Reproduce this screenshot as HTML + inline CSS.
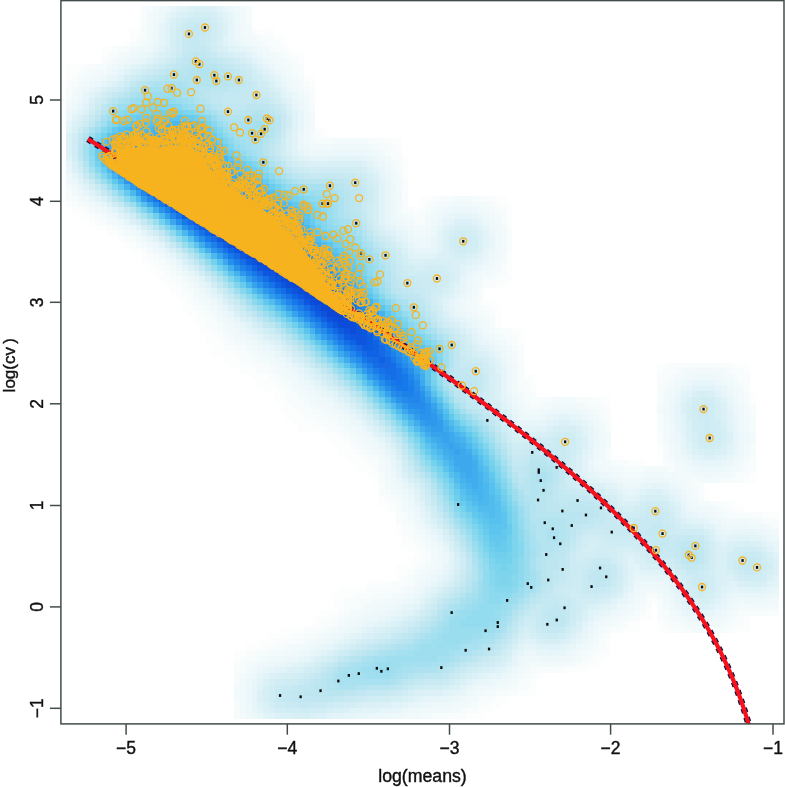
<!DOCTYPE html>
<html><head><meta charset="utf-8"><title>log(means) vs log(cv)</title>
<style>
html,body{margin:0;padding:0;background:#fff}
svg{display:block}
text{font-family:"Liberation Sans",sans-serif;fill:#111;stroke:#111;stroke-width:0.4px}
</style></head><body>
<svg width="785" height="787" viewBox="0 0 785 787">
<defs>
<clipPath id="pc"><rect x="60.9" y="0.6" width="723.1" height="723.3"/></clipPath>
<filter id="sb" x="-5%" y="-5%" width="110%" height="110%"><feGaussianBlur stdDeviation="0.5"/></filter>
</defs>
<rect width="785" height="787" fill="#fff"/>
<g shape-rendering="crispEdges" filter="url(#sb)">
<path fill="#fcfefe" d="M129.8 29.0H141.4V34.8H129.8zM257.3 29.0H274.7V34.8H257.3zM129.8 34.8H135.6V40.5H129.8zM274.7 34.8H286.3V40.5H274.7zM124.0 40.5H129.8V46.2H124.0zM280.5 40.5H286.3V46.2H280.5zM100.8 46.2H112.4V52.0H100.8zM286.3 46.2H292.1V52.0H286.3zM100.8 52.0H106.6V57.8H100.8zM292.1 52.0H303.7V57.8H292.1zM297.9 57.8H303.7V63.5H297.9zM66.0 63.5H83.4V69.2H66.0zM66.0 69.2H77.6V75.0H66.0zM66.0 75.0H71.8V80.8H66.0zM303.7 75.0H315.3V80.8H303.7zM309.5 80.8H315.3V86.5H309.5zM315.3 126.8H326.9V132.5H315.3zM321.1 132.5H326.9V138.2H321.1zM390.6 138.2H402.2V144.0H390.6zM396.4 144.0H402.2V149.8H396.4zM402.2 155.5H408.0V161.2H402.2zM402.2 161.2H408.0V167.0H402.2zM402.2 167.0H408.0V172.8H402.2zM402.2 172.8H408.0V178.5H402.2zM419.6 195.8H431.2V201.5H419.6zM495.0 195.8H506.6V201.5H495.0zM66.0 201.5H71.8V207.2H66.0zM419.6 201.5H425.4V207.2H419.6zM500.8 201.5H512.3V207.2H500.8zM71.8 207.2H83.4V213.0H71.8zM413.8 207.2H419.6V213.0H413.8zM506.6 207.2H512.3V213.0H506.6zM77.6 213.0H89.2V218.8H77.6zM506.6 213.0H512.3V218.8H506.6zM89.2 218.8H95.0V224.5H89.2zM506.6 218.8H512.3V224.5H506.6zM95.0 224.5H106.6V230.2H95.0zM506.6 224.5H512.3V230.2H506.6zM106.6 230.2H118.2V236.0H106.6zM118.2 236.0H124.0V241.8H118.2zM124.0 241.8H135.6V247.5H124.0zM129.8 247.5H141.4V253.2H129.8zM141.4 253.2H147.2V259.0H141.4zM506.6 253.2H512.3V259.0H506.6zM141.4 259.0H153.0V264.8H141.4zM506.6 259.0H512.3V264.8H506.6zM147.2 264.8H158.7V270.5H147.2zM506.6 264.8H512.3V270.5H506.6zM153.0 270.5H164.5V276.2H153.0zM506.6 270.5H512.3V276.2H506.6zM158.7 276.2H170.3V282.0H158.7zM500.8 276.2H512.3V282.0H500.8zM164.5 282.0H176.1V287.8H164.5zM495.0 282.0H506.6V287.8H495.0zM170.3 287.8H181.9V293.5H170.3zM176.1 293.5H187.7V299.2H176.1zM181.9 299.2H187.7V305.0H181.9zM483.4 299.2H495.0V305.0H483.4zM181.9 305.0H193.5V310.8H181.9zM489.2 305.0H500.8V310.8H489.2zM187.7 310.8H199.3V316.5H187.7zM495.0 310.8H500.8V316.5H495.0zM193.5 316.5H205.1V322.2H193.5zM495.0 316.5H500.8V322.2H495.0zM199.3 322.2H205.1V328.0H199.3zM495.0 322.2H500.8V328.0H495.0zM199.3 328.0H210.9V333.8H199.3zM512.3 328.0H523.9V333.8H512.3zM205.1 333.8H216.7V339.5H205.1zM518.1 333.8H523.9V339.5H518.1zM205.1 339.5H222.5V345.2H205.1zM518.1 339.5H523.9V345.2H518.1zM210.9 345.2H222.5V351.0H210.9zM210.9 351.0H234.1V356.8H210.9zM222.5 356.8H239.9V362.5H222.5zM228.3 362.5H251.5V368.2H228.3zM657.3 362.5H668.9V368.2H657.3zM732.6 362.5H750.0V368.2H732.6zM239.9 368.2H257.3V374.0H239.9zM657.3 368.2H663.1V374.0H657.3zM744.2 368.2H750.0V374.0H744.2zM251.5 374.0H268.9V379.8H251.5zM523.9 374.0H535.5V379.8H523.9zM257.3 379.8H274.7V385.5H257.3zM529.7 379.8H535.5V385.5H529.7zM263.1 385.5H280.5V391.2H263.1zM529.7 385.5H535.5V391.2H529.7zM274.7 391.2H286.3V397.0H274.7zM750.0 391.2H755.8V397.0H750.0zM274.7 397.0H286.3V402.8H274.7zM599.3 397.0H610.9V402.8H599.3zM750.0 397.0H755.8V402.8H750.0zM280.5 402.8H292.1V408.5H280.5zM605.1 402.8H610.9V408.5H605.1zM280.5 408.5H297.9V414.2H280.5zM286.3 414.2H303.7V420.0H286.3zM292.1 420.0H315.3V425.8H292.1zM297.9 425.8H326.9V431.5H297.9zM321.1 431.5H338.4V437.2H321.1zM326.9 437.2H344.2V443.0H326.9zM332.7 443.0H350.0V448.8H332.7zM657.3 443.0H663.1V448.8H657.3zM338.4 448.8H355.8V454.5H338.4zM657.3 448.8H663.1V454.5H657.3zM344.2 454.5H361.6V460.2H344.2zM610.9 454.5H622.5V460.2H610.9zM350.0 460.2H367.4V466.0H350.0zM628.3 460.2H645.7V466.0H628.3zM355.8 466.0H373.2V471.8H355.8zM367.4 471.8H379.0V477.5H367.4zM750.0 471.8H755.8V477.5H750.0zM373.2 477.5H379.0V483.2H373.2zM744.2 477.5H755.8V483.2H744.2zM703.6 489.0H709.4V494.8H703.6zM379.0 494.8H384.8V500.5H379.0zM703.6 494.8H709.4V500.5H703.6zM379.0 500.5H390.6V506.2H379.0zM726.8 500.5H738.4V506.2H726.8zM384.8 506.2H396.4V512.0H384.8zM732.6 506.2H744.2V512.0H732.6zM761.6 512.0H779.0V517.8H761.6zM396.4 523.5H402.2V529.2H396.4zM396.4 529.2H402.2V535.0H396.4zM402.2 535.0H408.0V540.8H402.2zM402.2 540.8H413.8V546.5H402.2zM408.0 546.5H419.6V552.2H408.0zM413.8 552.2H419.6V558.0H413.8zM408.0 558.0H419.6V563.8H408.0zM396.4 563.8H413.8V569.5H396.4zM396.4 569.5H408.0V575.2H396.4zM396.4 575.2H402.2V581.0H396.4zM367.4 581.0H390.6V586.8H367.4zM338.4 586.8H367.4V592.5H338.4zM332.7 592.5H355.8V598.2H332.7zM332.7 598.2H344.2V604.0H332.7zM651.5 598.2H657.3V604.0H651.5zM332.7 604.0H344.2V609.8H332.7zM321.1 609.8H338.4V615.5H321.1zM645.7 609.8H651.5V615.5H645.7zM315.3 615.5H332.7V621.2H315.3zM639.9 615.5H651.5V621.2H639.9zM744.2 615.5H750.0V621.2H744.2zM309.5 621.2H321.1V627.0H309.5zM628.3 621.2H639.9V627.0H628.3zM657.3 621.2H663.1V627.0H657.3zM744.2 621.2H750.0V627.0H744.2zM280.5 627.0H303.7V632.8H280.5zM622.5 627.0H639.9V632.8H622.5zM657.3 627.0H668.9V632.8H657.3zM732.6 627.0H750.0V632.8H732.6zM268.9 632.8H292.1V638.5H268.9zM257.3 638.5H274.7V644.2H257.3zM605.1 638.5H610.9V644.2H605.1zM245.7 644.2H263.1V650.0H245.7zM605.1 644.2H610.9V650.0H605.1zM234.1 650.0H245.7V655.8H234.1zM599.3 650.0H610.9V655.8H599.3zM234.1 655.8H239.9V661.5H234.1zM593.5 655.8H605.1V661.5H593.5zM587.7 661.5H599.3V667.2H587.7zM564.5 667.2H587.7V673.0H564.5zM535.5 673.0H541.3V678.8H535.5zM529.7 678.8H535.5V684.5H529.7zM529.7 684.5H535.5V690.2H529.7zM518.1 690.2H535.5V696.0H518.1zM495.0 696.0H506.6V701.8H495.0zM489.2 701.8H500.8V707.5H489.2zM477.6 707.5H495.0V713.2H477.6zM466.0 713.2H483.4V719.0H466.0z"/>
<path fill="#f9fcfd" d="M141.4 6.0H147.2V11.8H141.4zM141.4 11.8H147.2V17.5H141.4zM251.5 29.0H257.3V34.8H251.5zM135.6 34.8H141.4V40.5H135.6zM263.1 34.8H274.7V40.5H263.1zM129.8 40.5H135.6V46.2H129.8zM268.9 40.5H280.5V46.2H268.9zM112.4 46.2H118.2V52.0H112.4zM274.7 46.2H286.3V52.0H274.7zM106.6 52.0H112.4V57.8H106.6zM286.3 52.0H292.1V57.8H286.3zM100.8 57.8H106.6V63.5H100.8zM292.1 57.8H297.9V63.5H292.1zM83.4 63.5H95.0V69.2H83.4zM297.9 63.5H303.7V69.2H297.9zM77.6 69.2H83.4V75.0H77.6zM297.9 69.2H303.7V75.0H297.9zM71.8 75.0H77.6V80.8H71.8zM66.0 80.8H71.8V86.5H66.0zM303.7 80.8H309.5V86.5H303.7zM66.0 86.5H71.8V92.2H66.0zM309.5 86.5H315.3V92.2H309.5zM309.5 92.2H315.3V98.0H309.5zM315.3 132.5H321.1V138.2H315.3zM379.0 138.2H390.6V144.0H379.0zM390.6 144.0H396.4V149.8H390.6zM390.6 149.8H402.2V155.5H390.6zM396.4 155.5H402.2V161.2H396.4zM402.2 178.5H408.0V184.2H402.2zM402.2 184.2H408.0V190.0H402.2zM402.2 190.0H408.0V195.8H402.2zM66.0 195.8H71.8V201.5H66.0zM402.2 195.8H408.0V201.5H402.2zM431.2 195.8H442.8V201.5H431.2zM483.4 195.8H495.0V201.5H483.4zM71.8 201.5H77.6V207.2H71.8zM402.2 201.5H408.0V207.2H402.2zM425.4 201.5H431.2V207.2H425.4zM495.0 201.5H500.8V207.2H495.0zM83.4 207.2H89.2V213.0H83.4zM402.2 207.2H413.8V213.0H402.2zM419.6 207.2H425.4V213.0H419.6zM500.8 207.2H506.6V213.0H500.8zM89.2 213.0H95.0V218.8H89.2zM413.8 213.0H419.6V218.8H413.8zM95.0 218.8H106.6V224.5H95.0zM106.6 224.5H112.4V230.2H106.6zM118.2 230.2H124.0V236.0H118.2zM506.6 230.2H512.3V236.0H506.6zM124.0 236.0H129.8V241.8H124.0zM506.6 236.0H512.3V241.8H506.6zM506.6 241.8H512.3V247.5H506.6zM141.4 247.5H147.2V253.2H141.4zM506.6 247.5H512.3V253.2H506.6zM147.2 253.2H153.0V259.0H147.2zM153.0 259.0H158.7V264.8H153.0zM158.7 264.8H164.5V270.5H158.7zM500.8 264.8H506.6V270.5H500.8zM164.5 270.5H170.3V276.2H164.5zM500.8 270.5H506.6V276.2H500.8zM170.3 276.2H176.1V282.0H170.3zM495.0 276.2H500.8V282.0H495.0zM176.1 282.0H181.9V287.8H176.1zM483.4 282.0H495.0V287.8H483.4zM181.9 287.8H187.7V293.5H181.9zM187.7 293.5H193.5V299.2H187.7zM187.7 299.2H193.5V305.0H187.7zM477.6 299.2H483.4V305.0H477.6zM193.5 305.0H199.3V310.8H193.5zM483.4 305.0H489.2V310.8H483.4zM199.3 310.8H205.1V316.5H199.3zM489.2 310.8H495.0V316.5H489.2zM205.1 316.5H210.9V322.2H205.1zM205.1 322.2H216.7V328.0H205.1zM210.9 328.0H216.7V333.8H210.9zM500.8 328.0H512.3V333.8H500.8zM216.7 333.8H222.5V339.5H216.7zM506.6 333.8H518.1V339.5H506.6zM222.5 339.5H228.3V345.2H222.5zM512.3 339.5H518.1V345.2H512.3zM222.5 345.2H234.1V351.0H222.5zM518.1 345.2H523.9V351.0H518.1zM234.1 351.0H245.7V356.8H234.1zM518.1 351.0H523.9V356.8H518.1zM239.9 356.8H251.5V362.5H239.9zM518.1 356.8H523.9V362.5H518.1zM251.5 362.5H263.1V368.2H251.5zM668.9 362.5H686.3V368.2H668.9zM721.0 362.5H732.6V368.2H721.0zM257.3 368.2H268.9V374.0H257.3zM663.1 368.2H674.7V374.0H663.1zM732.6 368.2H744.2V374.0H732.6zM268.9 374.0H274.7V379.8H268.9zM657.3 374.0H668.9V379.8H657.3zM738.4 374.0H750.0V379.8H738.4zM274.7 379.8H280.5V385.5H274.7zM523.9 379.8H529.7V385.5H523.9zM657.3 379.8H663.1V385.5H657.3zM744.2 379.8H750.0V385.5H744.2zM280.5 385.5H286.3V391.2H280.5zM523.9 385.5H529.7V391.2H523.9zM744.2 385.5H750.0V391.2H744.2zM286.3 391.2H292.1V397.0H286.3zM529.7 391.2H535.5V397.0H529.7zM286.3 397.0H297.9V402.8H286.3zM529.7 397.0H541.3V402.8H529.7zM587.7 397.0H599.3V402.8H587.7zM292.1 402.8H303.7V408.5H292.1zM599.3 402.8H605.1V408.5H599.3zM750.0 402.8H755.8V408.5H750.0zM297.9 408.5H309.5V414.2H297.9zM605.1 408.5H610.9V414.2H605.1zM750.0 408.5H755.8V414.2H750.0zM303.7 414.2H315.3V420.0H303.7zM605.1 414.2H610.9V420.0H605.1zM315.3 420.0H326.9V425.8H315.3zM326.9 425.8H338.4V431.5H326.9zM338.4 431.5H344.2V437.2H338.4zM657.3 431.5H663.1V437.2H657.3zM344.2 437.2H350.0V443.0H344.2zM657.3 437.2H663.1V443.0H657.3zM350.0 443.0H355.8V448.8H350.0zM355.8 448.8H361.6V454.5H355.8zM361.6 454.5H367.4V460.2H361.6zM367.4 460.2H379.0V466.0H367.4zM616.7 460.2H628.3V466.0H616.7zM663.1 460.2H668.9V466.0H663.1zM750.0 460.2H755.8V466.0H750.0zM373.2 466.0H379.0V471.8H373.2zM750.0 466.0H755.8V471.8H750.0zM744.2 471.8H750.0V477.5H744.2zM732.6 477.5H744.2V483.2H732.6zM379.0 483.2H384.8V489.0H379.0zM697.8 483.2H703.6V489.0H697.8zM379.0 489.0H384.8V494.8H379.0zM697.8 489.0H703.6V494.8H697.8zM384.8 494.8H390.6V500.5H384.8zM390.6 500.5H396.4V506.2H390.6zM715.2 500.5H726.8V506.2H715.2zM726.8 506.2H732.6V512.0H726.8zM396.4 512.0H402.2V517.8H396.4zM732.6 512.0H761.6V517.8H732.6zM396.4 517.8H402.2V523.5H396.4zM767.4 517.8H779.0V523.5H767.4zM402.2 523.5H408.0V529.2H402.2zM402.2 529.2H413.8V535.0H402.2zM408.0 535.0H413.8V540.8H408.0zM413.8 540.8H419.6V546.5H413.8zM419.6 546.5H425.4V552.2H419.6zM419.6 552.2H431.2V558.0H419.6zM419.6 558.0H425.4V563.8H419.6zM413.8 563.8H419.6V569.5H413.8zM408.0 569.5H413.8V575.2H408.0zM402.2 575.2H408.0V581.0H402.2zM390.6 581.0H408.0V586.8H390.6zM367.4 586.8H396.4V592.5H367.4zM355.8 592.5H373.2V598.2H355.8zM344.2 598.2H355.8V604.0H344.2zM645.7 598.2H651.5V604.0H645.7zM344.2 604.0H350.0V609.8H344.2zM645.7 604.0H651.5V609.8H645.7zM338.4 609.8H344.2V615.5H338.4zM639.9 609.8H645.7V615.5H639.9zM657.3 609.8H663.1V615.5H657.3zM767.4 609.8H779.0V615.5H767.4zM332.7 615.5H338.4V621.2H332.7zM634.1 615.5H639.9V621.2H634.1zM657.3 615.5H663.1V621.2H657.3zM738.4 615.5H744.2V621.2H738.4zM321.1 621.2H332.7V627.0H321.1zM622.5 621.2H628.3V627.0H622.5zM663.1 621.2H668.9V627.0H663.1zM732.6 621.2H744.2V627.0H732.6zM303.7 627.0H321.1V632.8H303.7zM610.9 627.0H622.5V632.8H610.9zM668.9 627.0H680.5V632.8H668.9zM726.8 627.0H732.6V632.8H726.8zM292.1 632.8H303.7V638.5H292.1zM605.1 632.8H610.9V638.5H605.1zM274.7 638.5H292.1V644.2H274.7zM599.3 638.5H605.1V644.2H599.3zM263.1 644.2H274.7V650.0H263.1zM599.3 644.2H605.1V650.0H599.3zM245.7 650.0H257.3V655.8H245.7zM593.5 650.0H599.3V655.8H593.5zM239.9 655.8H245.7V661.5H239.9zM587.7 655.8H593.5V661.5H587.7zM234.1 661.5H239.9V667.2H234.1zM576.1 661.5H587.7V667.2H576.1zM234.1 667.2H239.9V673.0H234.1zM535.5 667.2H564.5V673.0H535.5zM529.7 673.0H535.5V678.8H529.7zM523.9 678.8H529.7V684.5H523.9zM518.1 684.5H529.7V690.2H518.1zM506.6 690.2H518.1V696.0H506.6zM483.4 696.0H495.0V701.8H483.4zM477.6 701.8H489.2V707.5H477.6zM466.0 707.5H477.6V713.2H466.0zM448.6 713.2H466.0V719.0H448.6z"/>
<path fill="#f6fbfc" d="M147.2 6.0H153.0V11.8H147.2zM245.7 6.0H251.5V11.8H245.7zM245.7 11.8H251.5V17.5H245.7zM141.4 17.5H147.2V23.2H141.4zM245.7 17.5H251.5V23.2H245.7zM141.4 23.2H147.2V29.0H141.4zM141.4 29.0H147.2V34.8H141.4zM141.4 34.8H147.2V40.5H141.4zM257.3 34.8H263.1V40.5H257.3zM135.6 40.5H141.4V46.2H135.6zM263.1 40.5H268.9V46.2H263.1zM118.2 46.2H129.8V52.0H118.2zM268.9 46.2H274.7V52.0H268.9zM112.4 52.0H118.2V57.8H112.4zM280.5 52.0H286.3V57.8H280.5zM106.6 57.8H112.4V63.5H106.6zM286.3 57.8H292.1V63.5H286.3zM95.0 63.5H106.6V69.2H95.0zM292.1 63.5H297.9V69.2H292.1zM83.4 69.2H89.2V75.0H83.4zM292.1 69.2H297.9V75.0H292.1zM77.6 75.0H83.4V80.8H77.6zM297.9 75.0H303.7V80.8H297.9zM71.8 80.8H77.6V86.5H71.8zM303.7 86.5H309.5V92.2H303.7zM66.0 92.2H71.8V98.0H66.0zM309.5 98.0H315.3V103.8H309.5zM309.5 103.8H315.3V109.5H309.5zM309.5 132.5H315.3V138.2H309.5zM315.3 138.2H332.7V144.0H315.3zM367.4 138.2H379.0V144.0H367.4zM379.0 144.0H390.6V149.8H379.0zM384.8 149.8H390.6V155.5H384.8zM390.6 155.5H396.4V161.2H390.6zM396.4 161.2H402.2V167.0H396.4zM396.4 167.0H402.2V172.8H396.4zM66.0 190.0H71.8V195.8H66.0zM71.8 195.8H77.6V201.5H71.8zM442.8 195.8H454.4V201.5H442.8zM471.8 195.8H483.4V201.5H471.8zM77.6 201.5H83.4V207.2H77.6zM431.2 201.5H437.0V207.2H431.2zM489.2 201.5H495.0V207.2H489.2zM425.4 207.2H431.2V213.0H425.4zM495.0 207.2H500.8V213.0H495.0zM95.0 213.0H100.8V218.8H95.0zM408.0 213.0H413.8V218.8H408.0zM419.6 213.0H425.4V218.8H419.6zM500.8 213.0H506.6V218.8H500.8zM413.8 218.8H425.4V224.5H413.8zM500.8 218.8H506.6V224.5H500.8zM112.4 224.5H118.2V230.2H112.4zM129.8 236.0H135.6V241.8H129.8zM135.6 241.8H141.4V247.5H135.6zM153.0 253.2H158.7V259.0H153.0zM158.7 259.0H164.5V264.8H158.7zM500.8 259.0H506.6V264.8H500.8zM164.5 264.8H170.3V270.5H164.5zM170.3 270.5H176.1V276.2H170.3zM495.0 270.5H500.8V276.2H495.0zM176.1 276.2H181.9V282.0H176.1zM483.4 276.2H495.0V282.0H483.4zM181.9 282.0H187.7V287.8H181.9zM187.7 287.8H193.5V293.5H187.7zM477.6 287.8H483.4V293.5H477.6zM477.6 293.5H483.4V299.2H477.6zM193.5 299.2H199.3V305.0H193.5zM199.3 305.0H205.1V310.8H199.3zM477.6 305.0H483.4V310.8H477.6zM205.1 310.8H210.9V316.5H205.1zM483.4 310.8H489.2V316.5H483.4zM210.9 316.5H216.7V322.2H210.9zM489.2 316.5H495.0V322.2H489.2zM216.7 322.2H222.5V328.0H216.7zM489.2 322.2H495.0V328.0H489.2zM216.7 328.0H222.5V333.8H216.7zM495.0 328.0H500.8V333.8H495.0zM222.5 333.8H228.3V339.5H222.5zM500.8 333.8H506.6V339.5H500.8zM228.3 339.5H234.1V345.2H228.3zM506.6 339.5H512.3V345.2H506.6zM234.1 345.2H245.7V351.0H234.1zM512.3 345.2H518.1V351.0H512.3zM245.7 351.0H251.5V356.8H245.7zM251.5 356.8H257.3V362.5H251.5zM263.1 362.5H268.9V368.2H263.1zM518.1 362.5H523.9V368.2H518.1zM686.3 362.5H721.0V368.2H686.3zM268.9 368.2H274.7V374.0H268.9zM518.1 368.2H523.9V374.0H518.1zM674.7 368.2H680.5V374.0H674.7zM726.8 368.2H732.6V374.0H726.8zM274.7 374.0H280.5V379.8H274.7zM518.1 374.0H523.9V379.8H518.1zM668.9 374.0H674.7V379.8H668.9zM732.6 374.0H738.4V379.8H732.6zM280.5 379.8H292.1V385.5H280.5zM518.1 379.8H523.9V385.5H518.1zM663.1 379.8H668.9V385.5H663.1zM738.4 379.8H744.2V385.5H738.4zM286.3 385.5H292.1V391.2H286.3zM518.1 385.5H523.9V391.2H518.1zM657.3 385.5H663.1V391.2H657.3zM292.1 391.2H297.9V397.0H292.1zM523.9 391.2H529.7V397.0H523.9zM657.3 391.2H663.1V397.0H657.3zM744.2 391.2H750.0V397.0H744.2zM297.9 397.0H303.7V402.8H297.9zM523.9 397.0H529.7V402.8H523.9zM541.3 397.0H552.9V402.8H541.3zM576.1 397.0H587.7V402.8H576.1zM657.3 397.0H663.1V402.8H657.3zM744.2 397.0H750.0V402.8H744.2zM303.7 402.8H309.5V408.5H303.7zM529.7 402.8H541.3V408.5H529.7zM587.7 402.8H599.3V408.5H587.7zM309.5 408.5H321.1V414.2H309.5zM599.3 408.5H605.1V414.2H599.3zM315.3 414.2H326.9V420.0H315.3zM599.3 414.2H605.1V420.0H599.3zM657.3 414.2H663.1V420.0H657.3zM750.0 414.2H755.8V420.0H750.0zM326.9 420.0H338.4V425.8H326.9zM605.1 420.0H610.9V425.8H605.1zM657.3 420.0H663.1V425.8H657.3zM750.0 420.0H755.8V425.8H750.0zM338.4 425.8H344.2V431.5H338.4zM605.1 425.8H610.9V431.5H605.1zM657.3 425.8H663.1V431.5H657.3zM750.0 425.8H755.8V431.5H750.0zM344.2 431.5H350.0V437.2H344.2zM350.0 437.2H355.8V443.0H350.0zM355.8 443.0H361.6V448.8H355.8zM663.1 443.0H668.9V448.8H663.1zM750.0 443.0H755.8V448.8H750.0zM361.6 448.8H367.4V454.5H361.6zM605.1 448.8H610.9V454.5H605.1zM663.1 448.8H668.9V454.5H663.1zM750.0 448.8H755.8V454.5H750.0zM367.4 454.5H379.0V460.2H367.4zM605.1 454.5H610.9V460.2H605.1zM663.1 454.5H668.9V460.2H663.1zM750.0 454.5H755.8V460.2H750.0zM610.9 460.2H616.7V466.0H610.9zM668.9 460.2H674.7V466.0H668.9zM744.2 460.2H750.0V466.0H744.2zM622.5 466.0H645.7V471.8H622.5zM668.9 466.0H674.7V471.8H668.9zM744.2 466.0H750.0V471.8H744.2zM379.0 471.8H384.8V477.5H379.0zM732.6 471.8H744.2V477.5H732.6zM379.0 477.5H384.8V483.2H379.0zM692.0 477.5H697.8V483.2H692.0zM721.0 477.5H732.6V483.2H721.0zM692.0 483.2H697.8V489.0H692.0zM384.8 489.0H390.6V494.8H384.8zM390.6 494.8H396.4V500.5H390.6zM697.8 494.8H703.6V500.5H697.8zM396.4 500.5H402.2V506.2H396.4zM709.4 500.5H715.2V506.2H709.4zM396.4 506.2H402.2V512.0H396.4zM721.0 506.2H726.8V512.0H721.0zM402.2 512.0H408.0V517.8H402.2zM726.8 512.0H732.6V517.8H726.8zM402.2 517.8H408.0V523.5H402.2zM761.6 517.8H767.4V523.5H761.6zM408.0 523.5H413.8V529.2H408.0zM773.2 523.5H779.0V529.2H773.2zM413.8 535.0H419.6V540.8H413.8zM419.6 540.8H425.4V546.5H419.6zM425.4 546.5H431.2V552.2H425.4zM425.4 558.0H431.2V563.8H425.4zM419.6 563.8H425.4V569.5H419.6zM413.8 569.5H419.6V575.2H413.8zM408.0 575.2H413.8V581.0H408.0zM408.0 581.0H413.8V586.8H408.0zM396.4 586.8H402.2V592.5H396.4zM373.2 592.5H390.6V598.2H373.2zM645.7 592.5H657.3V598.2H645.7zM355.8 598.2H373.2V604.0H355.8zM657.3 598.2H663.1V604.0H657.3zM350.0 604.0H361.6V609.8H350.0zM639.9 604.0H645.7V609.8H639.9zM657.3 604.0H663.1V609.8H657.3zM344.2 609.8H350.0V615.5H344.2zM634.1 609.8H639.9V615.5H634.1zM663.1 609.8H668.9V615.5H663.1zM738.4 609.8H767.4V615.5H738.4zM338.4 615.5H344.2V621.2H338.4zM628.3 615.5H634.1V621.2H628.3zM663.1 615.5H668.9V621.2H663.1zM732.6 615.5H738.4V621.2H732.6zM332.7 621.2H338.4V627.0H332.7zM616.7 621.2H622.5V627.0H616.7zM668.9 621.2H680.5V627.0H668.9zM726.8 621.2H732.6V627.0H726.8zM321.1 627.0H326.9V632.8H321.1zM605.1 627.0H610.9V632.8H605.1zM680.5 627.0H692.0V632.8H680.5zM709.4 627.0H726.8V632.8H709.4zM303.7 632.8H315.3V638.5H303.7zM599.3 632.8H605.1V638.5H599.3zM292.1 638.5H303.7V644.2H292.1zM274.7 644.2H286.3V650.0H274.7zM593.5 644.2H599.3V650.0H593.5zM257.3 650.0H268.9V655.8H257.3zM587.7 650.0H593.5V655.8H587.7zM245.7 655.8H257.3V661.5H245.7zM581.9 655.8H587.7V661.5H581.9zM239.9 661.5H245.7V667.2H239.9zM570.3 661.5H576.1V667.2H570.3zM239.9 667.2H245.7V673.0H239.9zM529.7 667.2H535.5V673.0H529.7zM234.1 673.0H239.9V678.8H234.1zM523.9 673.0H529.7V678.8H523.9zM234.1 678.8H239.9V684.5H234.1zM518.1 678.8H523.9V684.5H518.1zM512.3 684.5H518.1V690.2H512.3zM495.0 690.2H506.6V696.0H495.0zM477.6 696.0H483.4V701.8H477.6zM234.1 701.8H239.9V707.5H234.1zM471.8 701.8H477.6V707.5H471.8zM234.1 707.5H239.9V713.2H234.1zM460.2 707.5H466.0V713.2H460.2zM234.1 713.2H239.9V719.0H234.1zM431.2 713.2H448.6V719.0H431.2z"/>
<path fill="#f3fafc" d="M153.0 6.0H158.7V11.8H153.0zM239.9 6.0H245.7V11.8H239.9zM147.2 11.8H153.0V17.5H147.2zM147.2 17.5H153.0V23.2H147.2zM245.7 23.2H251.5V29.0H245.7zM245.7 29.0H251.5V34.8H245.7zM251.5 34.8H257.3V40.5H251.5zM141.4 40.5H147.2V46.2H141.4zM257.3 40.5H263.1V46.2H257.3zM129.8 46.2H135.6V52.0H129.8zM118.2 52.0H124.0V57.8H118.2zM274.7 52.0H280.5V57.8H274.7zM112.4 57.8H118.2V63.5H112.4zM280.5 57.8H286.3V63.5H280.5zM286.3 63.5H292.1V69.2H286.3zM89.2 69.2H100.8V75.0H89.2zM83.4 75.0H89.2V80.8H83.4zM292.1 75.0H297.9V80.8H292.1zM77.6 80.8H83.4V86.5H77.6zM297.9 80.8H303.7V86.5H297.9zM71.8 86.5H77.6V92.2H71.8zM297.9 86.5H303.7V92.2H297.9zM303.7 92.2H309.5V98.0H303.7zM66.0 98.0H71.8V103.8H66.0zM309.5 109.5H315.3V115.2H309.5zM309.5 115.2H315.3V121.0H309.5zM309.5 121.0H315.3V126.8H309.5zM309.5 126.8H315.3V132.5H309.5zM309.5 138.2H315.3V144.0H309.5zM332.7 138.2H367.4V144.0H332.7zM373.2 144.0H379.0V149.8H373.2zM390.6 161.2H396.4V167.0H390.6zM396.4 172.8H402.2V178.5H396.4zM396.4 178.5H402.2V184.2H396.4zM66.0 184.2H71.8V190.0H66.0zM396.4 184.2H402.2V190.0H396.4zM454.4 195.8H471.8V201.5H454.4zM83.4 201.5H89.2V207.2H83.4zM437.0 201.5H448.6V207.2H437.0zM477.6 201.5H489.2V207.2H477.6zM89.2 207.2H95.0V213.0H89.2zM396.4 207.2H402.2V213.0H396.4zM431.2 207.2H437.0V213.0H431.2zM489.2 207.2H495.0V213.0H489.2zM100.8 213.0H106.6V218.8H100.8zM402.2 213.0H408.0V218.8H402.2zM425.4 213.0H431.2V218.8H425.4zM495.0 213.0H500.8V218.8H495.0zM106.6 218.8H112.4V224.5H106.6zM408.0 218.8H413.8V224.5H408.0zM118.2 224.5H124.0V230.2H118.2zM413.8 224.5H425.4V230.2H413.8zM500.8 224.5H506.6V230.2H500.8zM124.0 230.2H129.8V236.0H124.0zM500.8 230.2H506.6V236.0H500.8zM500.8 236.0H506.6V241.8H500.8zM141.4 241.8H147.2V247.5H141.4zM500.8 241.8H506.6V247.5H500.8zM147.2 247.5H153.0V253.2H147.2zM500.8 247.5H506.6V253.2H500.8zM500.8 253.2H506.6V259.0H500.8zM495.0 259.0H500.8V264.8H495.0zM495.0 264.8H500.8V270.5H495.0zM489.2 270.5H495.0V276.2H489.2zM477.6 282.0H483.4V287.8H477.6zM193.5 293.5H199.3V299.2H193.5zM471.8 293.5H477.6V299.2H471.8zM199.3 299.2H205.1V305.0H199.3zM471.8 299.2H477.6V305.0H471.8zM205.1 305.0H210.9V310.8H205.1zM471.8 305.0H477.6V310.8H471.8zM210.9 310.8H216.7V316.5H210.9zM477.6 310.8H483.4V316.5H477.6zM483.4 316.5H489.2V322.2H483.4zM222.5 328.0H228.3V333.8H222.5zM489.2 328.0H495.0V333.8H489.2zM228.3 333.8H234.1V339.5H228.3zM495.0 333.8H500.8V339.5H495.0zM234.1 339.5H239.9V345.2H234.1zM245.7 345.2H251.5V351.0H245.7zM506.6 345.2H512.3V351.0H506.6zM251.5 351.0H257.3V356.8H251.5zM512.3 351.0H518.1V356.8H512.3zM257.3 356.8H268.9V362.5H257.3zM512.3 356.8H518.1V362.5H512.3zM268.9 362.5H274.7V368.2H268.9zM274.7 368.2H280.5V374.0H274.7zM680.5 368.2H686.3V374.0H680.5zM721.0 368.2H726.8V374.0H721.0zM280.5 374.0H286.3V379.8H280.5zM674.7 374.0H680.5V379.8H674.7zM726.8 374.0H732.6V379.8H726.8zM668.9 379.8H674.7V385.5H668.9zM732.6 379.8H738.4V385.5H732.6zM292.1 385.5H297.9V391.2H292.1zM663.1 385.5H668.9V391.2H663.1zM738.4 385.5H744.2V391.2H738.4zM297.9 391.2H303.7V397.0H297.9zM518.1 391.2H523.9V397.0H518.1zM303.7 397.0H309.5V402.8H303.7zM552.9 397.0H576.1V402.8H552.9zM309.5 402.8H315.3V408.5H309.5zM523.9 402.8H529.7V408.5H523.9zM541.3 402.8H547.1V408.5H541.3zM581.9 402.8H587.7V408.5H581.9zM657.3 402.8H663.1V408.5H657.3zM744.2 402.8H750.0V408.5H744.2zM321.1 408.5H326.9V414.2H321.1zM593.5 408.5H599.3V414.2H593.5zM657.3 408.5H663.1V414.2H657.3zM744.2 408.5H750.0V414.2H744.2zM326.9 414.2H338.4V420.0H326.9zM744.2 414.2H750.0V420.0H744.2zM338.4 420.0H344.2V425.8H338.4zM599.3 420.0H605.1V425.8H599.3zM344.2 425.8H350.0V431.5H344.2zM663.1 425.8H668.9V431.5H663.1zM350.0 431.5H355.8V437.2H350.0zM605.1 431.5H610.9V437.2H605.1zM663.1 431.5H668.9V437.2H663.1zM750.0 431.5H755.8V437.2H750.0zM355.8 437.2H361.6V443.0H355.8zM605.1 437.2H610.9V443.0H605.1zM663.1 437.2H668.9V443.0H663.1zM750.0 437.2H755.8V443.0H750.0zM361.6 443.0H367.4V448.8H361.6zM605.1 443.0H610.9V448.8H605.1zM367.4 448.8H373.2V454.5H367.4zM668.9 454.5H674.7V460.2H668.9zM744.2 454.5H750.0V460.2H744.2zM379.0 460.2H384.8V466.0H379.0zM605.1 460.2H610.9V466.0H605.1zM379.0 466.0H384.8V471.8H379.0zM610.9 466.0H622.5V471.8H610.9zM645.7 466.0H668.9V471.8H645.7zM674.7 466.0H680.5V471.8H674.7zM738.4 466.0H744.2V471.8H738.4zM622.5 471.8H639.9V477.5H622.5zM674.7 471.8H692.0V477.5H674.7zM726.8 471.8H732.6V477.5H726.8zM384.8 477.5H390.6V483.2H384.8zM680.5 477.5H692.0V483.2H680.5zM697.8 477.5H721.0V483.2H697.8zM384.8 483.2H390.6V489.0H384.8zM686.3 483.2H692.0V489.0H686.3zM390.6 489.0H396.4V494.8H390.6zM692.0 489.0H697.8V494.8H692.0zM396.4 494.8H402.2V500.5H396.4zM692.0 494.8H697.8V500.5H692.0zM697.8 500.5H709.4V506.2H697.8zM402.2 506.2H408.0V512.0H402.2zM715.2 506.2H721.0V512.0H715.2zM721.0 512.0H726.8V517.8H721.0zM408.0 517.8H413.8V523.5H408.0zM750.0 517.8H761.6V523.5H750.0zM767.4 523.5H773.2V529.2H767.4zM413.8 529.2H419.6V535.0H413.8zM419.6 535.0H425.4V540.8H419.6zM425.4 540.8H431.2V546.5H425.4zM431.2 552.2H437.0V558.0H431.2zM431.2 558.0H437.0V563.8H431.2zM425.4 563.8H431.2V569.5H425.4zM419.6 569.5H425.4V575.2H419.6zM413.8 575.2H419.6V581.0H413.8zM402.2 586.8H408.0V592.5H402.2zM390.6 592.5H402.2V598.2H390.6zM657.3 592.5H663.1V598.2H657.3zM373.2 598.2H384.8V604.0H373.2zM639.9 598.2H645.7V604.0H639.9zM361.6 604.0H367.4V609.8H361.6zM634.1 604.0H639.9V609.8H634.1zM663.1 604.0H668.9V609.8H663.1zM738.4 604.0H750.0V609.8H738.4zM767.4 604.0H779.0V609.8H767.4zM350.0 609.8H361.6V615.5H350.0zM628.3 609.8H634.1V615.5H628.3zM732.6 609.8H738.4V615.5H732.6zM344.2 615.5H350.0V621.2H344.2zM616.7 615.5H628.3V621.2H616.7zM668.9 615.5H674.7V621.2H668.9zM726.8 615.5H732.6V621.2H726.8zM338.4 621.2H344.2V627.0H338.4zM610.9 621.2H616.7V627.0H610.9zM680.5 621.2H686.3V627.0H680.5zM721.0 621.2H726.8V627.0H721.0zM326.9 627.0H332.7V632.8H326.9zM599.3 627.0H605.1V632.8H599.3zM692.0 627.0H709.4V632.8H692.0zM315.3 632.8H321.1V638.5H315.3zM303.7 638.5H309.5V644.2H303.7zM593.5 638.5H599.3V644.2H593.5zM286.3 644.2H297.9V650.0H286.3zM587.7 644.2H593.5V650.0H587.7zM268.9 650.0H280.5V655.8H268.9zM581.9 650.0H587.7V655.8H581.9zM257.3 655.8H263.1V661.5H257.3zM576.1 655.8H581.9V661.5H576.1zM245.7 661.5H251.5V667.2H245.7zM529.7 661.5H541.3V667.2H529.7zM558.7 661.5H570.3V667.2H558.7zM523.9 667.2H529.7V673.0H523.9zM239.9 673.0H245.7V678.8H239.9zM518.1 673.0H523.9V678.8H518.1zM512.3 678.8H518.1V684.5H512.3zM234.1 684.5H239.9V690.2H234.1zM506.6 684.5H512.3V690.2H506.6zM234.1 690.2H239.9V696.0H234.1zM483.4 690.2H495.0V696.0H483.4zM234.1 696.0H239.9V701.8H234.1zM471.8 696.0H477.6V701.8H471.8zM466.0 701.8H471.8V707.5H466.0zM448.6 707.5H460.2V713.2H448.6zM239.9 713.2H245.7V719.0H239.9zM419.6 713.2H431.2V719.0H419.6z"/>
<path fill="#f1f9fb" d="M153.0 11.8H158.7V17.5H153.0zM239.9 11.8H245.7V17.5H239.9zM239.9 17.5H245.7V23.2H239.9zM147.2 23.2H153.0V29.0H147.2zM239.9 23.2H245.7V29.0H239.9zM147.2 29.0H153.0V34.8H147.2zM239.9 29.0H245.7V34.8H239.9zM147.2 34.8H153.0V40.5H147.2zM245.7 34.8H251.5V40.5H245.7zM251.5 40.5H257.3V46.2H251.5zM135.6 46.2H141.4V52.0H135.6zM263.1 46.2H268.9V52.0H263.1zM124.0 52.0H129.8V57.8H124.0zM268.9 52.0H274.7V57.8H268.9zM118.2 57.8H124.0V63.5H118.2zM274.7 57.8H280.5V63.5H274.7zM106.6 63.5H112.4V69.2H106.6zM280.5 63.5H286.3V69.2H280.5zM100.8 69.2H106.6V75.0H100.8zM286.3 69.2H292.1V75.0H286.3zM89.2 75.0H95.0V80.8H89.2zM83.4 80.8H89.2V86.5H83.4zM292.1 80.8H297.9V86.5H292.1zM77.6 86.5H83.4V92.2H77.6zM71.8 92.2H77.6V98.0H71.8zM303.7 98.0H309.5V103.8H303.7zM66.0 103.8H71.8V109.5H66.0zM309.5 144.0H332.7V149.8H309.5zM367.4 144.0H373.2V149.8H367.4zM379.0 149.8H384.8V155.5H379.0zM384.8 155.5H390.6V161.2H384.8zM390.6 167.0H396.4V172.8H390.6zM71.8 190.0H77.6V195.8H71.8zM396.4 190.0H402.2V195.8H396.4zM77.6 195.8H83.4V201.5H77.6zM396.4 195.8H402.2V201.5H396.4zM396.4 201.5H402.2V207.2H396.4zM448.6 201.5H454.4V207.2H448.6zM471.8 201.5H477.6V207.2H471.8zM95.0 207.2H100.8V213.0H95.0zM437.0 207.2H442.8V213.0H437.0zM483.4 207.2H489.2V213.0H483.4zM396.4 213.0H402.2V218.8H396.4zM431.2 213.0H437.0V218.8H431.2zM489.2 213.0H495.0V218.8H489.2zM112.4 218.8H118.2V224.5H112.4zM402.2 218.8H408.0V224.5H402.2zM425.4 218.8H431.2V224.5H425.4zM495.0 218.8H500.8V224.5H495.0zM408.0 224.5H413.8V230.2H408.0zM425.4 224.5H431.2V230.2H425.4zM495.0 224.5H500.8V230.2H495.0zM129.8 230.2H135.6V236.0H129.8zM413.8 230.2H425.4V236.0H413.8zM135.6 236.0H141.4V241.8H135.6zM158.7 253.2H164.5V259.0H158.7zM495.0 253.2H500.8V259.0H495.0zM164.5 259.0H170.3V264.8H164.5zM170.3 264.8H176.1V270.5H170.3zM489.2 264.8H495.0V270.5H489.2zM176.1 270.5H181.9V276.2H176.1zM483.4 270.5H489.2V276.2H483.4zM181.9 276.2H187.7V282.0H181.9zM477.6 276.2H483.4V282.0H477.6zM187.7 282.0H193.5V287.8H187.7zM471.8 282.0H477.6V287.8H471.8zM193.5 287.8H199.3V293.5H193.5zM471.8 287.8H477.6V293.5H471.8zM199.3 293.5H205.1V299.2H199.3zM205.1 299.2H210.9V305.0H205.1zM466.0 299.2H471.8V305.0H466.0zM466.0 305.0H471.8V310.8H466.0zM471.8 310.8H477.6V316.5H471.8zM216.7 316.5H222.5V322.2H216.7zM477.6 316.5H483.4V322.2H477.6zM222.5 322.2H228.3V328.0H222.5zM483.4 322.2H489.2V328.0H483.4zM228.3 328.0H234.1V333.8H228.3zM234.1 333.8H239.9V339.5H234.1zM239.9 339.5H245.7V345.2H239.9zM500.8 339.5H506.6V345.2H500.8zM251.5 345.2H257.3V351.0H251.5zM257.3 351.0H263.1V356.8H257.3zM506.6 351.0H512.3V356.8H506.6zM274.7 362.5H280.5V368.2H274.7zM512.3 362.5H518.1V368.2H512.3zM280.5 368.2H286.3V374.0H280.5zM512.3 368.2H518.1V374.0H512.3zM686.3 368.2H721.0V374.0H686.3zM286.3 374.0H292.1V379.8H286.3zM512.3 374.0H518.1V379.8H512.3zM680.5 374.0H686.3V379.8H680.5zM721.0 374.0H726.8V379.8H721.0zM292.1 379.8H297.9V385.5H292.1zM512.3 379.8H518.1V385.5H512.3zM297.9 385.5H303.7V391.2H297.9zM512.3 385.5H518.1V391.2H512.3zM668.9 385.5H674.7V391.2H668.9zM732.6 385.5H738.4V391.2H732.6zM303.7 391.2H309.5V397.0H303.7zM663.1 391.2H668.9V397.0H663.1zM738.4 391.2H744.2V397.0H738.4zM309.5 397.0H315.3V402.8H309.5zM518.1 397.0H523.9V402.8H518.1zM663.1 397.0H668.9V402.8H663.1zM738.4 397.0H744.2V402.8H738.4zM315.3 402.8H326.9V408.5H315.3zM547.1 402.8H552.9V408.5H547.1zM576.1 402.8H581.9V408.5H576.1zM663.1 402.8H668.9V408.5H663.1zM326.9 408.5H332.7V414.2H326.9zM523.9 408.5H541.3V414.2H523.9zM587.7 408.5H593.5V414.2H587.7zM338.4 414.2H344.2V420.0H338.4zM593.5 414.2H599.3V420.0H593.5zM663.1 414.2H668.9V420.0H663.1zM344.2 420.0H350.0V425.8H344.2zM663.1 420.0H668.9V425.8H663.1zM744.2 420.0H750.0V425.8H744.2zM350.0 425.8H355.8V431.5H350.0zM599.3 425.8H605.1V431.5H599.3zM744.2 425.8H750.0V431.5H744.2zM355.8 431.5H361.6V437.2H355.8zM599.3 431.5H605.1V437.2H599.3zM361.6 437.2H367.4V443.0H361.6zM367.4 443.0H373.2V448.8H367.4zM668.9 443.0H674.7V448.8H668.9zM744.2 443.0H750.0V448.8H744.2zM373.2 448.8H379.0V454.5H373.2zM599.3 448.8H605.1V454.5H599.3zM668.9 448.8H674.7V454.5H668.9zM744.2 448.8H750.0V454.5H744.2zM379.0 454.5H384.8V460.2H379.0zM599.3 454.5H605.1V460.2H599.3zM599.3 460.2H605.1V466.0H599.3zM674.7 460.2H680.5V466.0H674.7zM738.4 460.2H744.2V466.0H738.4zM605.1 466.0H610.9V471.8H605.1zM680.5 466.0H686.3V471.8H680.5zM732.6 466.0H738.4V471.8H732.6zM384.8 471.8H390.6V477.5H384.8zM616.7 471.8H622.5V477.5H616.7zM639.9 471.8H645.7V477.5H639.9zM663.1 471.8H674.7V477.5H663.1zM692.0 471.8H703.6V477.5H692.0zM715.2 471.8H726.8V477.5H715.2zM674.7 477.5H680.5V483.2H674.7zM390.6 483.2H396.4V489.0H390.6zM680.5 483.2H686.3V489.0H680.5zM686.3 489.0H692.0V494.8H686.3zM402.2 500.5H408.0V506.2H402.2zM692.0 500.5H697.8V506.2H692.0zM703.6 506.2H715.2V512.0H703.6zM408.0 512.0H413.8V517.8H408.0zM715.2 512.0H721.0V517.8H715.2zM726.8 517.8H750.0V523.5H726.8zM413.8 523.5H419.6V529.2H413.8zM761.6 523.5H767.4V529.2H761.6zM419.6 529.2H425.4V535.0H419.6zM773.2 529.2H779.0V535.0H773.2zM431.2 546.5H437.0V552.2H431.2zM431.2 563.8H437.0V569.5H431.2zM425.4 569.5H431.2V575.2H425.4zM419.6 575.2H425.4V581.0H419.6zM413.8 581.0H419.6V586.8H413.8zM408.0 586.8H413.8V592.5H408.0zM645.7 586.8H657.3V592.5H645.7zM402.2 592.5H408.0V598.2H402.2zM639.9 592.5H645.7V598.2H639.9zM384.8 598.2H396.4V604.0H384.8zM634.1 598.2H639.9V604.0H634.1zM663.1 598.2H668.9V604.0H663.1zM773.2 598.2H779.0V604.0H773.2zM367.4 604.0H379.0V609.8H367.4zM628.3 604.0H634.1V609.8H628.3zM732.6 604.0H738.4V609.8H732.6zM750.0 604.0H767.4V609.8H750.0zM361.6 609.8H367.4V615.5H361.6zM622.5 609.8H628.3V615.5H622.5zM668.9 609.8H674.7V615.5H668.9zM726.8 609.8H732.6V615.5H726.8zM350.0 615.5H355.8V621.2H350.0zM610.9 615.5H616.7V621.2H610.9zM674.7 615.5H680.5V621.2H674.7zM721.0 615.5H726.8V621.2H721.0zM344.2 621.2H350.0V627.0H344.2zM605.1 621.2H610.9V627.0H605.1zM686.3 621.2H697.8V627.0H686.3zM709.4 621.2H721.0V627.0H709.4zM332.7 627.0H338.4V632.8H332.7zM321.1 632.8H326.9V638.5H321.1zM593.5 632.8H599.3V638.5H593.5zM309.5 638.5H315.3V644.2H309.5zM587.7 638.5H593.5V644.2H587.7zM297.9 644.2H303.7V650.0H297.9zM280.5 650.0H292.1V655.8H280.5zM576.1 650.0H581.9V655.8H576.1zM263.1 655.8H268.9V661.5H263.1zM570.3 655.8H576.1V661.5H570.3zM251.5 661.5H257.3V667.2H251.5zM523.9 661.5H529.7V667.2H523.9zM541.3 661.5H558.7V667.2H541.3zM245.7 667.2H251.5V673.0H245.7zM518.1 667.2H523.9V673.0H518.1zM239.9 678.8H245.7V684.5H239.9zM506.6 678.8H512.3V684.5H506.6zM239.9 684.5H245.7V690.2H239.9zM495.0 684.5H506.6V690.2H495.0zM477.6 690.2H483.4V696.0H477.6zM466.0 696.0H471.8V701.8H466.0zM239.9 701.8H245.7V707.5H239.9zM454.4 701.8H466.0V707.5H454.4zM239.9 707.5H245.7V713.2H239.9zM425.4 707.5H448.6V713.2H425.4zM408.0 713.2H419.6V719.0H408.0z"/>
<path fill="#eff8fb" d="M158.7 6.0H164.5V11.8H158.7zM234.1 6.0H239.9V11.8H234.1zM153.0 17.5H158.7V23.2H153.0zM239.9 34.8H245.7V40.5H239.9zM147.2 40.5H153.0V46.2H147.2zM245.7 40.5H251.5V46.2H245.7zM141.4 46.2H147.2V52.0H141.4zM257.3 46.2H263.1V52.0H257.3zM129.8 52.0H135.6V57.8H129.8zM263.1 52.0H268.9V57.8H263.1zM268.9 57.8H274.7V63.5H268.9zM112.4 63.5H118.2V69.2H112.4zM274.7 63.5H280.5V69.2H274.7zM106.6 69.2H112.4V75.0H106.6zM280.5 69.2H286.3V75.0H280.5zM95.0 75.0H100.8V80.8H95.0zM286.3 75.0H292.1V80.8H286.3zM292.1 86.5H297.9V92.2H292.1zM77.6 92.2H83.4V98.0H77.6zM297.9 92.2H303.7V98.0H297.9zM71.8 98.0H77.6V103.8H71.8zM303.7 103.8H309.5V109.5H303.7zM303.7 109.5H309.5V115.2H303.7zM303.7 115.2H309.5V121.0H303.7zM303.7 121.0H309.5V126.8H303.7zM303.7 126.8H309.5V132.5H303.7zM303.7 132.5H309.5V138.2H303.7zM303.7 138.2H309.5V144.0H303.7zM332.7 144.0H367.4V149.8H332.7zM373.2 149.8H379.0V155.5H373.2zM379.0 155.5H384.8V161.2H379.0zM384.8 161.2H390.6V167.0H384.8zM390.6 172.8H396.4V178.5H390.6zM66.0 178.5H71.8V184.2H66.0zM390.6 178.5H396.4V184.2H390.6zM71.8 184.2H77.6V190.0H71.8zM83.4 195.8H89.2V201.5H83.4zM89.2 201.5H95.0V207.2H89.2zM454.4 201.5H471.8V207.2H454.4zM442.8 207.2H448.6V213.0H442.8zM477.6 207.2H483.4V213.0H477.6zM106.6 213.0H112.4V218.8H106.6zM396.4 218.8H402.2V224.5H396.4zM431.2 218.8H437.0V224.5H431.2zM489.2 218.8H495.0V224.5H489.2zM124.0 224.5H129.8V230.2H124.0zM425.4 230.2H431.2V236.0H425.4zM495.0 230.2H500.8V236.0H495.0zM419.6 236.0H425.4V241.8H419.6zM495.0 236.0H500.8V241.8H495.0zM147.2 241.8H153.0V247.5H147.2zM495.0 241.8H500.8V247.5H495.0zM153.0 247.5H158.7V253.2H153.0zM495.0 247.5H500.8V253.2H495.0zM489.2 259.0H495.0V264.8H489.2zM483.4 264.8H489.2V270.5H483.4zM477.6 270.5H483.4V276.2H477.6zM471.8 276.2H477.6V282.0H471.8zM466.0 293.5H471.8V299.2H466.0zM460.2 299.2H466.0V305.0H460.2zM210.9 305.0H216.7V310.8H210.9zM460.2 305.0H466.0V310.8H460.2zM216.7 310.8H222.5V316.5H216.7zM466.0 310.8H471.8V316.5H466.0zM222.5 316.5H228.3V322.2H222.5zM228.3 322.2H234.1V328.0H228.3zM477.6 322.2H483.4V328.0H477.6zM234.1 328.0H239.9V333.8H234.1zM483.4 328.0H489.2V333.8H483.4zM239.9 333.8H245.7V339.5H239.9zM489.2 333.8H495.0V339.5H489.2zM245.7 339.5H251.5V345.2H245.7zM495.0 339.5H500.8V345.2H495.0zM500.8 345.2H506.6V351.0H500.8zM263.1 351.0H268.9V356.8H263.1zM268.9 356.8H274.7V362.5H268.9zM506.6 356.8H512.3V362.5H506.6zM280.5 362.5H286.3V368.2H280.5zM286.3 368.2H292.1V374.0H286.3zM292.1 374.0H297.9V379.8H292.1zM686.3 374.0H692.0V379.8H686.3zM715.2 374.0H721.0V379.8H715.2zM297.9 379.8H303.7V385.5H297.9zM674.7 379.8H680.5V385.5H674.7zM726.8 379.8H732.6V385.5H726.8zM303.7 385.5H309.5V391.2H303.7zM309.5 391.2H315.3V397.0H309.5zM512.3 391.2H518.1V397.0H512.3zM668.9 391.2H674.7V397.0H668.9zM732.6 391.2H738.4V397.0H732.6zM315.3 397.0H321.1V402.8H315.3zM326.9 402.8H332.7V408.5H326.9zM518.1 402.8H523.9V408.5H518.1zM552.9 402.8H576.1V408.5H552.9zM738.4 402.8H744.2V408.5H738.4zM332.7 408.5H338.4V414.2H332.7zM541.3 408.5H547.1V414.2H541.3zM581.9 408.5H587.7V414.2H581.9zM663.1 408.5H668.9V414.2H663.1zM738.4 408.5H744.2V414.2H738.4zM587.7 414.2H593.5V420.0H587.7zM738.4 414.2H744.2V420.0H738.4zM593.5 420.0H599.3V425.8H593.5zM355.8 425.8H361.6V431.5H355.8zM668.9 425.8H674.7V431.5H668.9zM361.6 431.5H367.4V437.2H361.6zM668.9 431.5H674.7V437.2H668.9zM744.2 431.5H750.0V437.2H744.2zM367.4 437.2H373.2V443.0H367.4zM599.3 437.2H605.1V443.0H599.3zM668.9 437.2H674.7V443.0H668.9zM744.2 437.2H750.0V443.0H744.2zM373.2 443.0H379.0V448.8H373.2zM599.3 443.0H605.1V448.8H599.3zM379.0 448.8H384.8V454.5H379.0zM674.7 454.5H680.5V460.2H674.7zM738.4 454.5H744.2V460.2H738.4zM384.8 460.2H390.6V466.0H384.8zM593.5 460.2H599.3V466.0H593.5zM680.5 460.2H686.3V466.0H680.5zM732.6 460.2H738.4V466.0H732.6zM384.8 466.0H390.6V471.8H384.8zM599.3 466.0H605.1V471.8H599.3zM686.3 466.0H692.0V471.8H686.3zM726.8 466.0H732.6V471.8H726.8zM610.9 471.8H616.7V477.5H610.9zM645.7 471.8H663.1V477.5H645.7zM703.6 471.8H715.2V477.5H703.6zM390.6 477.5H396.4V483.2H390.6zM622.5 477.5H639.9V483.2H622.5zM668.9 477.5H674.7V483.2H668.9zM396.4 489.0H402.2V494.8H396.4zM402.2 494.8H408.0V500.5H402.2zM686.3 494.8H692.0V500.5H686.3zM408.0 506.2H413.8V512.0H408.0zM697.8 506.2H703.6V512.0H697.8zM709.4 512.0H715.2V517.8H709.4zM413.8 517.8H419.6V523.5H413.8zM721.0 517.8H726.8V523.5H721.0zM726.8 523.5H732.6V529.2H726.8zM750.0 523.5H761.6V529.2H750.0zM767.4 529.2H773.2V535.0H767.4zM425.4 535.0H431.2V540.8H425.4zM431.2 540.8H437.0V546.5H431.2zM437.0 552.2H442.8V558.0H437.0zM437.0 558.0H442.8V563.8H437.0zM437.0 563.8H442.8V569.5H437.0zM431.2 569.5H437.0V575.2H431.2zM425.4 575.2H431.2V581.0H425.4zM419.6 581.0H425.4V586.8H419.6zM413.8 586.8H419.6V592.5H413.8zM639.9 586.8H645.7V592.5H639.9zM657.3 586.8H663.1V592.5H657.3zM408.0 592.5H413.8V598.2H408.0zM634.1 592.5H639.9V598.2H634.1zM663.1 592.5H668.9V598.2H663.1zM396.4 598.2H402.2V604.0H396.4zM738.4 598.2H744.2V604.0H738.4zM767.4 598.2H773.2V604.0H767.4zM379.0 604.0H390.6V609.8H379.0zM668.9 604.0H674.7V609.8H668.9zM367.4 609.8H373.2V615.5H367.4zM616.7 609.8H622.5V615.5H616.7zM674.7 609.8H680.5V615.5H674.7zM355.8 615.5H361.6V621.2H355.8zM680.5 615.5H686.3V621.2H680.5zM715.2 615.5H721.0V621.2H715.2zM350.0 621.2H355.8V627.0H350.0zM599.3 621.2H605.1V627.0H599.3zM697.8 621.2H709.4V627.0H697.8zM338.4 627.0H344.2V632.8H338.4zM593.5 627.0H599.3V632.8H593.5zM326.9 632.8H332.7V638.5H326.9zM315.3 638.5H321.1V644.2H315.3zM303.7 644.2H309.5V650.0H303.7zM581.9 644.2H587.7V650.0H581.9zM292.1 650.0H297.9V655.8H292.1zM268.9 655.8H280.5V661.5H268.9zM523.9 655.8H541.3V661.5H523.9zM558.7 655.8H570.3V661.5H558.7zM257.3 661.5H263.1V667.2H257.3zM251.5 667.2H257.3V673.0H251.5zM245.7 673.0H251.5V678.8H245.7zM512.3 673.0H518.1V678.8H512.3zM500.8 678.8H506.6V684.5H500.8zM483.4 684.5H495.0V690.2H483.4zM239.9 690.2H245.7V696.0H239.9zM471.8 690.2H477.6V696.0H471.8zM239.9 696.0H245.7V701.8H239.9zM460.2 696.0H466.0V701.8H460.2zM448.6 701.8H454.4V707.5H448.6zM419.6 707.5H425.4V713.2H419.6zM245.7 713.2H251.5V719.0H245.7zM402.2 713.2H408.0V719.0H402.2z"/>
<path fill="#edf8fa" d="M164.5 6.0H170.3V11.8H164.5zM158.7 11.8H164.5V17.5H158.7zM234.1 11.8H239.9V17.5H234.1zM234.1 17.5H239.9V23.2H234.1zM153.0 23.2H158.7V29.0H153.0zM153.0 29.0H158.7V34.8H153.0zM153.0 34.8H158.7V40.5H153.0zM239.9 40.5H245.7V46.2H239.9zM147.2 46.2H153.0V52.0H147.2zM251.5 46.2H257.3V52.0H251.5zM135.6 52.0H141.4V57.8H135.6zM124.0 57.8H129.8V63.5H124.0zM118.2 63.5H124.0V69.2H118.2zM100.8 75.0H106.6V80.8H100.8zM89.2 80.8H95.0V86.5H89.2zM286.3 80.8H292.1V86.5H286.3zM83.4 86.5H89.2V92.2H83.4zM297.9 98.0H303.7V103.8H297.9zM71.8 103.8H77.6V109.5H71.8zM66.0 109.5H71.8V115.2H66.0zM303.7 144.0H309.5V149.8H303.7zM309.5 149.8H321.1V155.5H309.5zM367.4 149.8H373.2V155.5H367.4zM384.8 167.0H390.6V172.8H384.8zM66.0 172.8H71.8V178.5H66.0zM390.6 184.2H396.4V190.0H390.6zM77.6 190.0H83.4V195.8H77.6zM390.6 190.0H396.4V195.8H390.6zM390.6 195.8H396.4V201.5H390.6zM390.6 201.5H396.4V207.2H390.6zM100.8 207.2H106.6V213.0H100.8zM390.6 207.2H396.4V213.0H390.6zM448.6 207.2H454.4V213.0H448.6zM471.8 207.2H477.6V213.0H471.8zM390.6 213.0H396.4V218.8H390.6zM437.0 213.0H442.8V218.8H437.0zM483.4 213.0H489.2V218.8H483.4zM118.2 218.8H124.0V224.5H118.2zM402.2 224.5H408.0V230.2H402.2zM431.2 224.5H437.0V230.2H431.2zM489.2 224.5H495.0V230.2H489.2zM135.6 230.2H141.4V236.0H135.6zM408.0 230.2H413.8V236.0H408.0zM141.4 236.0H147.2V241.8H141.4zM413.8 236.0H419.6V241.8H413.8zM425.4 236.0H431.2V241.8H425.4zM419.6 241.8H425.4V247.5H419.6zM489.2 253.2H495.0V259.0H489.2zM170.3 259.0H176.1V264.8H170.3zM176.1 264.8H181.9V270.5H176.1zM181.9 270.5H187.7V276.2H181.9zM471.8 270.5H477.6V276.2H471.8zM187.7 276.2H193.5V282.0H187.7zM193.5 282.0H199.3V287.8H193.5zM466.0 282.0H471.8V287.8H466.0zM199.3 287.8H205.1V293.5H199.3zM466.0 287.8H471.8V293.5H466.0zM205.1 293.5H210.9V299.2H205.1zM210.9 299.2H216.7V305.0H210.9zM471.8 316.5H477.6V322.2H471.8zM483.4 333.8H489.2V339.5H483.4zM251.5 339.5H257.3V345.2H251.5zM489.2 339.5H495.0V345.2H489.2zM257.3 345.2H263.1V351.0H257.3zM495.0 345.2H500.8V351.0H495.0zM268.9 351.0H274.7V356.8H268.9zM500.8 351.0H506.6V356.8H500.8zM274.7 356.8H280.5V362.5H274.7zM506.6 362.5H512.3V368.2H506.6zM506.6 368.2H512.3V374.0H506.6zM506.6 374.0H512.3V379.8H506.6zM692.0 374.0H715.2V379.8H692.0zM506.6 379.8H512.3V385.5H506.6zM680.5 379.8H686.3V385.5H680.5zM721.0 379.8H726.8V385.5H721.0zM309.5 385.5H315.3V391.2H309.5zM506.6 385.5H512.3V391.2H506.6zM674.7 385.5H680.5V391.2H674.7zM726.8 385.5H732.6V391.2H726.8zM315.3 391.2H321.1V397.0H315.3zM321.1 397.0H326.9V402.8H321.1zM512.3 397.0H518.1V402.8H512.3zM668.9 397.0H674.7V402.8H668.9zM732.6 397.0H738.4V402.8H732.6zM338.4 408.5H344.2V414.2H338.4zM518.1 408.5H523.9V414.2H518.1zM547.1 408.5H552.9V414.2H547.1zM576.1 408.5H581.9V414.2H576.1zM344.2 414.2H350.0V420.0H344.2zM523.9 414.2H541.3V420.0H523.9zM668.9 414.2H674.7V420.0H668.9zM350.0 420.0H355.8V425.8H350.0zM668.9 420.0H674.7V425.8H668.9zM738.4 420.0H744.2V425.8H738.4zM593.5 425.8H599.3V431.5H593.5zM738.4 425.8H744.2V431.5H738.4zM674.7 443.0H680.5V448.8H674.7zM738.4 443.0H744.2V448.8H738.4zM593.5 448.8H599.3V454.5H593.5zM674.7 448.8H680.5V454.5H674.7zM738.4 448.8H744.2V454.5H738.4zM384.8 454.5H390.6V460.2H384.8zM593.5 454.5H599.3V460.2H593.5zM680.5 454.5H686.3V460.2H680.5zM732.6 454.5H738.4V460.2H732.6zM686.3 460.2H692.0V466.0H686.3zM593.5 466.0H599.3V471.8H593.5zM692.0 466.0H697.8V471.8H692.0zM721.0 466.0H726.8V471.8H721.0zM390.6 471.8H396.4V477.5H390.6zM605.1 471.8H610.9V477.5H605.1zM616.7 477.5H622.5V483.2H616.7zM639.9 477.5H645.7V483.2H639.9zM663.1 477.5H668.9V483.2H663.1zM396.4 483.2H402.2V489.0H396.4zM628.3 483.2H634.1V489.0H628.3zM674.7 483.2H680.5V489.0H674.7zM402.2 489.0H408.0V494.8H402.2zM680.5 489.0H686.3V494.8H680.5zM408.0 500.5H413.8V506.2H408.0zM686.3 500.5H692.0V506.2H686.3zM692.0 506.2H697.8V512.0H692.0zM413.8 512.0H419.6V517.8H413.8zM703.6 512.0H709.4V517.8H703.6zM715.2 517.8H721.0V523.5H715.2zM419.6 523.5H425.4V529.2H419.6zM721.0 523.5H726.8V529.2H721.0zM732.6 523.5H750.0V529.2H732.6zM425.4 529.2H431.2V535.0H425.4zM761.6 529.2H767.4V535.0H761.6zM773.2 535.0H779.0V540.8H773.2zM437.0 546.5H442.8V552.2H437.0zM639.9 581.0H663.1V586.8H639.9zM634.1 586.8H639.9V592.5H634.1zM663.1 586.8H668.9V592.5H663.1zM773.2 592.5H779.0V598.2H773.2zM402.2 598.2H408.0V604.0H402.2zM628.3 598.2H634.1V604.0H628.3zM668.9 598.2H674.7V604.0H668.9zM732.6 598.2H738.4V604.0H732.6zM744.2 598.2H767.4V604.0H744.2zM390.6 604.0H396.4V609.8H390.6zM622.5 604.0H628.3V609.8H622.5zM726.8 604.0H732.6V609.8H726.8zM373.2 609.8H384.8V615.5H373.2zM610.9 609.8H616.7V615.5H610.9zM721.0 609.8H726.8V615.5H721.0zM361.6 615.5H367.4V621.2H361.6zM605.1 615.5H610.9V621.2H605.1zM686.3 615.5H692.0V621.2H686.3zM709.4 615.5H715.2V621.2H709.4zM355.8 621.2H361.6V627.0H355.8zM593.5 621.2H599.3V627.0H593.5zM344.2 627.0H350.0V632.8H344.2zM332.7 632.8H338.4V638.5H332.7zM587.7 632.8H593.5V638.5H587.7zM321.1 638.5H326.9V644.2H321.1zM581.9 638.5H587.7V644.2H581.9zM309.5 644.2H315.3V650.0H309.5zM576.1 644.2H581.9V650.0H576.1zM297.9 650.0H303.7V655.8H297.9zM570.3 650.0H576.1V655.8H570.3zM280.5 655.8H286.3V661.5H280.5zM541.3 655.8H558.7V661.5H541.3zM263.1 661.5H268.9V667.2H263.1zM518.1 661.5H523.9V667.2H518.1zM512.3 667.2H518.1V673.0H512.3zM506.6 673.0H512.3V678.8H506.6zM245.7 678.8H251.5V684.5H245.7zM495.0 678.8H500.8V684.5H495.0zM245.7 684.5H251.5V690.2H245.7zM477.6 684.5H483.4V690.2H477.6zM466.0 690.2H471.8V696.0H466.0zM245.7 701.8H251.5V707.5H245.7zM431.2 701.8H448.6V707.5H431.2zM245.7 707.5H251.5V713.2H245.7zM408.0 707.5H419.6V713.2H408.0zM251.5 713.2H257.3V719.0H251.5zM384.8 713.2H402.2V719.0H384.8z"/>
<path fill="#ebf7fa" d="M228.3 6.0H234.1V11.8H228.3zM158.7 17.5H164.5V23.2H158.7zM234.1 23.2H239.9V29.0H234.1zM234.1 29.0H239.9V34.8H234.1zM234.1 34.8H239.9V40.5H234.1zM153.0 40.5H158.7V46.2H153.0zM141.4 52.0H147.2V57.8H141.4zM257.3 52.0H263.1V57.8H257.3zM129.8 57.8H135.6V63.5H129.8zM263.1 57.8H268.9V63.5H263.1zM268.9 63.5H274.7V69.2H268.9zM112.4 69.2H118.2V75.0H112.4zM274.7 69.2H280.5V75.0H274.7zM280.5 75.0H286.3V80.8H280.5zM95.0 80.8H100.8V86.5H95.0zM286.3 86.5H292.1V92.2H286.3zM292.1 92.2H297.9V98.0H292.1zM77.6 98.0H83.4V103.8H77.6zM297.9 103.8H303.7V109.5H297.9zM66.0 115.2H71.8V121.0H66.0zM297.9 132.5H303.7V138.2H297.9zM297.9 138.2H303.7V144.0H297.9zM297.9 144.0H303.7V149.8H297.9zM303.7 149.8H309.5V155.5H303.7zM321.1 149.8H367.4V155.5H321.1zM373.2 155.5H379.0V161.2H373.2zM379.0 161.2H384.8V167.0H379.0zM384.8 172.8H390.6V178.5H384.8zM71.8 178.5H77.6V184.2H71.8zM95.0 201.5H100.8V207.2H95.0zM454.4 207.2H471.8V213.0H454.4zM112.4 213.0H118.2V218.8H112.4zM442.8 213.0H448.6V218.8H442.8zM477.6 213.0H483.4V218.8H477.6zM390.6 218.8H396.4V224.5H390.6zM437.0 218.8H442.8V224.5H437.0zM483.4 218.8H489.2V224.5H483.4zM129.8 224.5H135.6V230.2H129.8zM396.4 224.5H402.2V230.2H396.4zM431.2 230.2H437.0V236.0H431.2zM489.2 230.2H495.0V236.0H489.2zM408.0 236.0H413.8V241.8H408.0zM153.0 241.8H158.7V247.5H153.0zM413.8 241.8H419.6V247.5H413.8zM425.4 241.8H431.2V247.5H425.4zM158.7 247.5H164.5V253.2H158.7zM489.2 247.5H495.0V253.2H489.2zM164.5 253.2H170.3V259.0H164.5zM483.4 259.0H489.2V264.8H483.4zM477.6 264.8H483.4V270.5H477.6zM466.0 276.2H471.8V282.0H466.0zM460.2 293.5H466.0V299.2H460.2zM454.4 299.2H460.2V305.0H454.4zM216.7 305.0H222.5V310.8H216.7zM454.4 305.0H460.2V310.8H454.4zM222.5 310.8H228.3V316.5H222.5zM460.2 310.8H466.0V316.5H460.2zM228.3 316.5H234.1V322.2H228.3zM466.0 316.5H471.8V322.2H466.0zM234.1 322.2H239.9V328.0H234.1zM471.8 322.2H477.6V328.0H471.8zM239.9 328.0H245.7V333.8H239.9zM477.6 328.0H483.4V333.8H477.6zM245.7 333.8H251.5V339.5H245.7zM263.1 345.2H268.9V351.0H263.1zM280.5 356.8H286.3V362.5H280.5zM500.8 356.8H506.6V362.5H500.8zM286.3 362.5H292.1V368.2H286.3zM292.1 368.2H297.9V374.0H292.1zM297.9 374.0H303.7V379.8H297.9zM303.7 379.8H309.5V385.5H303.7zM686.3 379.8H692.0V385.5H686.3zM715.2 379.8H721.0V385.5H715.2zM506.6 391.2H512.3V397.0H506.6zM674.7 391.2H680.5V397.0H674.7zM726.8 391.2H732.6V397.0H726.8zM326.9 397.0H332.7V402.8H326.9zM332.7 402.8H338.4V408.5H332.7zM512.3 402.8H518.1V408.5H512.3zM668.9 402.8H674.7V408.5H668.9zM732.6 402.8H738.4V408.5H732.6zM552.9 408.5H576.1V414.2H552.9zM668.9 408.5H674.7V414.2H668.9zM732.6 408.5H738.4V414.2H732.6zM518.1 414.2H523.9V420.0H518.1zM541.3 414.2H547.1V420.0H541.3zM581.9 414.2H587.7V420.0H581.9zM355.8 420.0H361.6V425.8H355.8zM587.7 420.0H593.5V425.8H587.7zM361.6 425.8H367.4V431.5H361.6zM367.4 431.5H373.2V437.2H367.4zM593.5 431.5H599.3V437.2H593.5zM674.7 431.5H680.5V437.2H674.7zM738.4 431.5H744.2V437.2H738.4zM373.2 437.2H379.0V443.0H373.2zM593.5 437.2H599.3V443.0H593.5zM674.7 437.2H680.5V443.0H674.7zM738.4 437.2H744.2V443.0H738.4zM379.0 443.0H384.8V448.8H379.0zM593.5 443.0H599.3V448.8H593.5zM587.7 460.2H593.5V466.0H587.7zM726.8 460.2H732.6V466.0H726.8zM390.6 466.0H396.4V471.8H390.6zM697.8 466.0H721.0V471.8H697.8zM599.3 471.8H605.1V477.5H599.3zM396.4 477.5H402.2V483.2H396.4zM610.9 477.5H616.7V483.2H610.9zM645.7 477.5H663.1V483.2H645.7zM622.5 483.2H628.3V489.0H622.5zM634.1 483.2H639.9V489.0H634.1zM668.9 483.2H674.7V489.0H668.9zM408.0 494.8H413.8V500.5H408.0zM680.5 494.8H686.3V500.5H680.5zM413.8 506.2H419.6V512.0H413.8zM686.3 506.2H692.0V512.0H686.3zM697.8 512.0H703.6V517.8H697.8zM419.6 517.8H425.4V523.5H419.6zM709.4 517.8H715.2V523.5H709.4zM726.8 529.2H732.6V535.0H726.8zM755.8 529.2H761.6V535.0H755.8zM431.2 535.0H437.0V540.8H431.2zM767.4 535.0H773.2V540.8H767.4zM437.0 540.8H442.8V546.5H437.0zM442.8 552.2H448.6V558.0H442.8zM442.8 558.0H448.6V563.8H442.8zM437.0 569.5H442.8V575.2H437.0zM431.2 575.2H437.0V581.0H431.2zM425.4 581.0H431.2V586.8H425.4zM634.1 581.0H639.9V586.8H634.1zM663.1 581.0H668.9V586.8H663.1zM419.6 586.8H425.4V592.5H419.6zM413.8 592.5H419.6V598.2H413.8zM628.3 592.5H634.1V598.2H628.3zM668.9 592.5H674.7V598.2H668.9zM732.6 592.5H744.2V598.2H732.6zM767.4 592.5H773.2V598.2H767.4zM408.0 598.2H413.8V604.0H408.0zM726.8 598.2H732.6V604.0H726.8zM396.4 604.0H402.2V609.8H396.4zM616.7 604.0H622.5V609.8H616.7zM674.7 604.0H680.5V609.8H674.7zM384.8 609.8H390.6V615.5H384.8zM680.5 609.8H686.3V615.5H680.5zM715.2 609.8H721.0V615.5H715.2zM367.4 615.5H379.0V621.2H367.4zM599.3 615.5H605.1V621.2H599.3zM692.0 615.5H709.4V621.2H692.0zM361.6 621.2H367.4V627.0H361.6zM350.0 627.0H355.8V632.8H350.0zM587.7 627.0H593.5V632.8H587.7zM338.4 632.8H344.2V638.5H338.4zM326.9 638.5H332.7V644.2H326.9zM315.3 644.2H321.1V650.0H315.3zM303.7 650.0H309.5V655.8H303.7zM523.9 650.0H535.5V655.8H523.9zM564.5 650.0H570.3V655.8H564.5zM286.3 655.8H297.9V661.5H286.3zM518.1 655.8H523.9V661.5H518.1zM268.9 661.5H274.7V667.2H268.9zM257.3 667.2H263.1V673.0H257.3zM251.5 673.0H257.3V678.8H251.5zM500.8 673.0H506.6V678.8H500.8zM489.2 678.8H495.0V684.5H489.2zM471.8 684.5H477.6V690.2H471.8zM245.7 690.2H251.5V696.0H245.7zM245.7 696.0H251.5V701.8H245.7zM448.6 696.0H460.2V701.8H448.6zM419.6 701.8H431.2V707.5H419.6zM402.2 707.5H408.0V713.2H402.2zM367.4 713.2H384.8V719.0H367.4z"/>
<path fill="#e8f6fa" d="M170.3 6.0H176.1V11.8H170.3zM222.5 6.0H228.3V11.8H222.5zM164.5 11.8H170.3V17.5H164.5zM228.3 11.8H234.1V17.5H228.3zM158.7 23.2H164.5V29.0H158.7zM234.1 40.5H239.9V46.2H234.1zM153.0 46.2H158.7V52.0H153.0zM245.7 46.2H251.5V52.0H245.7zM147.2 52.0H153.0V57.8H147.2zM135.6 57.8H141.4V63.5H135.6zM124.0 63.5H129.8V69.2H124.0zM106.6 75.0H112.4V80.8H106.6zM280.5 80.8H286.3V86.5H280.5zM89.2 86.5H95.0V92.2H89.2zM83.4 92.2H89.2V98.0H83.4zM292.1 98.0H297.9V103.8H292.1zM77.6 103.8H83.4V109.5H77.6zM71.8 109.5H77.6V115.2H71.8zM297.9 109.5H303.7V115.2H297.9zM297.9 115.2H303.7V121.0H297.9zM297.9 121.0H303.7V126.8H297.9zM297.9 126.8H303.7V132.5H297.9zM367.4 155.5H373.2V161.2H367.4zM373.2 161.2H379.0V167.0H373.2zM66.0 167.0H71.8V172.8H66.0zM379.0 167.0H384.8V172.8H379.0zM384.8 178.5H390.6V184.2H384.8zM77.6 184.2H83.4V190.0H77.6zM384.8 184.2H390.6V190.0H384.8zM83.4 190.0H89.2V195.8H83.4zM384.8 190.0H390.6V195.8H384.8zM89.2 195.8H95.0V201.5H89.2zM384.8 195.8H390.6V201.5H384.8zM384.8 201.5H390.6V207.2H384.8zM106.6 207.2H112.4V213.0H106.6zM384.8 207.2H390.6V213.0H384.8zM384.8 213.0H390.6V218.8H384.8zM448.6 213.0H454.4V218.8H448.6zM471.8 213.0H477.6V218.8H471.8zM437.0 224.5H442.8V230.2H437.0zM402.2 230.2H408.0V236.0H402.2zM147.2 236.0H153.0V241.8H147.2zM431.2 236.0H437.0V241.8H431.2zM489.2 236.0H495.0V241.8H489.2zM431.2 241.8H437.0V247.5H431.2zM489.2 241.8H495.0V247.5H489.2zM413.8 247.5H431.2V253.2H413.8zM483.4 253.2H489.2V259.0H483.4zM471.8 264.8H477.6V270.5H471.8zM187.7 270.5H193.5V276.2H187.7zM466.0 270.5H471.8V276.2H466.0zM193.5 276.2H199.3V282.0H193.5zM199.3 282.0H205.1V287.8H199.3zM205.1 287.8H210.9V293.5H205.1zM460.2 287.8H466.0V293.5H460.2zM454.4 310.8H460.2V316.5H454.4zM251.5 333.8H257.3V339.5H251.5zM477.6 333.8H483.4V339.5H477.6zM257.3 339.5H263.1V345.2H257.3zM483.4 339.5H489.2V345.2H483.4zM268.9 345.2H274.7V351.0H268.9zM489.2 345.2H495.0V351.0H489.2zM274.7 351.0H280.5V356.8H274.7zM495.0 351.0H500.8V356.8H495.0zM500.8 362.5H506.6V368.2H500.8zM309.5 379.8H315.3V385.5H309.5zM692.0 379.8H697.8V385.5H692.0zM709.4 379.8H715.2V385.5H709.4zM315.3 385.5H321.1V391.2H315.3zM680.5 385.5H686.3V391.2H680.5zM721.0 385.5H726.8V391.2H721.0zM321.1 391.2H326.9V397.0H321.1zM506.6 397.0H512.3V402.8H506.6zM674.7 397.0H680.5V402.8H674.7zM726.8 397.0H732.6V402.8H726.8zM338.4 402.8H344.2V408.5H338.4zM344.2 408.5H350.0V414.2H344.2zM512.3 408.5H518.1V414.2H512.3zM350.0 414.2H355.8V420.0H350.0zM547.1 414.2H552.9V420.0H547.1zM576.1 414.2H581.9V420.0H576.1zM732.6 414.2H738.4V420.0H732.6zM518.1 420.0H541.3V425.8H518.1zM674.7 420.0H680.5V425.8H674.7zM732.6 420.0H738.4V425.8H732.6zM587.7 425.8H593.5V431.5H587.7zM674.7 425.8H680.5V431.5H674.7zM384.8 448.8H390.6V454.5H384.8zM680.5 448.8H686.3V454.5H680.5zM732.6 448.8H738.4V454.5H732.6zM587.7 454.5H593.5V460.2H587.7zM686.3 454.5H692.0V460.2H686.3zM726.8 454.5H732.6V460.2H726.8zM390.6 460.2H396.4V466.0H390.6zM692.0 460.2H697.8V466.0H692.0zM721.0 460.2H726.8V466.0H721.0zM587.7 466.0H593.5V471.8H587.7zM593.5 471.8H599.3V477.5H593.5zM402.2 483.2H408.0V489.0H402.2zM616.7 483.2H622.5V489.0H616.7zM639.9 483.2H645.7V489.0H639.9zM408.0 489.0H413.8V494.8H408.0zM628.3 489.0H634.1V494.8H628.3zM674.7 489.0H680.5V494.8H674.7zM680.5 500.5H686.3V506.2H680.5zM692.0 512.0H697.8V517.8H692.0zM425.4 523.5H431.2V529.2H425.4zM715.2 523.5H721.0V529.2H715.2zM721.0 529.2H726.8V535.0H721.0zM732.6 529.2H755.8V535.0H732.6zM761.6 535.0H767.4V540.8H761.6zM773.2 540.8H779.0V546.5H773.2zM442.8 546.5H448.6V552.2H442.8zM442.8 563.8H448.6V569.5H442.8zM437.0 575.2H442.8V581.0H437.0zM634.1 575.2H657.3V581.0H634.1zM431.2 581.0H437.0V586.8H431.2zM668.9 586.8H674.7V592.5H668.9zM773.2 586.8H779.0V592.5H773.2zM419.6 592.5H425.4V598.2H419.6zM726.8 592.5H732.6V598.2H726.8zM744.2 592.5H767.4V598.2H744.2zM413.8 598.2H419.6V604.0H413.8zM622.5 598.2H628.3V604.0H622.5zM674.7 598.2H680.5V604.0H674.7zM402.2 604.0H408.0V609.8H402.2zM721.0 604.0H726.8V609.8H721.0zM390.6 609.8H396.4V615.5H390.6zM605.1 609.8H610.9V615.5H605.1zM686.3 609.8H692.0V615.5H686.3zM709.4 609.8H715.2V615.5H709.4zM379.0 615.5H384.8V621.2H379.0zM593.5 615.5H599.3V621.2H593.5zM367.4 621.2H373.2V627.0H367.4zM587.7 621.2H593.5V627.0H587.7zM355.8 627.0H361.6V632.8H355.8zM344.2 632.8H350.0V638.5H344.2zM581.9 632.8H587.7V638.5H581.9zM332.7 638.5H338.4V644.2H332.7zM576.1 638.5H581.9V644.2H576.1zM321.1 644.2H326.9V650.0H321.1zM570.3 644.2H576.1V650.0H570.3zM309.5 650.0H315.3V655.8H309.5zM535.5 650.0H547.1V655.8H535.5zM552.9 650.0H564.5V655.8H552.9zM297.9 655.8H303.7V661.5H297.9zM274.7 661.5H286.3V667.2H274.7zM512.3 661.5H518.1V667.2H512.3zM263.1 667.2H268.9V673.0H263.1zM506.6 667.2H512.3V673.0H506.6zM251.5 678.8H257.3V684.5H251.5zM477.6 678.8H489.2V684.5H477.6zM466.0 684.5H471.8V690.2H466.0zM460.2 690.2H466.0V696.0H460.2zM442.8 696.0H448.6V701.8H442.8zM413.8 701.8H419.6V707.5H413.8zM251.5 707.5H257.3V713.2H251.5zM396.4 707.5H402.2V713.2H396.4zM257.3 713.2H263.1V719.0H257.3zM355.8 713.2H367.4V719.0H355.8z"/>
<path fill="#e5f5f9" d="M228.3 17.5H234.1V23.2H228.3zM228.3 23.2H234.1V29.0H228.3zM158.7 29.0H164.5V34.8H158.7zM228.3 29.0H234.1V34.8H228.3zM158.7 34.8H164.5V40.5H158.7zM228.3 34.8H234.1V40.5H228.3zM158.7 40.5H164.5V46.2H158.7zM228.3 40.5H234.1V46.2H228.3zM239.9 46.2H245.7V52.0H239.9zM251.5 52.0H257.3V57.8H251.5zM141.4 57.8H147.2V63.5H141.4zM257.3 57.8H263.1V63.5H257.3zM263.1 63.5H268.9V69.2H263.1zM118.2 69.2H124.0V75.0H118.2zM268.9 69.2H274.7V75.0H268.9zM112.4 75.0H118.2V80.8H112.4zM274.7 75.0H280.5V80.8H274.7zM100.8 80.8H106.6V86.5H100.8zM286.3 92.2H292.1V98.0H286.3zM83.4 98.0H89.2V103.8H83.4zM292.1 103.8H297.9V109.5H292.1zM66.0 121.0H71.8V126.8H66.0zM297.9 149.8H303.7V155.5H297.9zM309.5 155.5H326.9V161.2H309.5zM361.6 155.5H367.4V161.2H361.6zM66.0 161.2H71.8V167.0H66.0zM71.8 172.8H77.6V178.5H71.8zM379.0 172.8H384.8V178.5H379.0zM100.8 201.5H106.6V207.2H100.8zM454.4 213.0H471.8V218.8H454.4zM124.0 218.8H129.8V224.5H124.0zM384.8 218.8H390.6V224.5H384.8zM442.8 218.8H448.6V224.5H442.8zM477.6 218.8H483.4V224.5H477.6zM390.6 224.5H396.4V230.2H390.6zM483.4 224.5H489.2V230.2H483.4zM141.4 230.2H147.2V236.0H141.4zM396.4 230.2H402.2V236.0H396.4zM402.2 236.0H408.0V241.8H402.2zM408.0 241.8H413.8V247.5H408.0zM431.2 247.5H437.0V253.2H431.2zM483.4 247.5H489.2V253.2H483.4zM170.3 253.2H176.1V259.0H170.3zM176.1 259.0H181.9V264.8H176.1zM477.6 259.0H483.4V264.8H477.6zM181.9 264.8H187.7V270.5H181.9zM466.0 264.8H471.8V270.5H466.0zM460.2 276.2H466.0V282.0H460.2zM460.2 282.0H466.0V287.8H460.2zM210.9 293.5H216.7V299.2H210.9zM454.4 293.5H460.2V299.2H454.4zM216.7 299.2H222.5V305.0H216.7zM448.6 299.2H454.4V305.0H448.6zM222.5 305.0H228.3V310.8H222.5zM448.6 305.0H454.4V310.8H448.6zM228.3 310.8H234.1V316.5H228.3zM234.1 316.5H239.9V322.2H234.1zM460.2 316.5H466.0V322.2H460.2zM239.9 322.2H245.7V328.0H239.9zM466.0 322.2H471.8V328.0H466.0zM245.7 328.0H251.5V333.8H245.7zM471.8 328.0H477.6V333.8H471.8zM263.1 339.5H268.9V345.2H263.1zM477.6 339.5H483.4V345.2H477.6zM286.3 356.8H292.1V362.5H286.3zM292.1 362.5H297.9V368.2H292.1zM297.9 368.2H303.7V374.0H297.9zM500.8 368.2H506.6V374.0H500.8zM303.7 374.0H309.5V379.8H303.7zM500.8 374.0H506.6V379.8H500.8zM500.8 379.8H506.6V385.5H500.8zM697.8 379.8H709.4V385.5H697.8zM500.8 385.5H506.6V391.2H500.8zM686.3 385.5H692.0V391.2H686.3zM715.2 385.5H721.0V391.2H715.2zM326.9 391.2H332.7V397.0H326.9zM500.8 391.2H506.6V397.0H500.8zM721.0 391.2H726.8V397.0H721.0zM332.7 397.0H338.4V402.8H332.7zM506.6 402.8H512.3V408.5H506.6zM674.7 402.8H680.5V408.5H674.7zM726.8 402.8H732.6V408.5H726.8zM674.7 408.5H680.5V414.2H674.7zM512.3 414.2H518.1V420.0H512.3zM552.9 414.2H558.7V420.0H552.9zM570.3 414.2H576.1V420.0H570.3zM674.7 414.2H680.5V420.0H674.7zM541.3 420.0H547.1V425.8H541.3zM581.9 420.0H587.7V425.8H581.9zM732.6 425.8H738.4V431.5H732.6zM587.7 431.5H593.5V437.2H587.7zM732.6 431.5H738.4V437.2H732.6zM379.0 437.2H384.8V443.0H379.0zM587.7 437.2H593.5V443.0H587.7zM680.5 437.2H686.3V443.0H680.5zM732.6 437.2H738.4V443.0H732.6zM587.7 443.0H593.5V448.8H587.7zM680.5 443.0H686.3V448.8H680.5zM732.6 443.0H738.4V448.8H732.6zM587.7 448.8H593.5V454.5H587.7zM390.6 454.5H396.4V460.2H390.6zM697.8 460.2H721.0V466.0H697.8zM396.4 471.8H402.2V477.5H396.4zM587.7 471.8H593.5V477.5H587.7zM599.3 477.5H610.9V483.2H599.3zM645.7 483.2H651.5V489.0H645.7zM657.3 483.2H668.9V489.0H657.3zM622.5 489.0H628.3V494.8H622.5zM634.1 489.0H639.9V494.8H634.1zM668.9 489.0H674.7V494.8H668.9zM674.7 494.8H680.5V500.5H674.7zM413.8 500.5H419.6V506.2H413.8zM680.5 506.2H686.3V512.0H680.5zM419.6 512.0H425.4V517.8H419.6zM686.3 512.0H692.0V517.8H686.3zM703.6 517.8H709.4V523.5H703.6zM431.2 529.2H437.0V535.0H431.2zM715.2 529.2H721.0V535.0H715.2zM437.0 535.0H442.8V540.8H437.0zM721.0 535.0H726.8V540.8H721.0zM767.4 540.8H773.2V546.5H767.4zM773.2 546.5H779.0V552.2H773.2zM442.8 569.5H448.6V575.2H442.8zM634.1 569.5H639.9V575.2H634.1zM657.3 575.2H668.9V581.0H657.3zM668.9 581.0H674.7V586.8H668.9zM425.4 586.8H431.2V592.5H425.4zM628.3 586.8H634.1V592.5H628.3zM732.6 586.8H738.4V592.5H732.6zM767.4 586.8H773.2V592.5H767.4zM622.5 592.5H628.3V598.2H622.5zM674.7 592.5H680.5V598.2H674.7zM616.7 598.2H622.5V604.0H616.7zM721.0 598.2H726.8V604.0H721.0zM408.0 604.0H413.8V609.8H408.0zM610.9 604.0H616.7V609.8H610.9zM680.5 604.0H686.3V609.8H680.5zM715.2 604.0H721.0V609.8H715.2zM396.4 609.8H402.2V615.5H396.4zM599.3 609.8H605.1V615.5H599.3zM692.0 609.8H709.4V615.5H692.0zM384.8 615.5H390.6V621.2H384.8zM373.2 621.2H379.0V627.0H373.2zM581.9 627.0H587.7V632.8H581.9zM338.4 638.5H344.2V644.2H338.4zM326.9 644.2H332.7V650.0H326.9zM523.9 644.2H535.5V650.0H523.9zM564.5 644.2H570.3V650.0H564.5zM315.3 650.0H321.1V655.8H315.3zM518.1 650.0H523.9V655.8H518.1zM547.1 650.0H552.9V655.8H547.1zM303.7 655.8H309.5V661.5H303.7zM512.3 655.8H518.1V661.5H512.3zM286.3 661.5H292.1V667.2H286.3zM268.9 667.2H274.7V673.0H268.9zM257.3 673.0H263.1V678.8H257.3zM489.2 673.0H500.8V678.8H489.2zM471.8 678.8H477.6V684.5H471.8zM251.5 684.5H257.3V690.2H251.5zM251.5 690.2H257.3V696.0H251.5zM454.4 690.2H460.2V696.0H454.4zM251.5 696.0H257.3V701.8H251.5zM425.4 696.0H442.8V701.8H425.4zM251.5 701.8H257.3V707.5H251.5zM408.0 701.8H413.8V707.5H408.0zM379.0 707.5H396.4V713.2H379.0zM344.2 713.2H355.8V719.0H344.2z"/>
<path fill="#e3f4f9" d="M176.1 6.0H181.9V11.8H176.1zM216.7 6.0H222.5V11.8H216.7zM170.3 11.8H176.1V17.5H170.3zM222.5 11.8H228.3V17.5H222.5zM164.5 17.5H170.3V23.2H164.5zM158.7 46.2H164.5V52.0H158.7zM234.1 46.2H239.9V52.0H234.1zM153.0 52.0H158.7V57.8H153.0zM245.7 52.0H251.5V57.8H245.7zM129.8 63.5H135.6V69.2H129.8zM106.6 80.8H112.4V86.5H106.6zM274.7 80.8H280.5V86.5H274.7zM95.0 86.5H100.8V92.2H95.0zM280.5 86.5H286.3V92.2H280.5zM89.2 92.2H95.0V98.0H89.2zM77.6 109.5H83.4V115.2H77.6zM71.8 115.2H77.6V121.0H71.8zM66.0 126.8H71.8V132.5H66.0zM292.1 132.5H297.9V138.2H292.1zM292.1 138.2H297.9V144.0H292.1zM292.1 144.0H297.9V149.8H292.1zM303.7 155.5H309.5V161.2H303.7zM326.9 155.5H361.6V161.2H326.9zM367.4 161.2H373.2V167.0H367.4zM373.2 167.0H379.0V172.8H373.2zM379.0 178.5H384.8V184.2H379.0zM95.0 195.8H100.8V201.5H95.0zM118.2 213.0H124.0V218.8H118.2zM448.6 218.8H454.4V224.5H448.6zM135.6 224.5H141.4V230.2H135.6zM384.8 224.5H390.6V230.2H384.8zM437.0 230.2H442.8V236.0H437.0zM483.4 230.2H489.2V236.0H483.4zM437.0 236.0H442.8V241.8H437.0zM483.4 236.0H489.2V241.8H483.4zM158.7 241.8H164.5V247.5H158.7zM437.0 241.8H442.8V247.5H437.0zM483.4 241.8H489.2V247.5H483.4zM164.5 247.5H170.3V253.2H164.5zM408.0 247.5H413.8V253.2H408.0zM413.8 253.2H431.2V259.0H413.8zM477.6 253.2H483.4V259.0H477.6zM471.8 259.0H477.6V264.8H471.8zM460.2 264.8H466.0V270.5H460.2zM460.2 270.5H466.0V276.2H460.2zM454.4 287.8H460.2V293.5H454.4zM448.6 310.8H454.4V316.5H448.6zM454.4 316.5H460.2V322.2H454.4zM257.3 333.8H263.1V339.5H257.3zM471.8 333.8H477.6V339.5H471.8zM274.7 345.2H280.5V351.0H274.7zM483.4 345.2H489.2V351.0H483.4zM280.5 351.0H286.3V356.8H280.5zM489.2 351.0H495.0V356.8H489.2zM495.0 356.8H500.8V362.5H495.0zM315.3 379.8H321.1V385.5H315.3zM321.1 385.5H326.9V391.2H321.1zM680.5 391.2H686.3V397.0H680.5zM500.8 397.0H506.6V402.8H500.8zM344.2 402.8H350.0V408.5H344.2zM350.0 408.5H355.8V414.2H350.0zM726.8 408.5H732.6V414.2H726.8zM355.8 414.2H361.6V420.0H355.8zM558.7 414.2H570.3V420.0H558.7zM726.8 414.2H732.6V420.0H726.8zM361.6 420.0H367.4V425.8H361.6zM512.3 420.0H518.1V425.8H512.3zM547.1 420.0H552.9V425.8H547.1zM576.1 420.0H581.9V425.8H576.1zM367.4 425.8H373.2V431.5H367.4zM518.1 425.8H535.5V431.5H518.1zM581.9 425.8H587.7V431.5H581.9zM680.5 425.8H686.3V431.5H680.5zM373.2 431.5H379.0V437.2H373.2zM680.5 431.5H686.3V437.2H680.5zM384.8 443.0H390.6V448.8H384.8zM686.3 448.8H692.0V454.5H686.3zM726.8 448.8H732.6V454.5H726.8zM581.9 454.5H587.7V460.2H581.9zM692.0 454.5H697.8V460.2H692.0zM721.0 454.5H726.8V460.2H721.0zM581.9 460.2H587.7V466.0H581.9zM396.4 466.0H402.2V471.8H396.4zM581.9 466.0H587.7V471.8H581.9zM402.2 477.5H408.0V483.2H402.2zM593.5 477.5H599.3V483.2H593.5zM408.0 483.2H413.8V489.0H408.0zM610.9 483.2H616.7V489.0H610.9zM651.5 483.2H657.3V489.0H651.5zM616.7 489.0H622.5V494.8H616.7zM413.8 494.8H419.6V500.5H413.8zM622.5 494.8H634.1V500.5H622.5zM419.6 506.2H425.4V512.0H419.6zM680.5 512.0H686.3V517.8H680.5zM425.4 517.8H431.2V523.5H425.4zM692.0 517.8H703.6V523.5H692.0zM709.4 523.5H715.2V529.2H709.4zM726.8 535.0H738.4V540.8H726.8zM750.0 535.0H761.6V540.8H750.0zM442.8 540.8H448.6V546.5H442.8zM448.6 552.2H454.4V558.0H448.6zM448.6 558.0H454.4V563.8H448.6zM448.6 563.8H454.4V569.5H448.6zM634.1 563.8H639.9V569.5H634.1zM639.9 569.5H651.5V575.2H639.9zM442.8 575.2H448.6V581.0H442.8zM628.3 575.2H634.1V581.0H628.3zM437.0 581.0H442.8V586.8H437.0zM628.3 581.0H634.1V586.8H628.3zM773.2 581.0H779.0V586.8H773.2zM674.7 586.8H680.5V592.5H674.7zM726.8 586.8H732.6V592.5H726.8zM738.4 586.8H744.2V592.5H738.4zM761.6 586.8H767.4V592.5H761.6zM721.0 592.5H726.8V598.2H721.0zM419.6 598.2H425.4V604.0H419.6zM680.5 598.2H686.3V604.0H680.5zM413.8 604.0H419.6V609.8H413.8zM605.1 604.0H610.9V609.8H605.1zM686.3 604.0H692.0V609.8H686.3zM402.2 609.8H408.0V615.5H402.2zM593.5 609.8H599.3V615.5H593.5zM390.6 615.5H396.4V621.2H390.6zM587.7 615.5H593.5V621.2H587.7zM379.0 621.2H384.8V627.0H379.0zM361.6 627.0H367.4V632.8H361.6zM350.0 632.8H355.8V638.5H350.0zM576.1 632.8H581.9V638.5H576.1zM570.3 638.5H576.1V644.2H570.3zM518.1 644.2H523.9V650.0H518.1zM535.5 644.2H541.3V650.0H535.5zM558.7 644.2H564.5V650.0H558.7zM292.1 661.5H297.9V667.2H292.1zM506.6 661.5H512.3V667.2H506.6zM274.7 667.2H280.5V673.0H274.7zM500.8 667.2H506.6V673.0H500.8zM263.1 673.0H268.9V678.8H263.1zM483.4 673.0H489.2V678.8H483.4zM257.3 678.8H263.1V684.5H257.3zM460.2 684.5H466.0V690.2H460.2zM448.6 690.2H454.4V696.0H448.6zM419.6 696.0H425.4V701.8H419.6zM402.2 701.8H408.0V707.5H402.2zM257.3 707.5H263.1V713.2H257.3zM361.6 707.5H379.0V713.2H361.6zM263.1 713.2H268.9V719.0H263.1zM332.7 713.2H344.2V719.0H332.7z"/>
<path fill="#dff3f8" d="M181.9 6.0H187.7V11.8H181.9zM222.5 17.5H228.3V23.2H222.5zM164.5 23.2H170.3V29.0H164.5zM164.5 29.0H170.3V34.8H164.5zM164.5 34.8H170.3V40.5H164.5zM222.5 34.8H228.3V40.5H222.5zM164.5 40.5H170.3V46.2H164.5zM222.5 40.5H228.3V46.2H222.5zM228.3 46.2H234.1V52.0H228.3zM147.2 57.8H153.0V63.5H147.2zM251.5 57.8H257.3V63.5H251.5zM135.6 63.5H141.4V69.2H135.6zM257.3 63.5H263.1V69.2H257.3zM124.0 69.2H129.8V75.0H124.0zM263.1 69.2H268.9V75.0H263.1zM118.2 75.0H124.0V80.8H118.2zM268.9 75.0H274.7V80.8H268.9zM280.5 92.2H286.3V98.0H280.5zM286.3 98.0H292.1V103.8H286.3zM83.4 103.8H89.2V109.5H83.4zM292.1 109.5H297.9V115.2H292.1zM292.1 115.2H297.9V121.0H292.1zM292.1 121.0H297.9V126.8H292.1zM292.1 126.8H297.9V132.5H292.1zM292.1 149.8H297.9V155.5H292.1zM66.0 155.5H71.8V161.2H66.0zM297.9 155.5H303.7V161.2H297.9zM77.6 178.5H83.4V184.2H77.6zM83.4 184.2H89.2V190.0H83.4zM379.0 184.2H384.8V190.0H379.0zM89.2 190.0H95.0V195.8H89.2zM379.0 190.0H384.8V195.8H379.0zM379.0 195.8H384.8V201.5H379.0zM379.0 201.5H384.8V207.2H379.0zM112.4 207.2H118.2V213.0H112.4zM379.0 207.2H384.8V213.0H379.0zM379.0 213.0H384.8V218.8H379.0zM379.0 218.8H384.8V224.5H379.0zM471.8 218.8H477.6V224.5H471.8zM442.8 224.5H448.6V230.2H442.8zM477.6 224.5H483.4V230.2H477.6zM390.6 230.2H396.4V236.0H390.6zM153.0 236.0H158.7V241.8H153.0zM396.4 236.0H402.2V241.8H396.4zM402.2 241.8H408.0V247.5H402.2zM437.0 247.5H442.8V253.2H437.0zM408.0 253.2H413.8V259.0H408.0zM431.2 253.2H437.0V259.0H431.2zM466.0 259.0H471.8V264.8H466.0zM193.5 270.5H199.3V276.2H193.5zM199.3 276.2H205.1V282.0H199.3zM205.1 282.0H210.9V287.8H205.1zM454.4 282.0H460.2V287.8H454.4zM210.9 287.8H216.7V293.5H210.9zM216.7 293.5H222.5V299.2H216.7zM448.6 293.5H454.4V299.2H448.6zM442.8 299.2H448.6V305.0H442.8zM442.8 305.0H448.6V310.8H442.8zM245.7 322.2H251.5V328.0H245.7zM460.2 322.2H466.0V328.0H460.2zM251.5 328.0H257.3V333.8H251.5zM466.0 328.0H471.8V333.8H466.0zM268.9 339.5H274.7V345.2H268.9zM471.8 339.5H477.6V345.2H471.8zM477.6 345.2H483.4V351.0H477.6zM297.9 362.5H303.7V368.2H297.9zM495.0 362.5H500.8V368.2H495.0zM303.7 368.2H309.5V374.0H303.7zM495.0 368.2H500.8V374.0H495.0zM309.5 374.0H315.3V379.8H309.5zM692.0 385.5H715.2V391.2H692.0zM332.7 391.2H338.4V397.0H332.7zM686.3 391.2H692.0V397.0H686.3zM715.2 391.2H721.0V397.0H715.2zM338.4 397.0H344.2V402.8H338.4zM680.5 397.0H686.3V402.8H680.5zM721.0 397.0H726.8V402.8H721.0zM500.8 402.8H506.6V408.5H500.8zM506.6 408.5H512.3V414.2H506.6zM680.5 414.2H686.3V420.0H680.5zM552.9 420.0H558.7V425.8H552.9zM570.3 420.0H576.1V425.8H570.3zM680.5 420.0H686.3V425.8H680.5zM726.8 420.0H732.6V425.8H726.8zM512.3 425.8H518.1V431.5H512.3zM535.5 425.8H547.1V431.5H535.5zM726.8 425.8H732.6V431.5H726.8zM581.9 431.5H587.7V437.2H581.9zM686.3 443.0H692.0V448.8H686.3zM726.8 443.0H732.6V448.8H726.8zM390.6 448.8H396.4V454.5H390.6zM581.9 448.8H587.7V454.5H581.9zM697.8 454.5H703.6V460.2H697.8zM715.2 454.5H721.0V460.2H715.2zM396.4 460.2H402.2V466.0H396.4zM581.9 471.8H587.7V477.5H581.9zM587.7 477.5H593.5V483.2H587.7zM605.1 483.2H610.9V489.0H605.1zM413.8 489.0H419.6V494.8H413.8zM639.9 489.0H645.7V494.8H639.9zM663.1 489.0H668.9V494.8H663.1zM634.1 494.8H639.9V500.5H634.1zM668.9 494.8H674.7V500.5H668.9zM419.6 500.5H425.4V506.2H419.6zM674.7 500.5H680.5V506.2H674.7zM425.4 512.0H431.2V517.8H425.4zM686.3 517.8H692.0V523.5H686.3zM431.2 523.5H437.0V529.2H431.2zM703.6 523.5H709.4V529.2H703.6zM437.0 529.2H442.8V535.0H437.0zM715.2 535.0H721.0V540.8H715.2zM738.4 535.0H750.0V540.8H738.4zM721.0 540.8H726.8V546.5H721.0zM761.6 540.8H767.4V546.5H761.6zM767.4 546.5H773.2V552.2H767.4zM773.2 552.2H779.0V558.0H773.2zM628.3 558.0H634.1V563.8H628.3zM628.3 563.8H634.1V569.5H628.3zM448.6 569.5H454.4V575.2H448.6zM628.3 569.5H634.1V575.2H628.3zM651.5 569.5H663.1V575.2H651.5zM668.9 575.2H674.7V581.0H668.9zM773.2 575.2H779.0V581.0H773.2zM674.7 581.0H680.5V586.8H674.7zM726.8 581.0H738.4V586.8H726.8zM767.4 581.0H773.2V586.8H767.4zM431.2 586.8H437.0V592.5H431.2zM622.5 586.8H628.3V592.5H622.5zM721.0 586.8H726.8V592.5H721.0zM744.2 586.8H761.6V592.5H744.2zM425.4 592.5H431.2V598.2H425.4zM610.9 598.2H616.7V604.0H610.9zM715.2 598.2H721.0V604.0H715.2zM599.3 604.0H605.1V609.8H599.3zM692.0 604.0H697.8V609.8H692.0zM709.4 604.0H715.2V609.8H709.4zM408.0 609.8H413.8V615.5H408.0zM587.7 609.8H593.5V615.5H587.7zM396.4 615.5H402.2V621.2H396.4zM384.8 621.2H390.6V627.0H384.8zM581.9 621.2H587.7V627.0H581.9zM367.4 627.0H373.2V632.8H367.4zM355.8 632.8H361.6V638.5H355.8zM344.2 638.5H350.0V644.2H344.2zM523.9 638.5H535.5V644.2H523.9zM332.7 644.2H338.4V650.0H332.7zM541.3 644.2H558.7V650.0H541.3zM321.1 650.0H326.9V655.8H321.1zM512.3 650.0H518.1V655.8H512.3zM309.5 655.8H315.3V661.5H309.5zM297.9 661.5H303.7V667.2H297.9zM280.5 667.2H286.3V673.0H280.5zM495.0 667.2H500.8V673.0H495.0zM477.6 673.0H483.4V678.8H477.6zM466.0 678.8H471.8V684.5H466.0zM257.3 684.5H263.1V690.2H257.3zM442.8 690.2H448.6V696.0H442.8zM413.8 696.0H419.6V701.8H413.8zM257.3 701.8H263.1V707.5H257.3zM390.6 701.8H402.2V707.5H390.6zM350.0 707.5H361.6V713.2H350.0zM268.9 713.2H274.7V719.0H268.9zM326.9 713.2H332.7V719.0H326.9z"/>
<path fill="#dcf1f7" d="M187.7 6.0H193.5V11.8H187.7zM210.9 6.0H216.7V11.8H210.9zM176.1 11.8H181.9V17.5H176.1zM216.7 11.8H222.5V17.5H216.7zM170.3 17.5H176.1V23.2H170.3zM222.5 23.2H228.3V29.0H222.5zM222.5 29.0H228.3V34.8H222.5zM164.5 46.2H170.3V52.0H164.5zM158.7 52.0H164.5V57.8H158.7zM239.9 52.0H245.7V57.8H239.9zM153.0 57.8H158.7V63.5H153.0zM141.4 63.5H147.2V69.2H141.4zM112.4 80.8H118.2V86.5H112.4zM100.8 86.5H106.6V92.2H100.8zM274.7 86.5H280.5V92.2H274.7zM95.0 92.2H100.8V98.0H95.0zM89.2 98.0H95.0V103.8H89.2zM286.3 103.8H292.1V109.5H286.3zM83.4 109.5H89.2V115.2H83.4zM77.6 115.2H83.4V121.0H77.6zM71.8 121.0H77.6V126.8H71.8zM66.0 132.5H71.8V138.2H66.0zM66.0 138.2H71.8V144.0H66.0zM286.3 138.2H292.1V144.0H286.3zM66.0 144.0H71.8V149.8H66.0zM286.3 144.0H292.1V149.8H286.3zM66.0 149.8H71.8V155.5H66.0zM309.5 161.2H326.9V167.0H309.5zM361.6 161.2H367.4V167.0H361.6zM71.8 167.0H77.6V172.8H71.8zM367.4 167.0H373.2V172.8H367.4zM373.2 172.8H379.0V178.5H373.2zM106.6 201.5H112.4V207.2H106.6zM129.8 218.8H135.6V224.5H129.8zM454.4 218.8H471.8V224.5H454.4zM379.0 224.5H384.8V230.2H379.0zM448.6 224.5H454.4V230.2H448.6zM147.2 230.2H153.0V236.0H147.2zM384.8 230.2H390.6V236.0H384.8zM442.8 230.2H448.6V236.0H442.8zM477.6 230.2H483.4V236.0H477.6zM402.2 247.5H408.0V253.2H402.2zM442.8 247.5H448.6V253.2H442.8zM477.6 247.5H483.4V253.2H477.6zM437.0 253.2H448.6V259.0H437.0zM471.8 253.2H477.6V259.0H471.8zM181.9 259.0H187.7V264.8H181.9zM413.8 259.0H425.4V264.8H413.8zM454.4 259.0H466.0V264.8H454.4zM187.7 264.8H193.5V270.5H187.7zM454.4 264.8H460.2V270.5H454.4zM454.4 270.5H460.2V276.2H454.4zM454.4 276.2H460.2V282.0H454.4zM448.6 287.8H454.4V293.5H448.6zM442.8 293.5H448.6V299.2H442.8zM222.5 299.2H228.3V305.0H222.5zM228.3 305.0H234.1V310.8H228.3zM234.1 310.8H239.9V316.5H234.1zM442.8 310.8H448.6V316.5H442.8zM239.9 316.5H245.7V322.2H239.9zM448.6 316.5H454.4V322.2H448.6zM263.1 333.8H268.9V339.5H263.1zM286.3 351.0H292.1V356.8H286.3zM483.4 351.0H489.2V356.8H483.4zM292.1 356.8H297.9V362.5H292.1zM489.2 356.8H495.0V362.5H489.2zM495.0 374.0H500.8V379.8H495.0zM495.0 379.8H500.8V385.5H495.0zM326.9 385.5H332.7V391.2H326.9zM495.0 385.5H500.8V391.2H495.0zM495.0 391.2H500.8V397.0H495.0zM495.0 397.0H500.8V402.8H495.0zM680.5 402.8H686.3V408.5H680.5zM721.0 402.8H726.8V408.5H721.0zM355.8 408.5H361.6V414.2H355.8zM680.5 408.5H686.3V414.2H680.5zM721.0 408.5H726.8V414.2H721.0zM361.6 414.2H367.4V420.0H361.6zM506.6 414.2H512.3V420.0H506.6zM721.0 414.2H726.8V420.0H721.0zM367.4 420.0H373.2V425.8H367.4zM558.7 420.0H570.3V425.8H558.7zM373.2 425.8H379.0V431.5H373.2zM547.1 425.8H552.9V431.5H547.1zM576.1 425.8H581.9V431.5H576.1zM686.3 425.8H692.0V431.5H686.3zM379.0 431.5H384.8V437.2H379.0zM518.1 431.5H523.9V437.2H518.1zM686.3 431.5H692.0V437.2H686.3zM726.8 431.5H732.6V437.2H726.8zM384.8 437.2H390.6V443.0H384.8zM581.9 437.2H587.7V443.0H581.9zM686.3 437.2H692.0V443.0H686.3zM726.8 437.2H732.6V443.0H726.8zM581.9 443.0H587.7V448.8H581.9zM692.0 448.8H697.8V454.5H692.0zM721.0 448.8H726.8V454.5H721.0zM703.6 454.5H715.2V460.2H703.6zM576.1 460.2H581.9V466.0H576.1zM576.1 466.0H581.9V471.8H576.1zM402.2 471.8H408.0V477.5H402.2zM576.1 471.8H581.9V477.5H576.1zM581.9 477.5H587.7V483.2H581.9zM599.3 483.2H605.1V489.0H599.3zM610.9 489.0H616.7V494.8H610.9zM645.7 489.0H663.1V494.8H645.7zM616.7 494.8H622.5V500.5H616.7zM622.5 500.5H634.1V506.2H622.5zM674.7 506.2H680.5V512.0H674.7zM680.5 517.8H686.3V523.5H680.5zM697.8 523.5H703.6V529.2H697.8zM709.4 529.2H715.2V535.0H709.4zM442.8 535.0H448.6V540.8H442.8zM715.2 540.8H721.0V546.5H715.2zM726.8 540.8H732.6V546.5H726.8zM755.8 540.8H761.6V546.5H755.8zM448.6 546.5H454.4V552.2H448.6zM721.0 546.5H726.8V552.2H721.0zM622.5 552.2H634.1V558.0H622.5zM622.5 558.0H628.3V563.8H622.5zM634.1 558.0H639.9V563.8H634.1zM773.2 558.0H779.0V563.8H773.2zM639.9 563.8H645.7V569.5H639.9zM773.2 563.8H779.0V569.5H773.2zM663.1 569.5H668.9V575.2H663.1zM773.2 569.5H779.0V575.2H773.2zM448.6 575.2H454.4V581.0H448.6zM721.0 575.2H732.6V581.0H721.0zM442.8 581.0H448.6V586.8H442.8zM622.5 581.0H628.3V586.8H622.5zM721.0 581.0H726.8V586.8H721.0zM616.7 592.5H622.5V598.2H616.7zM680.5 592.5H686.3V598.2H680.5zM715.2 592.5H721.0V598.2H715.2zM686.3 598.2H692.0V604.0H686.3zM419.6 604.0H425.4V609.8H419.6zM593.5 604.0H599.3V609.8H593.5zM697.8 604.0H709.4V609.8H697.8zM402.2 615.5H408.0V621.2H402.2zM581.9 615.5H587.7V621.2H581.9zM390.6 621.2H396.4V627.0H390.6zM373.2 627.0H379.0V632.8H373.2zM576.1 627.0H581.9V632.8H576.1zM361.6 632.8H367.4V638.5H361.6zM570.3 632.8H576.1V638.5H570.3zM350.0 638.5H355.8V644.2H350.0zM518.1 638.5H523.9V644.2H518.1zM564.5 638.5H570.3V644.2H564.5zM338.4 644.2H344.2V650.0H338.4zM326.9 650.0H332.7V655.8H326.9zM315.3 655.8H321.1V661.5H315.3zM506.6 655.8H512.3V661.5H506.6zM303.7 661.5H309.5V667.2H303.7zM500.8 661.5H506.6V667.2H500.8zM286.3 667.2H297.9V673.0H286.3zM489.2 667.2H495.0V673.0H489.2zM268.9 673.0H274.7V678.8H268.9zM471.8 673.0H477.6V678.8H471.8zM263.1 678.8H268.9V684.5H263.1zM454.4 684.5H460.2V690.2H454.4zM257.3 690.2H263.1V696.0H257.3zM425.4 690.2H442.8V696.0H425.4zM257.3 696.0H263.1V701.8H257.3zM408.0 696.0H413.8V701.8H408.0zM373.2 701.8H390.6V707.5H373.2zM263.1 707.5H268.9V713.2H263.1zM344.2 707.5H350.0V713.2H344.2zM274.7 713.2H280.5V719.0H274.7zM315.3 713.2H326.9V719.0H315.3z"/>
<path fill="#d8f0f6" d="M193.5 6.0H210.9V11.8H193.5zM181.9 11.8H187.7V17.5H181.9zM216.7 17.5H222.5V23.2H216.7zM170.3 23.2H176.1V29.0H170.3zM216.7 40.5H222.5V46.2H216.7zM222.5 46.2H228.3V52.0H222.5zM164.5 52.0H170.3V57.8H164.5zM234.1 52.0H239.9V57.8H234.1zM245.7 57.8H251.5V63.5H245.7zM251.5 63.5H257.3V69.2H251.5zM129.8 69.2H135.6V75.0H129.8zM257.3 69.2H263.1V75.0H257.3zM263.1 75.0H268.9V80.8H263.1zM268.9 80.8H274.7V86.5H268.9zM280.5 98.0H286.3V103.8H280.5zM71.8 126.8H77.6V132.5H71.8zM286.3 132.5H292.1V138.2H286.3zM286.3 149.8H292.1V155.5H286.3zM292.1 155.5H297.9V161.2H292.1zM71.8 161.2H77.6V167.0H71.8zM303.7 161.2H309.5V167.0H303.7zM326.9 161.2H361.6V167.0H326.9zM77.6 172.8H83.4V178.5H77.6zM373.2 178.5H379.0V184.2H373.2zM100.8 195.8H106.6V201.5H100.8zM124.0 213.0H129.8V218.8H124.0zM471.8 224.5H477.6V230.2H471.8zM390.6 236.0H396.4V241.8H390.6zM442.8 236.0H448.6V241.8H442.8zM477.6 236.0H483.4V241.8H477.6zM396.4 241.8H402.2V247.5H396.4zM442.8 241.8H448.6V247.5H442.8zM477.6 241.8H483.4V247.5H477.6zM170.3 247.5H176.1V253.2H170.3zM176.1 253.2H181.9V259.0H176.1zM448.6 253.2H454.4V259.0H448.6zM466.0 253.2H471.8V259.0H466.0zM408.0 259.0H413.8V264.8H408.0zM425.4 259.0H454.4V264.8H425.4zM448.6 264.8H454.4V270.5H448.6zM448.6 282.0H454.4V287.8H448.6zM437.0 299.2H442.8V305.0H437.0zM454.4 322.2H460.2V328.0H454.4zM257.3 328.0H263.1V333.8H257.3zM460.2 328.0H466.0V333.8H460.2zM466.0 333.8H471.8V339.5H466.0zM274.7 339.5H280.5V345.2H274.7zM280.5 345.2H286.3V351.0H280.5zM471.8 345.2H477.6V351.0H471.8zM477.6 351.0H483.4V356.8H477.6zM489.2 362.5H495.0V368.2H489.2zM309.5 368.2H315.3V374.0H309.5zM315.3 374.0H321.1V379.8H315.3zM321.1 379.8H326.9V385.5H321.1zM692.0 391.2H697.8V397.0H692.0zM709.4 391.2H715.2V397.0H709.4zM344.2 397.0H350.0V402.8H344.2zM686.3 397.0H692.0V402.8H686.3zM715.2 397.0H721.0V402.8H715.2zM350.0 402.8H355.8V408.5H350.0zM500.8 408.5H506.6V414.2H500.8zM506.6 420.0H512.3V425.8H506.6zM686.3 420.0H692.0V425.8H686.3zM721.0 420.0H726.8V425.8H721.0zM512.3 431.5H518.1V437.2H512.3zM523.9 431.5H547.1V437.2H523.9zM576.1 431.5H581.9V437.2H576.1zM390.6 443.0H396.4V448.8H390.6zM692.0 443.0H697.8V448.8H692.0zM721.0 443.0H726.8V448.8H721.0zM697.8 448.8H703.6V454.5H697.8zM715.2 448.8H721.0V454.5H715.2zM396.4 454.5H402.2V460.2H396.4zM576.1 454.5H581.9V460.2H576.1zM408.0 477.5H413.8V483.2H408.0zM576.1 477.5H581.9V483.2H576.1zM413.8 483.2H419.6V489.0H413.8zM593.5 483.2H599.3V489.0H593.5zM605.1 489.0H610.9V494.8H605.1zM419.6 494.8H425.4V500.5H419.6zM639.9 494.8H645.7V500.5H639.9zM663.1 494.8H668.9V500.5H663.1zM616.7 500.5H622.5V506.2H616.7zM634.1 500.5H639.9V506.2H634.1zM668.9 500.5H674.7V506.2H668.9zM425.4 506.2H431.2V512.0H425.4zM674.7 512.0H680.5V517.8H674.7zM431.2 517.8H437.0V523.5H431.2zM692.0 523.5H697.8V529.2H692.0zM709.4 535.0H715.2V540.8H709.4zM448.6 540.8H454.4V546.5H448.6zM732.6 540.8H744.2V546.5H732.6zM750.0 540.8H755.8V546.5H750.0zM715.2 546.5H721.0V552.2H715.2zM726.8 546.5H732.6V552.2H726.8zM761.6 546.5H767.4V552.2H761.6zM634.1 552.2H639.9V558.0H634.1zM715.2 552.2H726.8V558.0H715.2zM767.4 552.2H773.2V558.0H767.4zM454.4 558.0H460.2V563.8H454.4zM639.9 558.0H645.7V563.8H639.9zM715.2 558.0H726.8V563.8H715.2zM454.4 563.8H460.2V569.5H454.4zM622.5 563.8H628.3V569.5H622.5zM645.7 563.8H657.3V569.5H645.7zM715.2 563.8H726.8V569.5H715.2zM622.5 569.5H628.3V575.2H622.5zM668.9 569.5H674.7V575.2H668.9zM715.2 569.5H726.8V575.2H715.2zM622.5 575.2H628.3V581.0H622.5zM674.7 575.2H680.5V581.0H674.7zM715.2 575.2H721.0V581.0H715.2zM767.4 575.2H773.2V581.0H767.4zM680.5 581.0H686.3V586.8H680.5zM715.2 581.0H721.0V586.8H715.2zM738.4 581.0H750.0V586.8H738.4zM761.6 581.0H767.4V586.8H761.6zM437.0 586.8H442.8V592.5H437.0zM680.5 586.8H686.3V592.5H680.5zM715.2 586.8H721.0V592.5H715.2zM431.2 592.5H437.0V598.2H431.2zM425.4 598.2H431.2V604.0H425.4zM605.1 598.2H610.9V604.0H605.1zM692.0 598.2H697.8V604.0H692.0zM709.4 598.2H715.2V604.0H709.4zM587.7 604.0H593.5V609.8H587.7zM413.8 609.8H419.6V615.5H413.8zM581.9 609.8H587.7V615.5H581.9zM396.4 621.2H402.2V627.0H396.4zM576.1 621.2H581.9V627.0H576.1zM379.0 627.0H384.8V632.8H379.0zM367.4 632.8H373.2V638.5H367.4zM523.9 632.8H529.7V638.5H523.9zM535.5 638.5H541.3V644.2H535.5zM558.7 638.5H564.5V644.2H558.7zM512.3 644.2H518.1V650.0H512.3zM309.5 661.5H315.3V667.2H309.5zM297.9 667.2H303.7V673.0H297.9zM483.4 667.2H489.2V673.0H483.4zM274.7 673.0H280.5V678.8H274.7zM460.2 678.8H466.0V684.5H460.2zM448.6 684.5H454.4V690.2H448.6zM413.8 690.2H425.4V696.0H413.8zM402.2 696.0H408.0V701.8H402.2zM263.1 701.8H268.9V707.5H263.1zM361.6 701.8H373.2V707.5H361.6zM268.9 707.5H274.7V713.2H268.9zM332.7 707.5H344.2V713.2H332.7zM280.5 713.2H292.1V719.0H280.5zM309.5 713.2H315.3V719.0H309.5z"/>
<path fill="#d5eff5" d="M187.7 11.8H193.5V17.5H187.7zM210.9 11.8H216.7V17.5H210.9zM176.1 17.5H181.9V23.2H176.1zM216.7 23.2H222.5V29.0H216.7zM170.3 29.0H176.1V34.8H170.3zM216.7 29.0H222.5V34.8H216.7zM170.3 34.8H176.1V40.5H170.3zM216.7 34.8H222.5V40.5H216.7zM170.3 40.5H176.1V46.2H170.3zM170.3 46.2H176.1V52.0H170.3zM216.7 46.2H222.5V52.0H216.7zM228.3 52.0H234.1V57.8H228.3zM158.7 57.8H164.5V63.5H158.7zM239.9 57.8H245.7V63.5H239.9zM147.2 63.5H153.0V69.2H147.2zM135.6 69.2H141.4V75.0H135.6zM124.0 75.0H129.8V80.8H124.0zM118.2 80.8H124.0V86.5H118.2zM106.6 86.5H112.4V92.2H106.6zM268.9 86.5H274.7V92.2H268.9zM274.7 92.2H280.5V98.0H274.7zM89.2 103.8H95.0V109.5H89.2zM286.3 109.5H292.1V115.2H286.3zM77.6 121.0H83.4V126.8H77.6zM286.3 126.8H292.1V132.5H286.3zM297.9 161.2H303.7V167.0H297.9zM361.6 167.0H367.4V172.8H361.6zM367.4 172.8H373.2V178.5H367.4zM83.4 178.5H89.2V184.2H83.4zM89.2 184.2H95.0V190.0H89.2zM373.2 184.2H379.0V190.0H373.2zM95.0 190.0H100.8V195.8H95.0zM373.2 190.0H379.0V195.8H373.2zM373.2 195.8H379.0V201.5H373.2zM373.2 201.5H379.0V207.2H373.2zM118.2 207.2H124.0V213.0H118.2zM373.2 207.2H379.0V213.0H373.2zM373.2 213.0H379.0V218.8H373.2zM373.2 218.8H379.0V224.5H373.2zM141.4 224.5H147.2V230.2H141.4zM454.4 224.5H471.8V230.2H454.4zM379.0 230.2H384.8V236.0H379.0zM448.6 230.2H454.4V236.0H448.6zM471.8 230.2H477.6V236.0H471.8zM164.5 241.8H170.3V247.5H164.5zM448.6 247.5H454.4V253.2H448.6zM471.8 247.5H477.6V253.2H471.8zM402.2 253.2H408.0V259.0H402.2zM454.4 253.2H466.0V259.0H454.4zM413.8 264.8H425.4V270.5H413.8zM442.8 264.8H448.6V270.5H442.8zM448.6 270.5H454.4V276.2H448.6zM448.6 276.2H454.4V282.0H448.6zM442.8 287.8H448.6V293.5H442.8zM437.0 293.5H442.8V299.2H437.0zM437.0 305.0H442.8V310.8H437.0zM245.7 316.5H251.5V322.2H245.7zM442.8 316.5H448.6V322.2H442.8zM251.5 322.2H257.3V328.0H251.5zM448.6 322.2H454.4V328.0H448.6zM268.9 333.8H274.7V339.5H268.9zM466.0 339.5H471.8V345.2H466.0zM471.8 351.0H477.6V356.8H471.8zM297.9 356.8H303.7V362.5H297.9zM483.4 356.8H489.2V362.5H483.4zM303.7 362.5H309.5V368.2H303.7zM489.2 368.2H495.0V374.0H489.2zM489.2 374.0H495.0V379.8H489.2zM489.2 379.8H495.0V385.5H489.2zM332.7 385.5H338.4V391.2H332.7zM489.2 385.5H495.0V391.2H489.2zM338.4 391.2H344.2V397.0H338.4zM489.2 391.2H495.0V397.0H489.2zM697.8 391.2H709.4V397.0H697.8zM489.2 397.0H495.0V402.8H489.2zM495.0 402.8H500.8V408.5H495.0zM686.3 402.8H692.0V408.5H686.3zM715.2 402.8H721.0V408.5H715.2zM686.3 408.5H692.0V414.2H686.3zM715.2 408.5H721.0V414.2H715.2zM500.8 414.2H506.6V420.0H500.8zM686.3 414.2H692.0V420.0H686.3zM715.2 414.2H721.0V420.0H715.2zM506.6 425.8H512.3V431.5H506.6zM552.9 425.8H576.1V431.5H552.9zM721.0 425.8H726.8V431.5H721.0zM547.1 431.5H552.9V437.2H547.1zM692.0 431.5H697.8V437.2H692.0zM721.0 431.5H726.8V437.2H721.0zM512.3 437.2H523.9V443.0H512.3zM576.1 437.2H581.9V443.0H576.1zM692.0 437.2H697.8V443.0H692.0zM721.0 437.2H726.8V443.0H721.0zM576.1 443.0H581.9V448.8H576.1zM396.4 448.8H402.2V454.5H396.4zM576.1 448.8H581.9V454.5H576.1zM703.6 448.8H715.2V454.5H703.6zM402.2 466.0H408.0V471.8H402.2zM570.3 466.0H576.1V471.8H570.3zM570.3 471.8H576.1V477.5H570.3zM587.7 483.2H593.5V489.0H587.7zM419.6 489.0H425.4V494.8H419.6zM610.9 494.8H616.7V500.5H610.9zM645.7 494.8H663.1V500.5H645.7zM622.5 506.2H634.1V512.0H622.5zM668.9 506.2H674.7V512.0H668.9zM674.7 517.8H680.5V523.5H674.7zM437.0 523.5H442.8V529.2H437.0zM680.5 523.5H692.0V529.2H680.5zM442.8 529.2H448.6V535.0H442.8zM703.6 529.2H709.4V535.0H703.6zM587.7 540.8H599.3V546.5H587.7zM744.2 540.8H750.0V546.5H744.2zM581.9 546.5H593.5V552.2H581.9zM616.7 546.5H634.1V552.2H616.7zM454.4 552.2H460.2V558.0H454.4zM616.7 552.2H622.5V558.0H616.7zM616.7 558.0H622.5V563.8H616.7zM767.4 558.0H773.2V563.8H767.4zM657.3 563.8H668.9V569.5H657.3zM454.4 569.5H460.2V575.2H454.4zM709.4 569.5H715.2V575.2H709.4zM726.8 569.5H732.6V575.2H726.8zM767.4 569.5H773.2V575.2H767.4zM732.6 575.2H738.4V581.0H732.6zM448.6 581.0H454.4V586.8H448.6zM750.0 581.0H761.6V586.8H750.0zM616.7 586.8H622.5V592.5H616.7zM610.9 592.5H616.7V598.2H610.9zM686.3 592.5H692.0V598.2H686.3zM709.4 592.5H715.2V598.2H709.4zM599.3 598.2H605.1V604.0H599.3zM697.8 598.2H709.4V604.0H697.8zM581.9 604.0H587.7V609.8H581.9zM408.0 615.5H413.8V621.2H408.0zM384.8 627.0H390.6V632.8H384.8zM523.9 627.0H529.7V632.8H523.9zM570.3 627.0H576.1V632.8H570.3zM373.2 632.8H379.0V638.5H373.2zM518.1 632.8H523.9V638.5H518.1zM529.7 632.8H535.5V638.5H529.7zM564.5 632.8H570.3V638.5H564.5zM355.8 638.5H361.6V644.2H355.8zM541.3 638.5H558.7V644.2H541.3zM344.2 644.2H350.0V650.0H344.2zM332.7 650.0H338.4V655.8H332.7zM506.6 650.0H512.3V655.8H506.6zM321.1 655.8H326.9V661.5H321.1zM500.8 655.8H506.6V661.5H500.8zM495.0 661.5H500.8V667.2H495.0zM477.6 667.2H483.4V673.0H477.6zM280.5 673.0H292.1V678.8H280.5zM466.0 673.0H471.8V678.8H466.0zM268.9 678.8H274.7V684.5H268.9zM454.4 678.8H460.2V684.5H454.4zM263.1 684.5H268.9V690.2H263.1zM442.8 684.5H448.6V690.2H442.8zM263.1 690.2H268.9V696.0H263.1zM408.0 690.2H413.8V696.0H408.0zM263.1 696.0H268.9V701.8H263.1zM390.6 696.0H402.2V701.8H390.6zM355.8 701.8H361.6V707.5H355.8zM326.9 707.5H332.7V713.2H326.9zM292.1 713.2H309.5V719.0H292.1z"/>
<path fill="#d2eef4" d="M193.5 11.8H210.9V17.5H193.5zM181.9 17.5H187.7V23.2H181.9zM210.9 17.5H216.7V23.2H210.9zM176.1 23.2H181.9V29.0H176.1zM210.9 40.5H216.7V46.2H210.9zM170.3 52.0H176.1V57.8H170.3zM222.5 52.0H228.3V57.8H222.5zM153.0 63.5H158.7V69.2H153.0zM245.7 63.5H251.5V69.2H245.7zM251.5 69.2H257.3V75.0H251.5zM257.3 75.0H263.1V80.8H257.3zM263.1 80.8H268.9V86.5H263.1zM112.4 86.5H118.2V92.2H112.4zM100.8 92.2H106.6V98.0H100.8zM95.0 98.0H100.8V103.8H95.0zM274.7 98.0H280.5V103.8H274.7zM280.5 103.8H286.3V109.5H280.5zM83.4 115.2H89.2V121.0H83.4zM286.3 115.2H292.1V121.0H286.3zM286.3 121.0H292.1V126.8H286.3zM71.8 132.5H77.6V138.2H71.8zM280.5 144.0H286.3V149.8H280.5zM71.8 155.5H77.6V161.2H71.8zM286.3 155.5H292.1V161.2H286.3zM292.1 161.2H297.9V167.0H292.1zM309.5 167.0H321.1V172.8H309.5zM350.0 167.0H361.6V172.8H350.0zM367.4 178.5H373.2V184.2H367.4zM135.6 218.8H141.4V224.5H135.6zM373.2 224.5H379.0V230.2H373.2zM454.4 230.2H460.2V236.0H454.4zM466.0 230.2H471.8V236.0H466.0zM158.7 236.0H164.5V241.8H158.7zM384.8 236.0H390.6V241.8H384.8zM448.6 236.0H454.4V241.8H448.6zM471.8 236.0H477.6V241.8H471.8zM390.6 241.8H396.4V247.5H390.6zM448.6 241.8H454.4V247.5H448.6zM471.8 241.8H477.6V247.5H471.8zM396.4 247.5H402.2V253.2H396.4zM454.4 247.5H460.2V253.2H454.4zM466.0 247.5H471.8V253.2H466.0zM402.2 259.0H408.0V264.8H402.2zM193.5 264.8H199.3V270.5H193.5zM408.0 264.8H413.8V270.5H408.0zM425.4 264.8H442.8V270.5H425.4zM199.3 270.5H205.1V276.2H199.3zM442.8 270.5H448.6V276.2H442.8zM205.1 276.2H210.9V282.0H205.1zM210.9 282.0H216.7V287.8H210.9zM442.8 282.0H448.6V287.8H442.8zM216.7 287.8H222.5V293.5H216.7zM437.0 287.8H442.8V293.5H437.0zM222.5 293.5H228.3V299.2H222.5zM431.2 293.5H437.0V299.2H431.2zM228.3 299.2H234.1V305.0H228.3zM431.2 299.2H437.0V305.0H431.2zM234.1 305.0H239.9V310.8H234.1zM239.9 310.8H245.7V316.5H239.9zM437.0 310.8H442.8V316.5H437.0zM263.1 328.0H268.9V333.8H263.1zM454.4 328.0H460.2V333.8H454.4zM460.2 333.8H466.0V339.5H460.2zM286.3 345.2H292.1V351.0H286.3zM466.0 345.2H471.8V351.0H466.0zM292.1 351.0H297.9V356.8H292.1zM477.6 356.8H483.4V362.5H477.6zM483.4 362.5H489.2V368.2H483.4zM326.9 379.8H332.7V385.5H326.9zM692.0 397.0H715.2V402.8H692.0zM489.2 402.8H495.0V408.5H489.2zM361.6 408.5H367.4V414.2H361.6zM495.0 408.5H500.8V414.2H495.0zM367.4 414.2H373.2V420.0H367.4zM692.0 414.2H697.8V420.0H692.0zM373.2 420.0H379.0V425.8H373.2zM500.8 420.0H506.6V425.8H500.8zM692.0 420.0H697.8V425.8H692.0zM715.2 420.0H721.0V425.8H715.2zM379.0 425.8H384.8V431.5H379.0zM692.0 425.8H697.8V431.5H692.0zM715.2 425.8H721.0V431.5H715.2zM384.8 431.5H390.6V437.2H384.8zM506.6 431.5H512.3V437.2H506.6zM552.9 431.5H558.7V437.2H552.9zM570.3 431.5H576.1V437.2H570.3zM523.9 437.2H535.5V443.0H523.9zM541.3 437.2H547.1V443.0H541.3zM697.8 443.0H703.6V448.8H697.8zM715.2 443.0H721.0V448.8H715.2zM570.3 454.5H576.1V460.2H570.3zM402.2 460.2H408.0V466.0H402.2zM570.3 460.2H576.1V466.0H570.3zM408.0 471.8H413.8V477.5H408.0zM413.8 477.5H419.6V483.2H413.8zM570.3 477.5H576.1V483.2H570.3zM576.1 483.2H587.7V489.0H576.1zM599.3 489.0H605.1V494.8H599.3zM605.1 494.8H610.9V500.5H605.1zM425.4 500.5H431.2V506.2H425.4zM610.9 500.5H616.7V506.2H610.9zM639.9 500.5H645.7V506.2H639.9zM663.1 500.5H668.9V506.2H663.1zM616.7 506.2H622.5V512.0H616.7zM634.1 506.2H639.9V512.0H634.1zM431.2 512.0H437.0V517.8H431.2zM668.9 512.0H674.7V517.8H668.9zM674.7 523.5H680.5V529.2H674.7zM697.8 529.2H703.6V535.0H697.8zM448.6 535.0H454.4V540.8H448.6zM587.7 535.0H599.3V540.8H587.7zM581.9 540.8H587.7V546.5H581.9zM599.3 540.8H605.1V546.5H599.3zM709.4 540.8H715.2V546.5H709.4zM454.4 546.5H460.2V552.2H454.4zM593.5 546.5H616.7V552.2H593.5zM634.1 546.5H639.9V552.2H634.1zM709.4 546.5H715.2V552.2H709.4zM732.6 546.5H738.4V552.2H732.6zM755.8 546.5H761.6V552.2H755.8zM576.1 552.2H593.5V558.0H576.1zM610.9 552.2H616.7V558.0H610.9zM639.9 552.2H645.7V558.0H639.9zM709.4 552.2H715.2V558.0H709.4zM726.8 552.2H732.6V558.0H726.8zM761.6 552.2H767.4V558.0H761.6zM645.7 558.0H651.5V563.8H645.7zM709.4 558.0H715.2V563.8H709.4zM726.8 558.0H732.6V563.8H726.8zM616.7 563.8H622.5V569.5H616.7zM668.9 563.8H674.7V569.5H668.9zM709.4 563.8H715.2V569.5H709.4zM726.8 563.8H732.6V569.5H726.8zM767.4 563.8H773.2V569.5H767.4zM674.7 569.5H680.5V575.2H674.7zM732.6 569.5H738.4V575.2H732.6zM454.4 575.2H460.2V581.0H454.4zM680.5 575.2H686.3V581.0H680.5zM709.4 575.2H715.2V581.0H709.4zM738.4 575.2H744.2V581.0H738.4zM761.6 575.2H767.4V581.0H761.6zM616.7 581.0H622.5V586.8H616.7zM686.3 581.0H692.0V586.8H686.3zM709.4 581.0H715.2V586.8H709.4zM442.8 586.8H448.6V592.5H442.8zM686.3 586.8H692.0V592.5H686.3zM709.4 586.8H715.2V592.5H709.4zM437.0 592.5H442.8V598.2H437.0zM605.1 592.5H610.9V598.2H605.1zM692.0 592.5H697.8V598.2H692.0zM703.6 592.5H709.4V598.2H703.6zM431.2 598.2H437.0V604.0H431.2zM581.9 598.2H599.3V604.0H581.9zM425.4 604.0H431.2V609.8H425.4zM419.6 609.8H425.4V615.5H419.6zM576.1 609.8H581.9V615.5H576.1zM413.8 615.5H419.6V621.2H413.8zM576.1 615.5H581.9V621.2H576.1zM402.2 621.2H408.0V627.0H402.2zM390.6 627.0H396.4V632.8H390.6zM529.7 627.0H535.5V632.8H529.7zM379.0 632.8H384.8V638.5H379.0zM535.5 632.8H541.3V638.5H535.5zM361.6 638.5H367.4V644.2H361.6zM512.3 638.5H518.1V644.2H512.3zM350.0 644.2H355.8V650.0H350.0zM326.9 655.8H332.7V661.5H326.9zM315.3 661.5H321.1V667.2H315.3zM489.2 661.5H495.0V667.2H489.2zM303.7 667.2H309.5V673.0H303.7zM471.8 667.2H477.6V673.0H471.8zM292.1 673.0H297.9V678.8H292.1zM460.2 673.0H466.0V678.8H460.2zM274.7 678.8H280.5V684.5H274.7zM268.9 684.5H274.7V690.2H268.9zM425.4 684.5H442.8V690.2H425.4zM379.0 696.0H390.6V701.8H379.0zM268.9 701.8H274.7V707.5H268.9zM344.2 701.8H355.8V707.5H344.2zM274.7 707.5H286.3V713.2H274.7zM315.3 707.5H326.9V713.2H315.3z"/>
<path fill="#d0ecf4" d="M210.9 23.2H216.7V29.0H210.9zM176.1 29.0H181.9V34.8H176.1zM210.9 29.0H216.7V34.8H210.9zM176.1 34.8H181.9V40.5H176.1zM210.9 34.8H216.7V40.5H210.9zM176.1 40.5H181.9V46.2H176.1zM176.1 46.2H181.9V52.0H176.1zM210.9 46.2H216.7V52.0H210.9zM216.7 52.0H222.5V57.8H216.7zM164.5 57.8H170.3V63.5H164.5zM234.1 57.8H239.9V63.5H234.1zM141.4 69.2H147.2V75.0H141.4zM129.8 75.0H135.6V80.8H129.8zM251.5 75.0H257.3V80.8H251.5zM124.0 80.8H129.8V86.5H124.0zM257.3 80.8H263.1V86.5H257.3zM263.1 86.5H268.9V92.2H263.1zM268.9 92.2H274.7V98.0H268.9zM89.2 109.5H95.0V115.2H89.2zM71.8 138.2H77.6V144.0H71.8zM280.5 138.2H286.3V144.0H280.5zM71.8 144.0H77.6V149.8H71.8zM71.8 149.8H77.6V155.5H71.8zM280.5 149.8H286.3V155.5H280.5zM77.6 167.0H83.4V172.8H77.6zM303.7 167.0H309.5V172.8H303.7zM321.1 167.0H350.0V172.8H321.1zM361.6 172.8H367.4V178.5H361.6zM367.4 184.2H373.2V190.0H367.4zM112.4 201.5H118.2V207.2H112.4zM367.4 201.5H373.2V207.2H367.4zM367.4 207.2H373.2V213.0H367.4zM129.8 213.0H135.6V218.8H129.8zM367.4 213.0H373.2V218.8H367.4zM153.0 230.2H158.7V236.0H153.0zM460.2 230.2H466.0V236.0H460.2zM454.4 236.0H460.2V241.8H454.4zM466.0 236.0H471.8V241.8H466.0zM454.4 241.8H460.2V247.5H454.4zM466.0 241.8H471.8V247.5H466.0zM460.2 247.5H466.0V253.2H460.2zM181.9 253.2H187.7V259.0H181.9zM396.4 253.2H402.2V259.0H396.4zM187.7 259.0H193.5V264.8H187.7zM402.2 264.8H408.0V270.5H402.2zM408.0 270.5H431.2V276.2H408.0zM437.0 270.5H442.8V276.2H437.0zM442.8 276.2H448.6V282.0H442.8zM437.0 282.0H442.8V287.8H437.0zM431.2 287.8H437.0V293.5H431.2zM431.2 305.0H437.0V310.8H431.2zM437.0 316.5H442.8V322.2H437.0zM257.3 322.2H263.1V328.0H257.3zM442.8 322.2H448.6V328.0H442.8zM274.7 333.8H280.5V339.5H274.7zM280.5 339.5H286.3V345.2H280.5zM460.2 339.5H466.0V345.2H460.2zM466.0 351.0H471.8V356.8H466.0zM471.8 356.8H477.6V362.5H471.8zM315.3 368.2H321.1V374.0H315.3zM483.4 368.2H489.2V374.0H483.4zM321.1 374.0H326.9V379.8H321.1zM344.2 391.2H350.0V397.0H344.2zM483.4 391.2H489.2V397.0H483.4zM350.0 397.0H355.8V402.8H350.0zM483.4 397.0H489.2V402.8H483.4zM355.8 402.8H361.6V408.5H355.8zM692.0 402.8H703.6V408.5H692.0zM709.4 402.8H715.2V408.5H709.4zM692.0 408.5H697.8V414.2H692.0zM709.4 408.5H715.2V414.2H709.4zM709.4 414.2H715.2V420.0H709.4zM697.8 420.0H703.6V425.8H697.8zM709.4 420.0H715.2V425.8H709.4zM500.8 425.8H506.6V431.5H500.8zM697.8 425.8H703.6V431.5H697.8zM709.4 425.8H715.2V431.5H709.4zM558.7 431.5H570.3V437.2H558.7zM697.8 431.5H703.6V437.2H697.8zM715.2 431.5H721.0V437.2H715.2zM390.6 437.2H396.4V443.0H390.6zM506.6 437.2H512.3V443.0H506.6zM535.5 437.2H541.3V443.0H535.5zM547.1 437.2H552.9V443.0H547.1zM570.3 437.2H576.1V443.0H570.3zM697.8 437.2H703.6V443.0H697.8zM715.2 437.2H721.0V443.0H715.2zM512.3 443.0H523.9V448.8H512.3zM570.3 443.0H576.1V448.8H570.3zM703.6 443.0H715.2V448.8H703.6zM570.3 448.8H576.1V454.5H570.3zM564.5 477.5H570.3V483.2H564.5zM419.6 483.2H425.4V489.0H419.6zM570.3 483.2H576.1V489.0H570.3zM587.7 489.0H599.3V494.8H587.7zM425.4 494.8H431.2V500.5H425.4zM645.7 500.5H663.1V506.2H645.7zM431.2 506.2H437.0V512.0H431.2zM610.9 506.2H616.7V512.0H610.9zM639.9 506.2H645.7V512.0H639.9zM663.1 506.2H668.9V512.0H663.1zM616.7 512.0H639.9V517.8H616.7zM437.0 517.8H442.8V523.5H437.0zM668.9 517.8H674.7V523.5H668.9zM674.7 529.2H697.8V535.0H674.7zM581.9 535.0H587.7V540.8H581.9zM599.3 535.0H605.1V540.8H599.3zM703.6 535.0H709.4V540.8H703.6zM605.1 540.8H639.9V546.5H605.1zM576.1 546.5H581.9V552.2H576.1zM639.9 546.5H645.7V552.2H639.9zM738.4 546.5H755.8V552.2H738.4zM593.5 552.2H610.9V558.0H593.5zM645.7 552.2H651.5V558.0H645.7zM732.6 552.2H738.4V558.0H732.6zM460.2 558.0H466.0V563.8H460.2zM576.1 558.0H587.7V563.8H576.1zM610.9 558.0H616.7V563.8H610.9zM651.5 558.0H668.9V563.8H651.5zM761.6 558.0H767.4V563.8H761.6zM460.2 563.8H466.0V569.5H460.2zM616.7 569.5H622.5V575.2H616.7zM680.5 569.5H686.3V575.2H680.5zM703.6 569.5H709.4V575.2H703.6zM761.6 569.5H767.4V575.2H761.6zM616.7 575.2H622.5V581.0H616.7zM686.3 575.2H692.0V581.0H686.3zM703.6 575.2H709.4V581.0H703.6zM744.2 575.2H761.6V581.0H744.2zM570.3 586.8H576.1V592.5H570.3zM610.9 586.8H616.7V592.5H610.9zM692.0 586.8H697.8V592.5H692.0zM703.6 586.8H709.4V592.5H703.6zM570.3 592.5H581.9V598.2H570.3zM599.3 592.5H605.1V598.2H599.3zM697.8 592.5H703.6V598.2H697.8zM576.1 598.2H581.9V604.0H576.1zM576.1 604.0H581.9V609.8H576.1zM408.0 621.2H413.8V627.0H408.0zM523.9 621.2H535.5V627.0H523.9zM570.3 621.2H576.1V627.0H570.3zM396.4 627.0H402.2V632.8H396.4zM518.1 627.0H523.9V632.8H518.1zM564.5 627.0H570.3V632.8H564.5zM384.8 632.8H390.6V638.5H384.8zM541.3 632.8H547.1V638.5H541.3zM558.7 632.8H564.5V638.5H558.7zM367.4 638.5H373.2V644.2H367.4zM506.6 644.2H512.3V650.0H506.6zM338.4 650.0H344.2V655.8H338.4zM500.8 650.0H506.6V655.8H500.8zM495.0 655.8H500.8V661.5H495.0zM483.4 661.5H489.2V667.2H483.4zM309.5 667.2H315.3V673.0H309.5zM466.0 667.2H471.8V673.0H466.0zM297.9 673.0H303.7V678.8H297.9zM280.5 678.8H286.3V684.5H280.5zM448.6 678.8H454.4V684.5H448.6zM413.8 684.5H425.4V690.2H413.8zM268.9 690.2H274.7V696.0H268.9zM402.2 690.2H408.0V696.0H402.2zM268.9 696.0H274.7V701.8H268.9zM367.4 696.0H379.0V701.8H367.4zM332.7 701.8H344.2V707.5H332.7zM286.3 707.5H315.3V713.2H286.3z"/>
<path fill="#cdebf3" d="M187.7 17.5H210.9V23.2H187.7zM181.9 23.2H187.7V29.0H181.9zM205.1 34.8H210.9V40.5H205.1zM205.1 40.5H210.9V46.2H205.1zM176.1 52.0H181.9V57.8H176.1zM170.3 57.8H176.1V63.5H170.3zM228.3 57.8H234.1V63.5H228.3zM158.7 63.5H164.5V69.2H158.7zM239.9 63.5H245.7V69.2H239.9zM147.2 69.2H153.0V75.0H147.2zM245.7 69.2H251.5V75.0H245.7zM135.6 75.0H141.4V80.8H135.6zM118.2 86.5H124.0V92.2H118.2zM257.3 86.5H263.1V92.2H257.3zM106.6 92.2H112.4V98.0H106.6zM263.1 92.2H268.9V98.0H263.1zM100.8 98.0H106.6V103.8H100.8zM268.9 98.0H274.7V103.8H268.9zM95.0 103.8H100.8V109.5H95.0zM280.5 109.5H286.3V115.2H280.5zM83.4 121.0H89.2V126.8H83.4zM77.6 126.8H83.4V132.5H77.6zM280.5 132.5H286.3V138.2H280.5zM280.5 155.5H286.3V161.2H280.5zM286.3 161.2H292.1V167.0H286.3zM297.9 167.0H303.7V172.8H297.9zM355.8 172.8H361.6V178.5H355.8zM361.6 178.5H367.4V184.2H361.6zM367.4 190.0H373.2V195.8H367.4zM106.6 195.8H112.4V201.5H106.6zM367.4 195.8H373.2V201.5H367.4zM367.4 218.8H373.2V224.5H367.4zM147.2 224.5H153.0V230.2H147.2zM373.2 230.2H379.0V236.0H373.2zM379.0 236.0H384.8V241.8H379.0zM460.2 236.0H466.0V241.8H460.2zM384.8 241.8H390.6V247.5H384.8zM460.2 241.8H466.0V247.5H460.2zM176.1 247.5H181.9V253.2H176.1zM390.6 247.5H396.4V253.2H390.6zM396.4 259.0H402.2V264.8H396.4zM402.2 270.5H408.0V276.2H402.2zM431.2 270.5H437.0V276.2H431.2zM413.8 276.2H442.8V282.0H413.8zM419.6 282.0H437.0V287.8H419.6zM425.4 287.8H431.2V293.5H425.4zM425.4 293.5H431.2V299.2H425.4zM251.5 316.5H257.3V322.2H251.5zM268.9 328.0H274.7V333.8H268.9zM448.6 328.0H454.4V333.8H448.6zM454.4 333.8H460.2V339.5H454.4zM460.2 345.2H466.0V351.0H460.2zM297.9 351.0H303.7V356.8H297.9zM460.2 351.0H466.0V356.8H460.2zM303.7 356.8H309.5V362.5H303.7zM466.0 356.8H471.8V362.5H466.0zM309.5 362.5H315.3V368.2H309.5zM477.6 362.5H483.4V368.2H477.6zM483.4 374.0H489.2V379.8H483.4zM483.4 379.8H489.2V385.5H483.4zM338.4 385.5H344.2V391.2H338.4zM483.4 385.5H489.2V391.2H483.4zM483.4 402.8H489.2V408.5H483.4zM703.6 402.8H709.4V408.5H703.6zM489.2 408.5H495.0V414.2H489.2zM697.8 408.5H709.4V414.2H697.8zM495.0 414.2H500.8V420.0H495.0zM697.8 414.2H709.4V420.0H697.8zM703.6 420.0H709.4V425.8H703.6zM703.6 425.8H709.4V431.5H703.6zM703.6 431.5H715.2V437.2H703.6zM552.9 437.2H570.3V443.0H552.9zM703.6 437.2H715.2V443.0H703.6zM396.4 443.0H402.2V448.8H396.4zM523.9 443.0H529.7V448.8H523.9zM541.3 443.0H558.7V448.8H541.3zM564.5 443.0H570.3V448.8H564.5zM512.3 448.8H523.9V454.5H512.3zM564.5 448.8H570.3V454.5H564.5zM402.2 454.5H408.0V460.2H402.2zM564.5 454.5H570.3V460.2H564.5zM564.5 460.2H570.3V466.0H564.5zM408.0 466.0H413.8V471.8H408.0zM564.5 466.0H570.3V471.8H564.5zM564.5 471.8H570.3V477.5H564.5zM564.5 483.2H570.3V489.0H564.5zM425.4 489.0H431.2V494.8H425.4zM576.1 489.0H587.7V494.8H576.1zM599.3 494.8H605.1V500.5H599.3zM605.1 500.5H610.9V506.2H605.1zM645.7 506.2H663.1V512.0H645.7zM610.9 512.0H616.7V517.8H610.9zM639.9 512.0H645.7V517.8H639.9zM663.1 512.0H668.9V517.8H663.1zM616.7 517.8H634.1V523.5H616.7zM663.1 517.8H668.9V523.5H663.1zM442.8 523.5H448.6V529.2H442.8zM668.9 523.5H674.7V529.2H668.9zM587.7 529.2H605.1V535.0H587.7zM668.9 529.2H674.7V535.0H668.9zM605.1 535.0H639.9V540.8H605.1zM454.4 540.8H460.2V546.5H454.4zM576.1 540.8H581.9V546.5H576.1zM639.9 540.8H645.7V546.5H639.9zM703.6 540.8H709.4V546.5H703.6zM460.2 552.2H466.0V558.0H460.2zM570.3 552.2H576.1V558.0H570.3zM651.5 552.2H657.3V558.0H651.5zM738.4 552.2H744.2V558.0H738.4zM755.8 552.2H761.6V558.0H755.8zM570.3 558.0H576.1V563.8H570.3zM587.7 558.0H593.5V563.8H587.7zM668.9 558.0H674.7V563.8H668.9zM732.6 558.0H738.4V563.8H732.6zM570.3 563.8H587.7V569.5H570.3zM674.7 563.8H680.5V569.5H674.7zM703.6 563.8H709.4V569.5H703.6zM732.6 563.8H738.4V569.5H732.6zM761.6 563.8H767.4V569.5H761.6zM460.2 569.5H466.0V575.2H460.2zM570.3 569.5H581.9V575.2H570.3zM697.8 569.5H703.6V575.2H697.8zM738.4 569.5H744.2V575.2H738.4zM755.8 569.5H761.6V575.2H755.8zM570.3 575.2H581.9V581.0H570.3zM692.0 575.2H703.6V581.0H692.0zM454.4 581.0H460.2V586.8H454.4zM564.5 581.0H581.9V586.8H564.5zM610.9 581.0H616.7V586.8H610.9zM692.0 581.0H709.4V586.8H692.0zM448.6 586.8H454.4V592.5H448.6zM558.7 586.8H570.3V592.5H558.7zM576.1 586.8H581.9V592.5H576.1zM605.1 586.8H610.9V592.5H605.1zM697.8 586.8H703.6V592.5H697.8zM442.8 592.5H448.6V598.2H442.8zM564.5 592.5H570.3V598.2H564.5zM581.9 592.5H599.3V598.2H581.9zM570.3 598.2H576.1V604.0H570.3zM431.2 604.0H437.0V609.8H431.2zM570.3 604.0H576.1V609.8H570.3zM425.4 609.8H431.2V615.5H425.4zM570.3 609.8H576.1V615.5H570.3zM419.6 615.5H425.4V621.2H419.6zM523.9 615.5H535.5V621.2H523.9zM570.3 615.5H576.1V621.2H570.3zM402.2 627.0H408.0V632.8H402.2zM535.5 627.0H541.3V632.8H535.5zM512.3 632.8H518.1V638.5H512.3zM547.1 632.8H558.7V638.5H547.1zM373.2 638.5H379.0V644.2H373.2zM355.8 644.2H361.6V650.0H355.8zM344.2 650.0H350.0V655.8H344.2zM332.7 655.8H338.4V661.5H332.7zM489.2 655.8H495.0V661.5H489.2zM321.1 661.5H326.9V667.2H321.1zM477.6 661.5H483.4V667.2H477.6zM315.3 667.2H321.1V673.0H315.3zM303.7 673.0H309.5V678.8H303.7zM454.4 673.0H460.2V678.8H454.4zM286.3 678.8H297.9V684.5H286.3zM442.8 678.8H448.6V684.5H442.8zM274.7 684.5H280.5V690.2H274.7zM408.0 684.5H413.8V690.2H408.0zM396.4 690.2H402.2V696.0H396.4zM355.8 696.0H367.4V701.8H355.8zM274.7 701.8H286.3V707.5H274.7zM326.9 701.8H332.7V707.5H326.9z"/>
<path fill="#c9eaf3" d="M187.7 23.2H193.5V29.0H187.7zM199.3 23.2H210.9V29.0H199.3zM181.9 29.0H187.7V34.8H181.9zM205.1 29.0H210.9V34.8H205.1zM181.9 34.8H187.7V40.5H181.9zM199.3 34.8H205.1V40.5H199.3zM181.9 40.5H187.7V46.2H181.9zM199.3 40.5H205.1V46.2H199.3zM181.9 46.2H187.7V52.0H181.9zM205.1 46.2H210.9V52.0H205.1zM210.9 52.0H216.7V57.8H210.9zM222.5 57.8H228.3V63.5H222.5zM164.5 63.5H170.3V69.2H164.5zM234.1 63.5H239.9V69.2H234.1zM153.0 69.2H158.7V75.0H153.0zM239.9 69.2H245.7V75.0H239.9zM245.7 75.0H251.5V80.8H245.7zM251.5 80.8H257.3V86.5H251.5zM251.5 86.5H257.3V92.2H251.5zM257.3 92.2H263.1V98.0H257.3zM274.7 103.8H280.5V109.5H274.7zM89.2 115.2H95.0V121.0H89.2zM280.5 115.2H286.3V121.0H280.5zM280.5 121.0H286.3V126.8H280.5zM280.5 126.8H286.3V132.5H280.5zM274.7 144.0H280.5V149.8H274.7zM274.7 149.8H280.5V155.5H274.7zM77.6 161.2H83.4V167.0H77.6zM292.1 167.0H297.9V172.8H292.1zM83.4 172.8H89.2V178.5H83.4zM309.5 172.8H321.1V178.5H309.5zM338.4 172.8H355.8V178.5H338.4zM89.2 178.5H95.0V184.2H89.2zM95.0 184.2H100.8V190.0H95.0zM361.6 184.2H367.4V190.0H361.6zM100.8 190.0H106.6V195.8H100.8zM361.6 201.5H367.4V207.2H361.6zM124.0 207.2H129.8V213.0H124.0zM361.6 207.2H367.4V213.0H361.6zM367.4 224.5H373.2V230.2H367.4zM170.3 241.8H176.1V247.5H170.3zM390.6 253.2H396.4V259.0H390.6zM396.4 264.8H402.2V270.5H396.4zM396.4 270.5H402.2V276.2H396.4zM402.2 276.2H413.8V282.0H402.2zM408.0 282.0H419.6V287.8H408.0zM222.5 287.8H228.3V293.5H222.5zM413.8 287.8H425.4V293.5H413.8zM228.3 293.5H234.1V299.2H228.3zM419.6 293.5H425.4V299.2H419.6zM234.1 299.2H239.9V305.0H234.1zM425.4 299.2H431.2V305.0H425.4zM239.9 305.0H245.7V310.8H239.9zM245.7 310.8H251.5V316.5H245.7zM431.2 310.8H437.0V316.5H431.2zM437.0 322.2H442.8V328.0H437.0zM292.1 345.2H297.9V351.0H292.1zM460.2 356.8H466.0V362.5H460.2zM460.2 362.5H477.6V368.2H460.2zM477.6 368.2H483.4V374.0H477.6zM326.9 374.0H332.7V379.8H326.9zM332.7 379.8H338.4V385.5H332.7zM477.6 391.2H483.4V397.0H477.6zM477.6 397.0H483.4V402.8H477.6zM477.6 402.8H483.4V408.5H477.6zM483.4 408.5H489.2V414.2H483.4zM495.0 420.0H500.8V425.8H495.0zM500.8 431.5H506.6V437.2H500.8zM506.6 443.0H512.3V448.8H506.6zM529.7 443.0H541.3V448.8H529.7zM558.7 443.0H564.5V448.8H558.7zM523.9 448.8H529.7V454.5H523.9zM552.9 448.8H564.5V454.5H552.9zM512.3 454.5H523.9V460.2H512.3zM558.7 454.5H564.5V460.2H558.7zM413.8 471.8H419.6V477.5H413.8zM419.6 477.5H425.4V483.2H419.6zM558.7 483.2H564.5V489.0H558.7zM564.5 489.0H576.1V494.8H564.5zM587.7 494.8H599.3V500.5H587.7zM431.2 500.5H437.0V506.2H431.2zM599.3 500.5H605.1V506.2H599.3zM605.1 506.2H610.9V512.0H605.1zM437.0 512.0H442.8V517.8H437.0zM605.1 512.0H610.9V517.8H605.1zM645.7 512.0H663.1V517.8H645.7zM605.1 517.8H616.7V523.5H605.1zM634.1 517.8H663.1V523.5H634.1zM593.5 523.5H651.5V529.2H593.5zM663.1 523.5H668.9V529.2H663.1zM448.6 529.2H454.4V535.0H448.6zM581.9 529.2H587.7V535.0H581.9zM605.1 529.2H645.7V535.0H605.1zM663.1 529.2H668.9V535.0H663.1zM576.1 535.0H581.9V540.8H576.1zM639.9 535.0H651.5V540.8H639.9zM668.9 535.0H686.3V540.8H668.9zM692.0 535.0H703.6V540.8H692.0zM645.7 540.8H651.5V546.5H645.7zM668.9 540.8H674.7V546.5H668.9zM570.3 546.5H576.1V552.2H570.3zM645.7 546.5H657.3V552.2H645.7zM663.1 546.5H668.9V552.2H663.1zM703.6 546.5H709.4V552.2H703.6zM657.3 552.2H674.7V558.0H657.3zM703.6 552.2H709.4V558.0H703.6zM744.2 552.2H755.8V558.0H744.2zM593.5 558.0H610.9V563.8H593.5zM674.7 558.0H680.5V563.8H674.7zM703.6 558.0H709.4V563.8H703.6zM738.4 558.0H744.2V563.8H738.4zM755.8 558.0H761.6V563.8H755.8zM587.7 563.8H593.5V569.5H587.7zM610.9 563.8H616.7V569.5H610.9zM680.5 563.8H686.3V569.5H680.5zM697.8 563.8H703.6V569.5H697.8zM738.4 563.8H744.2V569.5H738.4zM755.8 563.8H761.6V569.5H755.8zM564.5 569.5H570.3V575.2H564.5zM581.9 569.5H587.7V575.2H581.9zM610.9 569.5H616.7V575.2H610.9zM686.3 569.5H697.8V575.2H686.3zM744.2 569.5H755.8V575.2H744.2zM460.2 575.2H466.0V581.0H460.2zM564.5 575.2H570.3V581.0H564.5zM581.9 575.2H587.7V581.0H581.9zM610.9 575.2H616.7V581.0H610.9zM558.7 581.0H564.5V586.8H558.7zM581.9 581.0H587.7V586.8H581.9zM552.9 586.8H558.7V592.5H552.9zM581.9 586.8H593.5V592.5H581.9zM599.3 586.8H605.1V592.5H599.3zM552.9 592.5H564.5V598.2H552.9zM437.0 598.2H442.8V604.0H437.0zM558.7 598.2H570.3V604.0H558.7zM535.5 604.0H541.3V609.8H535.5zM529.7 609.8H541.3V615.5H529.7zM535.5 615.5H541.3V621.2H535.5zM413.8 621.2H419.6V627.0H413.8zM518.1 621.2H523.9V627.0H518.1zM535.5 621.2H541.3V627.0H535.5zM564.5 621.2H570.3V627.0H564.5zM541.3 627.0H547.1V632.8H541.3zM558.7 627.0H564.5V632.8H558.7zM390.6 632.8H396.4V638.5H390.6zM379.0 638.5H384.8V644.2H379.0zM506.6 638.5H512.3V644.2H506.6zM361.6 644.2H367.4V650.0H361.6zM500.8 644.2H506.6V650.0H500.8zM495.0 650.0H500.8V655.8H495.0zM483.4 655.8H489.2V661.5H483.4zM326.9 661.5H332.7V667.2H326.9zM471.8 661.5H477.6V667.2H471.8zM460.2 667.2H466.0V673.0H460.2zM309.5 673.0H315.3V678.8H309.5zM448.6 673.0H454.4V678.8H448.6zM297.9 678.8H303.7V684.5H297.9zM425.4 678.8H442.8V684.5H425.4zM280.5 684.5H292.1V690.2H280.5zM274.7 690.2H280.5V696.0H274.7zM384.8 690.2H396.4V696.0H384.8zM274.7 696.0H280.5V701.8H274.7zM344.2 696.0H355.8V701.8H344.2zM286.3 701.8H297.9V707.5H286.3zM309.5 701.8H326.9V707.5H309.5z"/>
<path fill="#c5e9f2" d="M193.5 23.2H199.3V29.0H193.5zM187.7 29.0H205.1V34.8H187.7zM187.7 34.8H199.3V40.5H187.7zM187.7 40.5H199.3V46.2H187.7zM187.7 46.2H205.1V52.0H187.7zM181.9 52.0H187.7V57.8H181.9zM205.1 52.0H210.9V57.8H205.1zM176.1 57.8H181.9V63.5H176.1zM216.7 57.8H222.5V63.5H216.7zM170.3 63.5H176.1V69.2H170.3zM228.3 63.5H234.1V69.2H228.3zM158.7 69.2H164.5V75.0H158.7zM141.4 75.0H147.2V80.8H141.4zM239.9 75.0H245.7V80.8H239.9zM129.8 80.8H135.6V86.5H129.8zM245.7 80.8H251.5V86.5H245.7zM124.0 86.5H129.8V92.2H124.0zM239.9 86.5H251.5V92.2H239.9zM112.4 92.2H118.2V98.0H112.4zM222.5 92.2H257.3V98.0H222.5zM222.5 98.0H251.5V103.8H222.5zM257.3 98.0H268.9V103.8H257.3zM268.9 103.8H274.7V109.5H268.9zM95.0 109.5H100.8V115.2H95.0zM274.7 109.5H280.5V115.2H274.7zM77.6 132.5H83.4V138.2H77.6zM274.7 138.2H280.5V144.0H274.7zM303.7 172.8H309.5V178.5H303.7zM321.1 172.8H338.4V178.5H321.1zM350.0 178.5H361.6V184.2H350.0zM361.6 190.0H367.4V195.8H361.6zM361.6 195.8H367.4V201.5H361.6zM118.2 201.5H124.0V207.2H118.2zM361.6 213.0H367.4V218.8H361.6zM141.4 218.8H147.2V224.5H141.4zM164.5 236.0H170.3V241.8H164.5zM373.2 236.0H379.0V241.8H373.2zM379.0 241.8H384.8V247.5H379.0zM384.8 247.5H390.6V253.2H384.8zM390.6 259.0H396.4V264.8H390.6zM199.3 264.8H205.1V270.5H199.3zM205.1 270.5H210.9V276.2H205.1zM210.9 276.2H216.7V282.0H210.9zM396.4 276.2H402.2V282.0H396.4zM216.7 282.0H222.5V287.8H216.7zM402.2 282.0H408.0V287.8H402.2zM408.0 287.8H413.8V293.5H408.0zM425.4 305.0H431.2V310.8H425.4zM431.2 316.5H437.0V322.2H431.2zM263.1 322.2H268.9V328.0H263.1zM442.8 328.0H448.6V333.8H442.8zM280.5 333.8H286.3V339.5H280.5zM448.6 333.8H454.4V339.5H448.6zM286.3 339.5H292.1V345.2H286.3zM454.4 339.5H460.2V345.2H454.4zM321.1 368.2H326.9V374.0H321.1zM460.2 368.2H477.6V374.0H460.2zM477.6 374.0H483.4V379.8H477.6zM477.6 379.8H483.4V385.5H477.6zM477.6 385.5H483.4V391.2H477.6zM471.8 391.2H477.6V397.0H471.8zM355.8 397.0H361.6V402.8H355.8zM466.0 397.0H477.6V402.8H466.0zM361.6 402.8H367.4V408.5H361.6zM471.8 402.8H477.6V408.5H471.8zM367.4 408.5H373.2V414.2H367.4zM373.2 414.2H379.0V420.0H373.2zM489.2 414.2H495.0V420.0H489.2zM379.0 420.0H384.8V425.8H379.0zM384.8 425.8H390.6V431.5H384.8zM495.0 425.8H500.8V431.5H495.0zM390.6 431.5H396.4V437.2H390.6zM396.4 437.2H402.2V443.0H396.4zM500.8 437.2H506.6V443.0H500.8zM402.2 448.8H408.0V454.5H402.2zM506.6 448.8H512.3V454.5H506.6zM529.7 448.8H552.9V454.5H529.7zM523.9 454.5H529.7V460.2H523.9zM552.9 454.5H558.7V460.2H552.9zM408.0 460.2H413.8V466.0H408.0zM512.3 460.2H523.9V466.0H512.3zM558.7 460.2H564.5V466.0H558.7zM558.7 466.0H564.5V471.8H558.7zM558.7 471.8H564.5V477.5H558.7zM558.7 477.5H564.5V483.2H558.7zM425.4 483.2H431.2V489.0H425.4zM558.7 489.0H564.5V494.8H558.7zM431.2 494.8H437.0V500.5H431.2zM558.7 494.8H587.7V500.5H558.7zM593.5 500.5H599.3V506.2H593.5zM599.3 506.2H605.1V512.0H599.3zM599.3 512.0H605.1V517.8H599.3zM442.8 517.8H448.6V523.5H442.8zM593.5 517.8H605.1V523.5H593.5zM581.9 523.5H593.5V529.2H581.9zM651.5 523.5H663.1V529.2H651.5zM576.1 529.2H581.9V535.0H576.1zM645.7 529.2H663.1V535.0H645.7zM454.4 535.0H460.2V540.8H454.4zM651.5 535.0H668.9V540.8H651.5zM686.3 535.0H692.0V540.8H686.3zM570.3 540.8H576.1V546.5H570.3zM651.5 540.8H668.9V546.5H651.5zM674.7 540.8H680.5V546.5H674.7zM697.8 540.8H703.6V546.5H697.8zM460.2 546.5H466.0V552.2H460.2zM657.3 546.5H663.1V552.2H657.3zM668.9 546.5H680.5V552.2H668.9zM564.5 552.2H570.3V558.0H564.5zM674.7 552.2H680.5V558.0H674.7zM564.5 558.0H570.3V563.8H564.5zM744.2 558.0H755.8V563.8H744.2zM564.5 563.8H570.3V569.5H564.5zM593.5 563.8H599.3V569.5H593.5zM605.1 563.8H610.9V569.5H605.1zM686.3 563.8H697.8V569.5H686.3zM744.2 563.8H755.8V569.5H744.2zM558.7 569.5H564.5V575.2H558.7zM587.7 569.5H593.5V575.2H587.7zM558.7 575.2H564.5V581.0H558.7zM460.2 581.0H466.0V586.8H460.2zM552.9 581.0H558.7V586.8H552.9zM587.7 581.0H593.5V586.8H587.7zM605.1 581.0H610.9V586.8H605.1zM454.4 586.8H460.2V592.5H454.4zM593.5 586.8H599.3V592.5H593.5zM448.6 592.5H454.4V598.2H448.6zM547.1 592.5H552.9V598.2H547.1zM541.3 598.2H558.7V604.0H541.3zM529.7 604.0H535.5V609.8H529.7zM541.3 604.0H552.9V609.8H541.3zM558.7 604.0H570.3V609.8H558.7zM431.2 609.8H437.0V615.5H431.2zM523.9 609.8H529.7V615.5H523.9zM541.3 609.8H547.1V615.5H541.3zM564.5 609.8H570.3V615.5H564.5zM425.4 615.5H431.2V621.2H425.4zM518.1 615.5H523.9V621.2H518.1zM541.3 615.5H547.1V621.2H541.3zM564.5 615.5H570.3V621.2H564.5zM541.3 621.2H547.1V627.0H541.3zM408.0 627.0H413.8V632.8H408.0zM512.3 627.0H518.1V632.8H512.3zM547.1 627.0H558.7V632.8H547.1zM396.4 632.8H402.2V638.5H396.4zM384.8 638.5H390.6V644.2H384.8zM367.4 644.2H373.2V650.0H367.4zM350.0 650.0H355.8V655.8H350.0zM338.4 655.8H344.2V661.5H338.4zM477.6 655.8H483.4V661.5H477.6zM466.0 661.5H471.8V667.2H466.0zM321.1 667.2H326.9V673.0H321.1zM454.4 667.2H460.2V673.0H454.4zM315.3 673.0H321.1V678.8H315.3zM303.7 678.8H309.5V684.5H303.7zM413.8 678.8H425.4V684.5H413.8zM292.1 684.5H297.9V690.2H292.1zM402.2 684.5H408.0V690.2H402.2zM280.5 690.2H292.1V696.0H280.5zM367.4 690.2H384.8V696.0H367.4zM280.5 696.0H292.1V701.8H280.5zM332.7 696.0H344.2V701.8H332.7zM297.9 701.8H309.5V707.5H297.9z"/>
<path fill="#c1e8f2" d="M187.7 52.0H193.5V57.8H187.7zM199.3 52.0H205.1V57.8H199.3zM181.9 57.8H187.7V63.5H181.9zM210.9 57.8H216.7V63.5H210.9zM176.1 63.5H181.9V69.2H176.1zM222.5 63.5H228.3V69.2H222.5zM234.1 69.2H239.9V75.0H234.1zM147.2 75.0H153.0V80.8H147.2zM239.9 80.8H245.7V86.5H239.9zM228.3 86.5H239.9V92.2H228.3zM118.2 92.2H124.0V98.0H118.2zM210.9 92.2H222.5V98.0H210.9zM106.6 98.0H112.4V103.8H106.6zM210.9 98.0H222.5V103.8H210.9zM251.5 98.0H257.3V103.8H251.5zM100.8 103.8H106.6V109.5H100.8zM222.5 103.8H245.7V109.5H222.5zM89.2 121.0H95.0V126.8H89.2zM83.4 126.8H89.2V132.5H83.4zM274.7 132.5H280.5V138.2H274.7zM77.6 138.2H83.4V144.0H77.6zM268.9 144.0H274.7V149.8H268.9zM268.9 149.8H274.7V155.5H268.9zM77.6 155.5H83.4V161.2H77.6zM274.7 155.5H280.5V161.2H274.7zM280.5 161.2H286.3V167.0H280.5zM286.3 167.0H292.1V172.8H286.3zM297.9 172.8H303.7V178.5H297.9zM344.2 178.5H350.0V184.2H344.2zM350.0 184.2H361.6V190.0H350.0zM355.8 190.0H361.6V195.8H355.8zM355.8 195.8H361.6V201.5H355.8zM355.8 201.5H361.6V207.2H355.8zM355.8 207.2H361.6V213.0H355.8zM361.6 218.8H367.4V224.5H361.6zM158.7 230.2H164.5V236.0H158.7zM367.4 230.2H373.2V236.0H367.4zM384.8 253.2H390.6V259.0H384.8zM193.5 259.0H199.3V264.8H193.5zM390.6 264.8H396.4V270.5H390.6zM390.6 270.5H396.4V276.2H390.6zM396.4 282.0H402.2V287.8H396.4zM402.2 287.8H408.0V293.5H402.2zM408.0 293.5H419.6V299.2H408.0zM419.6 299.2H425.4V305.0H419.6zM425.4 310.8H431.2V316.5H425.4zM257.3 316.5H263.1V322.2H257.3zM274.7 328.0H280.5V333.8H274.7zM454.4 345.2H460.2V351.0H454.4zM454.4 351.0H460.2V356.8H454.4zM309.5 356.8H315.3V362.5H309.5zM454.4 356.8H460.2V362.5H454.4zM315.3 362.5H321.1V368.2H315.3zM454.4 362.5H460.2V368.2H454.4zM454.4 368.2H460.2V374.0H454.4zM454.4 374.0H477.6V379.8H454.4zM454.4 379.8H466.0V385.5H454.4zM471.8 379.8H477.6V385.5H471.8zM344.2 385.5H350.0V391.2H344.2zM454.4 385.5H477.6V391.2H454.4zM350.0 391.2H355.8V397.0H350.0zM460.2 391.2H471.8V397.0H460.2zM466.0 402.8H471.8V408.5H466.0zM477.6 408.5H483.4V414.2H477.6zM483.4 414.2H489.2V420.0H483.4zM489.2 420.0H495.0V425.8H489.2zM547.1 454.5H552.9V460.2H547.1zM523.9 460.2H529.7V466.0H523.9zM552.9 460.2H558.7V466.0H552.9zM512.3 466.0H523.9V471.8H512.3zM518.1 471.8H523.9V477.5H518.1zM552.9 483.2H558.7V489.0H552.9zM552.9 489.0H558.7V494.8H552.9zM552.9 494.8H558.7V500.5H552.9zM558.7 500.5H570.3V506.2H558.7zM581.9 500.5H593.5V506.2H581.9zM437.0 506.2H442.8V512.0H437.0zM593.5 506.2H599.3V512.0H593.5zM593.5 512.0H599.3V517.8H593.5zM587.7 517.8H593.5V523.5H587.7zM448.6 523.5H454.4V529.2H448.6zM576.1 523.5H581.9V529.2H576.1zM570.3 535.0H576.1V540.8H570.3zM680.5 540.8H697.8V546.5H680.5zM564.5 546.5H570.3V552.2H564.5zM697.8 546.5H703.6V552.2H697.8zM697.8 552.2H703.6V558.0H697.8zM466.0 558.0H471.8V563.8H466.0zM558.7 558.0H564.5V563.8H558.7zM680.5 558.0H686.3V563.8H680.5zM697.8 558.0H703.6V563.8H697.8zM466.0 563.8H471.8V569.5H466.0zM558.7 563.8H564.5V569.5H558.7zM599.3 563.8H605.1V569.5H599.3zM466.0 569.5H471.8V575.2H466.0zM552.9 569.5H558.7V575.2H552.9zM593.5 569.5H610.9V575.2H593.5zM552.9 575.2H558.7V581.0H552.9zM587.7 575.2H599.3V581.0H587.7zM605.1 575.2H610.9V581.0H605.1zM593.5 581.0H605.1V586.8H593.5zM547.1 586.8H552.9V592.5H547.1zM541.3 592.5H547.1V598.2H541.3zM442.8 598.2H448.6V604.0H442.8zM535.5 598.2H541.3V604.0H535.5zM437.0 604.0H442.8V609.8H437.0zM552.9 604.0H558.7V609.8H552.9zM547.1 609.8H564.5V615.5H547.1zM547.1 615.5H552.9V621.2H547.1zM558.7 615.5H564.5V621.2H558.7zM419.6 621.2H425.4V627.0H419.6zM512.3 621.2H518.1V627.0H512.3zM547.1 621.2H564.5V627.0H547.1zM413.8 627.0H419.6V632.8H413.8zM402.2 632.8H408.0V638.5H402.2zM506.6 632.8H512.3V638.5H506.6zM390.6 638.5H396.4V644.2H390.6zM500.8 638.5H506.6V644.2H500.8zM373.2 644.2H379.0V650.0H373.2zM495.0 644.2H500.8V650.0H495.0zM355.8 650.0H361.6V655.8H355.8zM489.2 650.0H495.0V655.8H489.2zM344.2 655.8H350.0V661.5H344.2zM332.7 661.5H338.4V667.2H332.7zM460.2 661.5H466.0V667.2H460.2zM442.8 673.0H448.6V678.8H442.8zM309.5 678.8H315.3V684.5H309.5zM408.0 678.8H413.8V684.5H408.0zM297.9 684.5H309.5V690.2H297.9zM396.4 684.5H402.2V690.2H396.4zM292.1 690.2H303.7V696.0H292.1zM355.8 690.2H367.4V696.0H355.8zM292.1 696.0H332.7V701.8H292.1z"/>
<path fill="#bee6f1" d="M193.5 52.0H199.3V57.8H193.5zM187.7 57.8H193.5V63.5H187.7zM205.1 57.8H210.9V63.5H205.1zM181.9 63.5H187.7V69.2H181.9zM216.7 63.5H222.5V69.2H216.7zM164.5 69.2H176.1V75.0H164.5zM228.3 69.2H234.1V75.0H228.3zM153.0 75.0H158.7V80.8H153.0zM234.1 75.0H239.9V80.8H234.1zM135.6 80.8H141.4V86.5H135.6zM228.3 80.8H239.9V86.5H228.3zM210.9 86.5H228.3V92.2H210.9zM205.1 92.2H210.9V98.0H205.1zM216.7 103.8H222.5V109.5H216.7zM245.7 103.8H268.9V109.5H245.7zM228.3 109.5H239.9V115.2H228.3zM268.9 109.5H274.7V115.2H268.9zM95.0 115.2H100.8V121.0H95.0zM274.7 115.2H280.5V121.0H274.7zM274.7 121.0H280.5V126.8H274.7zM274.7 126.8H280.5V132.5H274.7zM268.9 138.2H274.7V144.0H268.9zM77.6 144.0H83.4V149.8H77.6zM77.6 149.8H83.4V155.5H77.6zM83.4 167.0H89.2V172.8H83.4zM292.1 172.8H297.9V178.5H292.1zM332.7 178.5H344.2V184.2H332.7zM344.2 184.2H350.0V190.0H344.2zM350.0 190.0H355.8V195.8H350.0zM112.4 195.8H118.2V201.5H112.4zM350.0 195.8H355.8V201.5H350.0zM350.0 201.5H355.8V207.2H350.0zM350.0 207.2H355.8V213.0H350.0zM135.6 213.0H141.4V218.8H135.6zM355.8 213.0H361.6V218.8H355.8zM361.6 224.5H367.4V230.2H361.6zM373.2 241.8H379.0V247.5H373.2zM379.0 247.5H384.8V253.2H379.0zM187.7 253.2H193.5V259.0H187.7zM384.8 259.0H390.6V264.8H384.8zM390.6 276.2H396.4V282.0H390.6zM390.6 282.0H396.4V287.8H390.6zM396.4 287.8H402.2V293.5H396.4zM402.2 293.5H408.0V299.2H402.2zM413.8 299.2H419.6V305.0H413.8zM419.6 305.0H425.4V310.8H419.6zM251.5 310.8H257.3V316.5H251.5zM268.9 322.2H274.7V328.0H268.9zM431.2 322.2H437.0V328.0H431.2zM437.0 328.0H442.8V333.8H437.0zM448.6 339.5H454.4V345.2H448.6zM297.9 345.2H303.7V351.0H297.9zM303.7 351.0H309.5V356.8H303.7zM332.7 374.0H338.4V379.8H332.7zM448.6 374.0H454.4V379.8H448.6zM338.4 379.8H344.2V385.5H338.4zM448.6 379.8H454.4V385.5H448.6zM466.0 379.8H471.8V385.5H466.0zM454.4 391.2H460.2V397.0H454.4zM460.2 397.0H466.0V402.8H460.2zM471.8 408.5H477.6V414.2H471.8zM495.0 431.5H500.8V437.2H495.0zM402.2 443.0H408.0V448.8H402.2zM500.8 443.0H506.6V448.8H500.8zM408.0 454.5H413.8V460.2H408.0zM506.6 454.5H512.3V460.2H506.6zM529.7 454.5H547.1V460.2H529.7zM547.1 460.2H552.9V466.0H547.1zM413.8 466.0H419.6V471.8H413.8zM523.9 466.0H529.7V471.8H523.9zM552.9 466.0H558.7V471.8H552.9zM419.6 471.8H425.4V477.5H419.6zM523.9 471.8H529.7V477.5H523.9zM552.9 471.8H558.7V477.5H552.9zM425.4 477.5H431.2V483.2H425.4zM518.1 477.5H523.9V483.2H518.1zM552.9 477.5H558.7V483.2H552.9zM431.2 489.0H437.0V494.8H431.2zM547.1 494.8H552.9V500.5H547.1zM547.1 500.5H558.7V506.2H547.1zM570.3 500.5H581.9V506.2H570.3zM547.1 506.2H593.5V512.0H547.1zM581.9 512.0H593.5V517.8H581.9zM576.1 517.8H587.7V523.5H576.1zM570.3 523.5H576.1V529.2H570.3zM454.4 529.2H460.2V535.0H454.4zM570.3 529.2H576.1V535.0H570.3zM460.2 540.8H466.0V546.5H460.2zM564.5 540.8H570.3V546.5H564.5zM558.7 546.5H564.5V552.2H558.7zM680.5 546.5H686.3V552.2H680.5zM692.0 546.5H697.8V552.2H692.0zM466.0 552.2H471.8V558.0H466.0zM552.9 552.2H564.5V558.0H552.9zM680.5 552.2H686.3V558.0H680.5zM547.1 558.0H558.7V563.8H547.1zM686.3 558.0H697.8V563.8H686.3zM547.1 563.8H558.7V569.5H547.1zM547.1 569.5H552.9V575.2H547.1zM466.0 575.2H471.8V581.0H466.0zM547.1 575.2H552.9V581.0H547.1zM599.3 575.2H605.1V581.0H599.3zM547.1 581.0H552.9V586.8H547.1zM460.2 586.8H466.0V592.5H460.2zM541.3 586.8H547.1V592.5H541.3zM454.4 592.5H460.2V598.2H454.4zM535.5 592.5H541.3V598.2H535.5zM529.7 598.2H535.5V604.0H529.7zM523.9 604.0H529.7V609.8H523.9zM518.1 609.8H523.9V615.5H518.1zM431.2 615.5H437.0V621.2H431.2zM552.9 615.5H558.7V621.2H552.9zM425.4 621.2H431.2V627.0H425.4zM506.6 627.0H512.3V632.8H506.6zM408.0 632.8H413.8V638.5H408.0zM396.4 638.5H402.2V644.2H396.4zM379.0 644.2H384.8V650.0H379.0zM361.6 650.0H367.4V655.8H361.6zM483.4 650.0H489.2V655.8H483.4zM471.8 655.8H477.6V661.5H471.8zM326.9 667.2H332.7V673.0H326.9zM448.6 667.2H454.4V673.0H448.6zM321.1 673.0H326.9V678.8H321.1zM425.4 673.0H442.8V678.8H425.4zM315.3 678.8H321.1V684.5H315.3zM402.2 678.8H408.0V684.5H402.2zM309.5 684.5H315.3V690.2H309.5zM390.6 684.5H396.4V690.2H390.6zM303.7 690.2H326.9V696.0H303.7zM344.2 690.2H355.8V696.0H344.2z"/>
<path fill="#b9e5f1" d="M193.5 57.8H205.1V63.5H193.5zM187.7 63.5H193.5V69.2H187.7zM205.1 63.5H216.7V69.2H205.1zM176.1 69.2H187.7V75.0H176.1zM216.7 69.2H228.3V75.0H216.7zM158.7 75.0H164.5V80.8H158.7zM222.5 75.0H234.1V80.8H222.5zM141.4 80.8H147.2V86.5H141.4zM216.7 80.8H228.3V86.5H216.7zM129.8 86.5H135.6V92.2H129.8zM199.3 86.5H210.9V92.2H199.3zM124.0 92.2H129.8V98.0H124.0zM199.3 92.2H205.1V98.0H199.3zM112.4 98.0H118.2V103.8H112.4zM205.1 98.0H210.9V103.8H205.1zM210.9 103.8H216.7V109.5H210.9zM100.8 109.5H106.6V115.2H100.8zM222.5 109.5H228.3V115.2H222.5zM239.9 109.5H251.5V115.2H239.9zM263.1 109.5H268.9V115.2H263.1zM263.1 144.0H268.9V149.8H263.1zM263.1 149.8H268.9V155.5H263.1zM268.9 155.5H274.7V161.2H268.9zM274.7 161.2H280.5V167.0H274.7zM280.5 167.0H286.3V172.8H280.5zM89.2 172.8H95.0V178.5H89.2zM303.7 178.5H332.7V184.2H303.7zM100.8 184.2H106.6V190.0H100.8zM338.4 184.2H344.2V190.0H338.4zM106.6 190.0H112.4V195.8H106.6zM344.2 190.0H350.0V195.8H344.2zM344.2 195.8H350.0V201.5H344.2zM344.2 201.5H350.0V207.2H344.2zM129.8 207.2H135.6V213.0H129.8zM344.2 207.2H350.0V213.0H344.2zM350.0 213.0H355.8V218.8H350.0zM355.8 218.8H361.6V224.5H355.8zM153.0 224.5H158.7V230.2H153.0zM367.4 236.0H373.2V241.8H367.4zM181.9 247.5H187.7V253.2H181.9zM379.0 253.2H384.8V259.0H379.0zM384.8 264.8H390.6V270.5H384.8zM228.3 287.8H234.1V293.5H228.3zM390.6 287.8H396.4V293.5H390.6zM234.1 293.5H239.9V299.2H234.1zM239.9 299.2H245.7V305.0H239.9zM408.0 299.2H413.8V305.0H408.0zM245.7 305.0H251.5V310.8H245.7zM425.4 316.5H431.2V322.2H425.4zM286.3 333.8H292.1V339.5H286.3zM442.8 333.8H448.6V339.5H442.8zM292.1 339.5H297.9V345.2H292.1zM326.9 368.2H332.7V374.0H326.9zM448.6 368.2H454.4V374.0H448.6zM448.6 385.5H454.4V391.2H448.6zM477.6 414.2H483.4V420.0H477.6zM489.2 425.8H495.0V431.5H489.2zM495.0 437.2H500.8V443.0H495.0zM506.6 460.2H512.3V466.0H506.6zM529.7 460.2H547.1V466.0H529.7zM529.7 466.0H535.5V471.8H529.7zM547.1 466.0H552.9V471.8H547.1zM512.3 471.8H518.1V477.5H512.3zM523.9 477.5H529.7V483.2H523.9zM518.1 483.2H529.7V489.0H518.1zM547.1 483.2H552.9V489.0H547.1zM523.9 489.0H529.7V494.8H523.9zM547.1 489.0H552.9V494.8H547.1zM535.5 494.8H547.1V500.5H535.5zM437.0 500.5H442.8V506.2H437.0zM535.5 500.5H547.1V506.2H535.5zM535.5 506.2H547.1V512.0H535.5zM442.8 512.0H448.6V517.8H442.8zM535.5 512.0H581.9V517.8H535.5zM564.5 517.8H576.1V523.5H564.5zM564.5 523.5H570.3V529.2H564.5zM564.5 529.2H570.3V535.0H564.5zM460.2 535.0H466.0V540.8H460.2zM564.5 535.0H570.3V540.8H564.5zM558.7 540.8H564.5V546.5H558.7zM552.9 546.5H558.7V552.2H552.9zM686.3 546.5H692.0V552.2H686.3zM541.3 552.2H552.9V558.0H541.3zM686.3 552.2H697.8V558.0H686.3zM541.3 558.0H547.1V563.8H541.3zM541.3 563.8H547.1V569.5H541.3zM541.3 569.5H547.1V575.2H541.3zM541.3 575.2H547.1V581.0H541.3zM466.0 581.0H471.8V586.8H466.0zM541.3 581.0H547.1V586.8H541.3zM448.6 598.2H454.4V604.0H448.6zM442.8 604.0H448.6V609.8H442.8zM437.0 609.8H442.8V615.5H437.0zM512.3 615.5H518.1V621.2H512.3zM419.6 627.0H425.4V632.8H419.6zM500.8 632.8H506.6V638.5H500.8zM402.2 638.5H408.0V644.2H402.2zM495.0 638.5H500.8V644.2H495.0zM384.8 644.2H390.6V650.0H384.8zM489.2 644.2H495.0V650.0H489.2zM367.4 650.0H373.2V655.8H367.4zM477.6 650.0H483.4V655.8H477.6zM350.0 655.8H355.8V661.5H350.0zM466.0 655.8H471.8V661.5H466.0zM338.4 661.5H344.2V667.2H338.4zM454.4 661.5H460.2V667.2H454.4zM332.7 667.2H338.4V673.0H332.7zM442.8 667.2H448.6V673.0H442.8zM326.9 673.0H332.7V678.8H326.9zM413.8 673.0H425.4V678.8H413.8zM321.1 678.8H326.9V684.5H321.1zM315.3 684.5H326.9V690.2H315.3zM367.4 684.5H390.6V690.2H367.4zM326.9 690.2H344.2V696.0H326.9z"/>
<path fill="#b4e4f0" d="M193.5 63.5H205.1V69.2H193.5zM187.7 69.2H216.7V75.0H187.7zM164.5 75.0H222.5V80.8H164.5zM147.2 80.8H153.0V86.5H147.2zM187.7 80.8H216.7V86.5H187.7zM135.6 86.5H141.4V92.2H135.6zM193.5 86.5H199.3V92.2H193.5zM193.5 92.2H199.3V98.0H193.5zM199.3 98.0H205.1V103.8H199.3zM106.6 103.8H112.4V109.5H106.6zM216.7 109.5H222.5V115.2H216.7zM251.5 109.5H263.1V115.2H251.5zM228.3 115.2H245.7V121.0H228.3zM268.9 115.2H274.7V121.0H268.9zM268.9 121.0H274.7V126.8H268.9zM268.9 126.8H274.7V132.5H268.9zM83.4 132.5H89.2V138.2H83.4zM268.9 132.5H274.7V138.2H268.9zM263.1 138.2H268.9V144.0H263.1zM83.4 161.2H89.2V167.0H83.4zM286.3 172.8H292.1V178.5H286.3zM95.0 178.5H100.8V184.2H95.0zM297.9 178.5H303.7V184.2H297.9zM332.7 184.2H338.4V190.0H332.7zM338.4 190.0H344.2V195.8H338.4zM344.2 213.0H350.0V218.8H344.2zM147.2 218.8H153.0V224.5H147.2zM361.6 230.2H367.4V236.0H361.6zM176.1 241.8H181.9V247.5H176.1zM373.2 247.5H379.0V253.2H373.2zM379.0 259.0H384.8V264.8H379.0zM210.9 270.5H216.7V276.2H210.9zM384.8 270.5H390.6V276.2H384.8zM216.7 276.2H222.5V282.0H216.7zM384.8 276.2H390.6V282.0H384.8zM222.5 282.0H228.3V287.8H222.5zM396.4 293.5H402.2V299.2H396.4zM413.8 305.0H419.6V310.8H413.8zM419.6 310.8H425.4V316.5H419.6zM263.1 316.5H268.9V322.2H263.1zM280.5 328.0H286.3V333.8H280.5zM448.6 345.2H454.4V351.0H448.6zM448.6 351.0H454.4V356.8H448.6zM448.6 356.8H454.4V362.5H448.6zM321.1 362.5H326.9V368.2H321.1zM448.6 362.5H454.4V368.2H448.6zM355.8 391.2H361.6V397.0H355.8zM361.6 397.0H367.4V402.8H361.6zM454.4 397.0H460.2V402.8H454.4zM367.4 402.8H373.2V408.5H367.4zM460.2 402.8H466.0V408.5H460.2zM373.2 408.5H379.0V414.2H373.2zM466.0 408.5H471.8V414.2H466.0zM379.0 414.2H384.8V420.0H379.0zM384.8 420.0H390.6V425.8H384.8zM483.4 420.0H489.2V425.8H483.4zM390.6 425.8H396.4V431.5H390.6zM396.4 431.5H402.2V437.2H396.4zM408.0 448.8H413.8V454.5H408.0zM500.8 448.8H506.6V454.5H500.8zM413.8 460.2H419.6V466.0H413.8zM535.5 466.0H547.1V471.8H535.5zM529.7 471.8H535.5V477.5H529.7zM547.1 471.8H552.9V477.5H547.1zM512.3 477.5H518.1V483.2H512.3zM529.7 477.5H535.5V483.2H529.7zM547.1 477.5H552.9V483.2H547.1zM431.2 483.2H437.0V489.0H431.2zM529.7 483.2H547.1V489.0H529.7zM529.7 489.0H547.1V494.8H529.7zM437.0 494.8H442.8V500.5H437.0zM523.9 494.8H535.5V500.5H523.9zM529.7 500.5H535.5V506.2H529.7zM529.7 506.2H535.5V512.0H529.7zM529.7 512.0H535.5V517.8H529.7zM448.6 517.8H454.4V523.5H448.6zM529.7 517.8H564.5V523.5H529.7zM535.5 523.5H564.5V529.2H535.5zM535.5 529.2H547.1V535.0H535.5zM558.7 529.2H564.5V535.0H558.7zM535.5 535.0H547.1V540.8H535.5zM558.7 535.0H564.5V540.8H558.7zM541.3 540.8H558.7V546.5H541.3zM466.0 546.5H471.8V552.2H466.0zM541.3 546.5H552.9V552.2H541.3zM535.5 558.0H541.3V563.8H535.5zM471.8 563.8H477.6V569.5H471.8zM535.5 563.8H541.3V569.5H535.5zM471.8 569.5H477.6V575.2H471.8zM471.8 575.2H477.6V581.0H471.8zM466.0 586.8H471.8V592.5H466.0zM535.5 586.8H541.3V592.5H535.5zM460.2 592.5H466.0V598.2H460.2zM529.7 592.5H535.5V598.2H529.7zM454.4 598.2H460.2V604.0H454.4zM523.9 598.2H529.7V604.0H523.9zM518.1 604.0H523.9V609.8H518.1zM512.3 609.8H518.1V615.5H512.3zM437.0 615.5H442.8V621.2H437.0zM431.2 621.2H437.0V627.0H431.2zM506.6 621.2H512.3V627.0H506.6zM425.4 627.0H431.2V632.8H425.4zM413.8 632.8H419.6V638.5H413.8zM408.0 638.5H413.8V644.2H408.0zM390.6 644.2H396.4V650.0H390.6zM483.4 644.2H489.2V650.0H483.4zM373.2 650.0H379.0V655.8H373.2zM471.8 650.0H477.6V655.8H471.8zM355.8 655.8H361.6V661.5H355.8zM460.2 655.8H466.0V661.5H460.2zM344.2 661.5H350.0V667.2H344.2zM448.6 661.5H454.4V667.2H448.6zM437.0 667.2H442.8V673.0H437.0zM408.0 673.0H413.8V678.8H408.0zM326.9 678.8H332.7V684.5H326.9zM396.4 678.8H402.2V684.5H396.4zM326.9 684.5H338.4V690.2H326.9zM355.8 684.5H367.4V690.2H355.8z"/>
<path fill="#aee2f0" d="M153.0 80.8H164.5V86.5H153.0zM181.9 80.8H187.7V86.5H181.9zM187.7 86.5H193.5V92.2H187.7zM129.8 92.2H135.6V98.0H129.8zM187.7 92.2H193.5V98.0H187.7zM118.2 98.0H124.0V103.8H118.2zM193.5 98.0H199.3V103.8H193.5zM205.1 103.8H210.9V109.5H205.1zM222.5 115.2H228.3V121.0H222.5zM245.7 115.2H268.9V121.0H245.7zM95.0 121.0H100.8V126.8H95.0zM228.3 121.0H239.9V126.8H228.3zM89.2 126.8H95.0V132.5H89.2zM263.1 132.5H268.9V138.2H263.1zM83.4 138.2H89.2V144.0H83.4zM257.3 144.0H263.1V149.8H257.3zM257.3 149.8H263.1V155.5H257.3zM263.1 155.5H268.9V161.2H263.1zM268.9 161.2H274.7V167.0H268.9zM274.7 167.0H280.5V172.8H274.7zM292.1 178.5H297.9V184.2H292.1zM326.9 184.2H332.7V190.0H326.9zM338.4 195.8H344.2V201.5H338.4zM124.0 201.5H129.8V207.2H124.0zM338.4 201.5H344.2V207.2H338.4zM338.4 207.2H344.2V213.0H338.4zM338.4 213.0H344.2V218.8H338.4zM350.0 218.8H355.8V224.5H350.0zM355.8 224.5H361.6V230.2H355.8zM170.3 236.0H176.1V241.8H170.3zM361.6 236.0H367.4V241.8H361.6zM367.4 241.8H373.2V247.5H367.4zM199.3 259.0H205.1V264.8H199.3zM205.1 264.8H210.9V270.5H205.1zM379.0 264.8H384.8V270.5H379.0zM384.8 282.0H390.6V287.8H384.8zM402.2 299.2H408.0V305.0H402.2zM257.3 310.8H263.1V316.5H257.3zM419.6 316.5H425.4V322.2H419.6zM274.7 322.2H280.5V328.0H274.7zM425.4 322.2H431.2V328.0H425.4zM431.2 328.0H437.0V333.8H431.2zM437.0 333.8H442.8V339.5H437.0zM442.8 339.5H448.6V345.2H442.8zM309.5 351.0H315.3V356.8H309.5zM315.3 356.8H321.1V362.5H315.3zM442.8 374.0H448.6V379.8H442.8zM344.2 379.8H350.0V385.5H344.2zM442.8 379.8H448.6V385.5H442.8zM350.0 385.5H355.8V391.2H350.0zM448.6 391.2H454.4V397.0H448.6zM471.8 414.2H477.6V420.0H471.8zM489.2 431.5H495.0V437.2H489.2zM402.2 437.2H408.0V443.0H402.2zM495.0 443.0H500.8V448.8H495.0zM500.8 454.5H506.6V460.2H500.8zM419.6 466.0H425.4V471.8H419.6zM506.6 466.0H512.3V471.8H506.6zM425.4 471.8H431.2V477.5H425.4zM535.5 471.8H547.1V477.5H535.5zM535.5 477.5H547.1V483.2H535.5zM518.1 489.0H523.9V494.8H518.1zM523.9 500.5H529.7V506.2H523.9zM442.8 506.2H448.6V512.0H442.8zM454.4 523.5H460.2V529.2H454.4zM529.7 523.5H535.5V529.2H529.7zM529.7 529.2H535.5V535.0H529.7zM547.1 529.2H558.7V535.0H547.1zM547.1 535.0H558.7V540.8H547.1zM466.0 540.8H471.8V546.5H466.0zM535.5 540.8H541.3V546.5H535.5zM535.5 546.5H541.3V552.2H535.5zM535.5 552.2H541.3V558.0H535.5zM471.8 558.0H477.6V563.8H471.8zM535.5 569.5H541.3V575.2H535.5zM535.5 575.2H541.3V581.0H535.5zM471.8 581.0H477.6V586.8H471.8zM535.5 581.0H541.3V586.8H535.5zM448.6 604.0H454.4V609.8H448.6zM442.8 609.8H448.6V615.5H442.8zM506.6 615.5H512.3V621.2H506.6zM500.8 627.0H506.6V632.8H500.8zM419.6 632.8H425.4V638.5H419.6zM495.0 632.8H500.8V638.5H495.0zM489.2 638.5H495.0V644.2H489.2zM396.4 644.2H408.0V650.0H396.4zM477.6 644.2H483.4V650.0H477.6zM379.0 650.0H384.8V655.8H379.0zM466.0 650.0H471.8V655.8H466.0zM361.6 655.8H367.4V661.5H361.6zM454.4 655.8H460.2V661.5H454.4zM350.0 661.5H355.8V667.2H350.0zM442.8 661.5H448.6V667.2H442.8zM338.4 667.2H344.2V673.0H338.4zM413.8 667.2H437.0V673.0H413.8zM332.7 673.0H338.4V678.8H332.7zM402.2 673.0H408.0V678.8H402.2zM332.7 678.8H338.4V684.5H332.7zM390.6 678.8H396.4V684.5H390.6zM338.4 684.5H355.8V690.2H338.4z"/>
<path fill="#a9e1f0" d="M164.5 80.8H181.9V86.5H164.5zM141.4 86.5H147.2V92.2H141.4zM181.9 86.5H187.7V92.2H181.9zM181.9 92.2H187.7V98.0H181.9zM124.0 98.0H129.8V103.8H124.0zM112.4 103.8H118.2V109.5H112.4zM106.6 109.5H112.4V115.2H106.6zM210.9 109.5H216.7V115.2H210.9zM100.8 115.2H106.6V121.0H100.8zM216.7 115.2H222.5V121.0H216.7zM239.9 121.0H251.5V126.8H239.9zM263.1 121.0H268.9V126.8H263.1zM234.1 126.8H245.7V132.5H234.1zM263.1 126.8H268.9V132.5H263.1zM245.7 138.2H263.1V144.0H245.7zM251.5 144.0H257.3V149.8H251.5zM83.4 155.5H89.2V161.2H83.4zM280.5 172.8H286.3V178.5H280.5zM303.7 184.2H326.9V190.0H303.7zM332.7 190.0H338.4V195.8H332.7zM118.2 195.8H124.0V201.5H118.2zM141.4 213.0H147.2V218.8H141.4zM344.2 218.8H350.0V224.5H344.2zM164.5 230.2H170.3V236.0H164.5zM355.8 230.2H361.6V236.0H355.8zM193.5 253.2H199.3V259.0H193.5zM373.2 253.2H379.0V259.0H373.2zM379.0 270.5H384.8V276.2H379.0zM384.8 287.8H390.6V293.5H384.8zM390.6 293.5H396.4V299.2H390.6zM396.4 299.2H402.2V305.0H396.4zM251.5 305.0H257.3V310.8H251.5zM408.0 305.0H413.8V310.8H408.0zM413.8 310.8H419.6V316.5H413.8zM297.9 339.5H303.7V345.2H297.9zM303.7 345.2H309.5V351.0H303.7zM442.8 368.2H448.6V374.0H442.8zM338.4 374.0H344.2V379.8H338.4zM477.6 420.0H483.4V425.8H477.6zM483.4 425.8H489.2V431.5H483.4zM413.8 454.5H419.6V460.2H413.8zM506.6 471.8H512.3V477.5H506.6zM431.2 477.5H437.0V483.2H431.2zM512.3 483.2H518.1V489.0H512.3zM437.0 489.0H442.8V494.8H437.0zM518.1 494.8H523.9V500.5H518.1zM442.8 500.5H448.6V506.2H442.8zM523.9 506.2H529.7V512.0H523.9zM448.6 512.0H454.4V517.8H448.6zM523.9 512.0H529.7V517.8H523.9zM460.2 529.2H466.0V535.0H460.2zM529.7 535.0H535.5V540.8H529.7zM529.7 540.8H535.5V546.5H529.7zM471.8 552.2H477.6V558.0H471.8zM529.7 558.0H535.5V563.8H529.7zM529.7 563.8H535.5V569.5H529.7zM471.8 586.8H477.6V592.5H471.8zM529.7 586.8H535.5V592.5H529.7zM466.0 592.5H471.8V598.2H466.0zM523.9 592.5H529.7V598.2H523.9zM460.2 598.2H466.0V604.0H460.2zM518.1 598.2H523.9V604.0H518.1zM454.4 604.0H460.2V609.8H454.4zM512.3 604.0H518.1V609.8H512.3zM442.8 615.5H448.6V621.2H442.8zM437.0 621.2H442.8V627.0H437.0zM500.8 621.2H506.6V627.0H500.8zM431.2 627.0H437.0V632.8H431.2zM425.4 632.8H431.2V638.5H425.4zM413.8 638.5H419.6V644.2H413.8zM477.6 638.5H489.2V644.2H477.6zM408.0 644.2H413.8V650.0H408.0zM466.0 644.2H477.6V650.0H466.0zM384.8 650.0H396.4V655.8H384.8zM454.4 650.0H466.0V655.8H454.4zM367.4 655.8H373.2V661.5H367.4zM448.6 655.8H454.4V661.5H448.6zM355.8 661.5H361.6V667.2H355.8zM431.2 661.5H442.8V667.2H431.2zM344.2 667.2H355.8V673.0H344.2zM402.2 667.2H413.8V673.0H402.2zM338.4 673.0H344.2V678.8H338.4zM396.4 673.0H402.2V678.8H396.4zM338.4 678.8H390.6V684.5H338.4z"/>
<path fill="#a4e0f0" d="M147.2 86.5H164.5V92.2H147.2zM170.3 86.5H181.9V92.2H170.3zM135.6 92.2H141.4V98.0H135.6zM187.7 98.0H193.5V103.8H187.7zM199.3 103.8H205.1V109.5H199.3zM222.5 121.0H228.3V126.8H222.5zM251.5 121.0H263.1V126.8H251.5zM228.3 126.8H234.1V132.5H228.3zM245.7 126.8H263.1V132.5H245.7zM234.1 132.5H263.1V138.2H234.1zM239.9 138.2H245.7V144.0H239.9zM83.4 144.0H89.2V149.8H83.4zM245.7 144.0H251.5V149.8H245.7zM83.4 149.8H89.2V155.5H83.4zM251.5 149.8H257.3V155.5H251.5zM257.3 155.5H263.1V161.2H257.3zM89.2 167.0H95.0V172.8H89.2zM286.3 178.5H292.1V184.2H286.3zM112.4 190.0H118.2V195.8H112.4zM326.9 190.0H332.7V195.8H326.9zM332.7 195.8H338.4V201.5H332.7zM332.7 201.5H338.4V207.2H332.7zM332.7 207.2H338.4V213.0H332.7zM332.7 213.0H338.4V218.8H332.7zM338.4 218.8H344.2V224.5H338.4zM350.0 224.5H355.8V230.2H350.0zM361.6 241.8H367.4V247.5H361.6zM187.7 247.5H193.5V253.2H187.7zM367.4 247.5H373.2V253.2H367.4zM373.2 259.0H379.0V264.8H373.2zM379.0 276.2H384.8V282.0H379.0zM239.9 293.5H245.7V299.2H239.9zM245.7 299.2H251.5V305.0H245.7zM402.2 305.0H408.0V310.8H402.2zM268.9 316.5H274.7V322.2H268.9zM419.6 322.2H425.4V328.0H419.6zM425.4 328.0H431.2V333.8H425.4zM292.1 333.8H297.9V339.5H292.1zM442.8 345.2H448.6V351.0H442.8zM326.9 362.5H332.7V368.2H326.9zM332.7 368.2H338.4V374.0H332.7zM442.8 385.5H448.6V391.2H442.8zM454.4 402.8H460.2V408.5H454.4zM460.2 408.5H466.0V414.2H460.2zM489.2 437.2H495.0V443.0H489.2zM408.0 443.0H413.8V448.8H408.0zM495.0 448.8H500.8V454.5H495.0zM500.8 460.2H506.6V466.0H500.8zM518.1 500.5H523.9V506.2H518.1zM454.4 517.8H460.2V523.5H454.4zM523.9 517.8H529.7V523.5H523.9zM523.9 523.5H529.7V529.2H523.9zM466.0 535.0H471.8V540.8H466.0zM529.7 546.5H535.5V552.2H529.7zM529.7 552.2H535.5V558.0H529.7zM477.6 569.5H483.4V575.2H477.6zM529.7 569.5H535.5V575.2H529.7zM477.6 575.2H483.4V581.0H477.6zM529.7 575.2H535.5V581.0H529.7zM529.7 581.0H535.5V586.8H529.7zM523.9 586.8H529.7V592.5H523.9zM471.8 592.5H477.6V598.2H471.8zM466.0 598.2H471.8V604.0H466.0zM460.2 604.0H466.0V609.8H460.2zM448.6 609.8H454.4V615.5H448.6zM506.6 609.8H512.3V615.5H506.6zM500.8 615.5H506.6V621.2H500.8zM442.8 621.2H448.6V627.0H442.8zM437.0 627.0H442.8V632.8H437.0zM495.0 627.0H500.8V632.8H495.0zM431.2 632.8H437.0V638.5H431.2zM483.4 632.8H495.0V638.5H483.4zM419.6 638.5H431.2V644.2H419.6zM471.8 638.5H477.6V644.2H471.8zM413.8 644.2H419.6V650.0H413.8zM460.2 644.2H466.0V650.0H460.2zM396.4 650.0H413.8V655.8H396.4zM448.6 650.0H454.4V655.8H448.6zM373.2 655.8H384.8V661.5H373.2zM437.0 655.8H448.6V661.5H437.0zM361.6 661.5H373.2V667.2H361.6zM402.2 661.5H431.2V667.2H402.2zM355.8 667.2H361.6V673.0H355.8zM396.4 667.2H402.2V673.0H396.4zM344.2 673.0H367.4V678.8H344.2zM390.6 673.0H396.4V678.8H390.6z"/>
<path fill="#9edeef" d="M164.5 86.5H170.3V92.2H164.5zM141.4 92.2H147.2V98.0H141.4zM176.1 92.2H181.9V98.0H176.1zM129.8 98.0H135.6V103.8H129.8zM181.9 98.0H187.7V103.8H181.9zM118.2 103.8H124.0V109.5H118.2zM193.5 103.8H199.3V109.5H193.5zM205.1 109.5H210.9V115.2H205.1zM100.8 121.0H106.6V126.8H100.8zM95.0 126.8H100.8V132.5H95.0zM89.2 132.5H95.0V138.2H89.2zM234.1 138.2H239.9V144.0H234.1zM239.9 144.0H245.7V149.8H239.9zM245.7 149.8H251.5V155.5H245.7zM263.1 161.2H268.9V167.0H263.1zM268.9 167.0H274.7V172.8H268.9zM95.0 172.8H100.8V178.5H95.0zM274.7 172.8H280.5V178.5H274.7zM100.8 178.5H106.6V184.2H100.8zM106.6 184.2H112.4V190.0H106.6zM297.9 184.2H303.7V190.0H297.9zM315.3 190.0H326.9V195.8H315.3zM326.9 195.8H332.7V201.5H326.9zM135.6 207.2H141.4V213.0H135.6zM332.7 218.8H338.4V224.5H332.7zM158.7 224.5H164.5V230.2H158.7zM344.2 224.5H350.0V230.2H344.2zM350.0 230.2H355.8V236.0H350.0zM355.8 236.0H361.6V241.8H355.8zM367.4 253.2H373.2V259.0H367.4zM373.2 264.8H379.0V270.5H373.2zM222.5 276.2H228.3V282.0H222.5zM228.3 282.0H234.1V287.8H228.3zM379.0 282.0H384.8V287.8H379.0zM234.1 287.8H239.9V293.5H234.1zM384.8 293.5H390.6V299.2H384.8zM263.1 310.8H268.9V316.5H263.1zM408.0 310.8H413.8V316.5H408.0zM413.8 316.5H419.6V322.2H413.8zM286.3 328.0H292.1V333.8H286.3zM431.2 333.8H437.0V339.5H431.2zM437.0 339.5H442.8V345.2H437.0zM442.8 351.0H448.6V356.8H442.8zM321.1 356.8H326.9V362.5H321.1zM442.8 356.8H448.6V362.5H442.8zM442.8 362.5H448.6V368.2H442.8zM361.6 391.2H367.4V397.0H361.6zM367.4 397.0H373.2V402.8H367.4zM448.6 397.0H454.4V402.8H448.6zM373.2 402.8H379.0V408.5H373.2zM379.0 408.5H384.8V414.2H379.0zM384.8 414.2H390.6V420.0H384.8zM466.0 414.2H471.8V420.0H466.0zM390.6 420.0H396.4V425.8H390.6zM396.4 425.8H402.2V431.5H396.4zM402.2 431.5H408.0V437.2H402.2zM483.4 431.5H489.2V437.2H483.4zM419.6 460.2H425.4V466.0H419.6zM425.4 466.0H431.2V471.8H425.4zM506.6 477.5H512.3V483.2H506.6zM437.0 483.2H442.8V489.0H437.0zM512.3 489.0H518.1V494.8H512.3zM442.8 494.8H448.6V500.5H442.8zM448.6 506.2H454.4V512.0H448.6zM460.2 523.5H466.0V529.2H460.2zM523.9 529.2H529.7V535.0H523.9zM523.9 535.0H529.7V540.8H523.9zM471.8 546.5H477.6V552.2H471.8zM477.6 558.0H483.4V563.8H477.6zM477.6 563.8H483.4V569.5H477.6zM477.6 581.0H483.4V586.8H477.6zM523.9 581.0H529.7V586.8H523.9zM477.6 586.8H483.4V592.5H477.6zM518.1 592.5H523.9V598.2H518.1zM471.8 598.2H477.6V604.0H471.8zM512.3 598.2H518.1V604.0H512.3zM466.0 604.0H471.8V609.8H466.0zM506.6 604.0H512.3V609.8H506.6zM454.4 609.8H460.2V615.5H454.4zM500.8 609.8H506.6V615.5H500.8zM448.6 615.5H454.4V621.2H448.6zM495.0 621.2H500.8V627.0H495.0zM442.8 627.0H448.6V632.8H442.8zM489.2 627.0H495.0V632.8H489.2zM437.0 632.8H442.8V638.5H437.0zM471.8 632.8H483.4V638.5H471.8zM431.2 638.5H442.8V644.2H431.2zM460.2 638.5H471.8V644.2H460.2zM419.6 644.2H437.0V650.0H419.6zM442.8 644.2H460.2V650.0H442.8zM413.8 650.0H448.6V655.8H413.8zM384.8 655.8H437.0V661.5H384.8zM373.2 661.5H379.0V667.2H373.2zM390.6 661.5H402.2V667.2H390.6zM361.6 667.2H373.2V673.0H361.6zM390.6 667.2H396.4V673.0H390.6zM367.4 673.0H390.6V678.8H367.4z"/>
<path fill="#99ddef" d="M147.2 92.2H176.1V98.0H147.2zM135.6 98.0H141.4V103.8H135.6zM176.1 98.0H181.9V103.8H176.1zM124.0 103.8H129.8V109.5H124.0zM187.7 103.8H193.5V109.5H187.7zM112.4 109.5H118.2V115.2H112.4zM106.6 115.2H112.4V121.0H106.6zM210.9 115.2H216.7V121.0H210.9zM216.7 121.0H222.5V126.8H216.7zM222.5 126.8H228.3V132.5H222.5zM228.3 132.5H234.1V138.2H228.3zM251.5 155.5H257.3V161.2H251.5zM280.5 178.5H286.3V184.2H280.5zM292.1 184.2H297.9V190.0H292.1zM303.7 190.0H315.3V195.8H303.7zM321.1 195.8H326.9V201.5H321.1zM129.8 201.5H135.6V207.2H129.8zM326.9 201.5H332.7V207.2H326.9zM326.9 207.2H332.7V213.0H326.9zM326.9 213.0H332.7V218.8H326.9zM153.0 218.8H158.7V224.5H153.0zM338.4 224.5H344.2V230.2H338.4zM181.9 241.8H187.7V247.5H181.9zM361.6 247.5H367.4V253.2H361.6zM367.4 259.0H373.2V264.8H367.4zM216.7 270.5H222.5V276.2H216.7zM373.2 270.5H379.0V276.2H373.2zM379.0 287.8H384.8V293.5H379.0zM390.6 299.2H396.4V305.0H390.6zM257.3 305.0H263.1V310.8H257.3zM280.5 322.2H286.3V328.0H280.5zM309.5 345.2H315.3V351.0H309.5zM315.3 351.0H321.1V356.8H315.3zM437.0 374.0H442.8V379.8H437.0zM350.0 379.8H355.8V385.5H350.0zM355.8 385.5H361.6V391.2H355.8zM471.8 420.0H477.6V425.8H471.8zM477.6 425.8H483.4V431.5H477.6zM489.2 443.0H495.0V448.8H489.2zM413.8 448.8H419.6V454.5H413.8zM495.0 454.5H500.8V460.2H495.0zM500.8 466.0H506.6V471.8H500.8zM431.2 471.8H437.0V477.5H431.2zM512.3 494.8H518.1V500.5H512.3zM518.1 506.2H523.9V512.0H518.1zM518.1 512.0H523.9V517.8H518.1zM466.0 529.2H471.8V535.0H466.0zM471.8 540.8H477.6V546.5H471.8zM523.9 540.8H529.7V546.5H523.9zM523.9 546.5H529.7V552.2H523.9zM523.9 552.2H529.7V558.0H523.9zM523.9 558.0H529.7V563.8H523.9zM523.9 563.8H529.7V569.5H523.9zM523.9 569.5H529.7V575.2H523.9zM523.9 575.2H529.7V581.0H523.9zM518.1 586.8H523.9V592.5H518.1zM477.6 592.5H483.4V598.2H477.6zM512.3 592.5H518.1V598.2H512.3zM477.6 598.2H483.4V604.0H477.6zM506.6 598.2H512.3V604.0H506.6zM471.8 604.0H477.6V609.8H471.8zM500.8 604.0H506.6V609.8H500.8zM460.2 609.8H471.8V615.5H460.2zM495.0 609.8H500.8V615.5H495.0zM454.4 615.5H466.0V621.2H454.4zM495.0 615.5H500.8V621.2H495.0zM448.6 621.2H460.2V627.0H448.6zM489.2 621.2H495.0V627.0H489.2zM448.6 627.0H489.2V632.8H448.6zM442.8 632.8H471.8V638.5H442.8zM442.8 638.5H460.2V644.2H442.8zM437.0 644.2H442.8V650.0H437.0zM379.0 661.5H390.6V667.2H379.0zM373.2 667.2H390.6V673.0H373.2z"/>
<path fill="#93dbef" d="M141.4 98.0H147.2V103.8H141.4zM170.3 98.0H176.1V103.8H170.3zM181.9 103.8H187.7V109.5H181.9zM199.3 109.5H205.1V115.2H199.3zM89.2 138.2H95.0V144.0H89.2zM234.1 144.0H239.9V149.8H234.1zM239.9 149.8H245.7V155.5H239.9zM89.2 161.2H95.0V167.0H89.2zM286.3 184.2H292.1V190.0H286.3zM315.3 195.8H321.1V201.5H315.3zM321.1 201.5H326.9V207.2H321.1zM326.9 218.8H332.7V224.5H326.9zM332.7 224.5H338.4V230.2H332.7zM344.2 230.2H350.0V236.0H344.2zM176.1 236.0H181.9V241.8H176.1zM350.0 236.0H355.8V241.8H350.0zM355.8 241.8H361.6V247.5H355.8zM205.1 259.0H210.9V264.8H205.1zM210.9 264.8H216.7V270.5H210.9zM367.4 264.8H373.2V270.5H367.4zM373.2 276.2H379.0V282.0H373.2zM396.4 305.0H402.2V310.8H396.4zM402.2 310.8H408.0V316.5H402.2zM274.7 316.5H280.5V322.2H274.7zM408.0 316.5H413.8V322.2H408.0zM413.8 322.2H419.6V328.0H413.8zM419.6 328.0H425.4V333.8H419.6zM303.7 339.5H309.5V345.2H303.7zM338.4 368.2H344.2V374.0H338.4zM437.0 368.2H442.8V374.0H437.0zM344.2 374.0H350.0V379.8H344.2zM437.0 379.8H442.8V385.5H437.0zM442.8 391.2H448.6V397.0H442.8zM408.0 437.2H413.8V443.0H408.0zM483.4 437.2H489.2V443.0H483.4zM419.6 454.5H425.4V460.2H419.6zM500.8 471.8H506.6V477.5H500.8zM437.0 477.5H442.8V483.2H437.0zM506.6 483.2H512.3V489.0H506.6zM442.8 489.0H448.6V494.8H442.8zM448.6 500.5H454.4V506.2H448.6zM454.4 512.0H460.2V517.8H454.4zM460.2 517.8H466.0V523.5H460.2zM518.1 517.8H523.9V523.5H518.1zM518.1 523.5H523.9V529.2H518.1zM477.6 552.2H483.4V558.0H477.6zM483.4 563.8H489.2V569.5H483.4zM483.4 569.5H489.2V575.2H483.4zM483.4 575.2H489.2V581.0H483.4zM483.4 581.0H489.2V586.8H483.4zM518.1 581.0H523.9V586.8H518.1zM483.4 586.8H489.2V592.5H483.4zM483.4 592.5H489.2V598.2H483.4zM483.4 598.2H489.2V604.0H483.4zM500.8 598.2H506.6V604.0H500.8zM477.6 604.0H500.8V609.8H477.6zM471.8 609.8H495.0V615.5H471.8zM466.0 615.5H495.0V621.2H466.0zM460.2 621.2H489.2V627.0H460.2z"/>
<path fill="#8dd9ee" d="M147.2 98.0H170.3V103.8H147.2zM129.8 103.8H135.6V109.5H129.8zM118.2 109.5H124.0V115.2H118.2zM112.4 115.2H118.2V121.0H112.4zM222.5 132.5H228.3V138.2H222.5zM228.3 138.2H234.1V144.0H228.3zM89.2 155.5H95.0V161.2H89.2zM245.7 155.5H251.5V161.2H245.7zM257.3 161.2H263.1V167.0H257.3zM263.1 167.0H268.9V172.8H263.1zM268.9 172.8H274.7V178.5H268.9zM274.7 178.5H280.5V184.2H274.7zM297.9 190.0H303.7V195.8H297.9zM124.0 195.8H129.8V201.5H124.0zM309.5 195.8H315.3V201.5H309.5zM321.1 207.2H326.9V213.0H321.1zM147.2 213.0H153.0V218.8H147.2zM321.1 213.0H326.9V218.8H321.1zM326.9 224.5H332.7V230.2H326.9zM170.3 230.2H176.1V236.0H170.3zM338.4 230.2H344.2V236.0H338.4zM344.2 236.0H350.0V241.8H344.2zM355.8 247.5H361.6V253.2H355.8zM199.3 253.2H205.1V259.0H199.3zM361.6 253.2H367.4V259.0H361.6zM367.4 270.5H373.2V276.2H367.4zM373.2 282.0H379.0V287.8H373.2zM245.7 293.5H251.5V299.2H245.7zM251.5 299.2H257.3V305.0H251.5zM268.9 310.8H274.7V316.5H268.9zM292.1 328.0H297.9V333.8H292.1zM297.9 333.8H303.7V339.5H297.9zM425.4 333.8H431.2V339.5H425.4zM431.2 339.5H437.0V345.2H431.2zM437.0 345.2H442.8V351.0H437.0zM332.7 362.5H338.4V368.2H332.7zM454.4 408.5H460.2V414.2H454.4zM460.2 414.2H466.0V420.0H460.2zM466.0 420.0H471.8V425.8H466.0zM477.6 431.5H483.4V437.2H477.6zM413.8 443.0H419.6V448.8H413.8zM489.2 448.8H495.0V454.5H489.2zM425.4 460.2H431.2V466.0H425.4zM495.0 460.2H500.8V466.0H495.0zM506.6 489.0H512.3V494.8H506.6zM512.3 500.5H518.1V506.2H512.3zM466.0 523.5H471.8V529.2H466.0zM518.1 529.2H523.9V535.0H518.1zM471.8 535.0H477.6V540.8H471.8zM518.1 535.0H523.9V540.8H518.1zM477.6 546.5H483.4V552.2H477.6zM483.4 558.0H489.2V563.8H483.4zM518.1 558.0H523.9V563.8H518.1zM518.1 563.8H523.9V569.5H518.1zM518.1 569.5H523.9V575.2H518.1zM518.1 575.2H523.9V581.0H518.1zM489.2 586.8H495.0V592.5H489.2zM512.3 586.8H518.1V592.5H512.3zM489.2 592.5H512.3V598.2H489.2zM489.2 598.2H500.8V604.0H489.2z"/>
<path fill="#87d8ee" d="M135.6 103.8H141.4V109.5H135.6zM176.1 103.8H181.9V109.5H176.1zM124.0 109.5H129.8V115.2H124.0zM193.5 109.5H199.3V115.2H193.5zM205.1 115.2H210.9V121.0H205.1zM106.6 121.0H112.4V126.8H106.6zM210.9 121.0H216.7V126.8H210.9zM100.8 126.8H106.6V132.5H100.8zM216.7 126.8H222.5V132.5H216.7zM95.0 132.5H100.8V138.2H95.0zM89.2 144.0H95.0V149.8H89.2zM89.2 149.8H95.0V155.5H89.2zM95.0 167.0H100.8V172.8H95.0zM280.5 184.2H286.3V190.0H280.5zM118.2 190.0H124.0V195.8H118.2zM292.1 190.0H297.9V195.8H292.1zM303.7 195.8H309.5V201.5H303.7zM315.3 201.5H321.1V207.2H315.3zM321.1 218.8H326.9V224.5H321.1zM332.7 230.2H338.4V236.0H332.7zM350.0 241.8H355.8V247.5H350.0zM193.5 247.5H199.3V253.2H193.5zM361.6 259.0H367.4V264.8H361.6zM239.9 287.8H245.7V293.5H239.9zM379.0 293.5H384.8V299.2H379.0zM384.8 299.2H390.6V305.0H384.8zM390.6 305.0H396.4V310.8H390.6zM286.3 322.2H292.1V328.0H286.3zM408.0 322.2H413.8V328.0H408.0zM413.8 328.0H419.6V333.8H413.8zM437.0 351.0H442.8V356.8H437.0zM326.9 356.8H332.7V362.5H326.9zM437.0 362.5H442.8V368.2H437.0zM437.0 385.5H442.8V391.2H437.0zM448.6 402.8H454.4V408.5H448.6zM384.8 408.5H390.6V414.2H384.8zM390.6 414.2H396.4V420.0H390.6zM396.4 420.0H402.2V425.8H396.4zM402.2 425.8H408.0V431.5H402.2zM471.8 425.8H477.6V431.5H471.8zM431.2 466.0H437.0V471.8H431.2zM500.8 477.5H506.6V483.2H500.8zM442.8 483.2H448.6V489.0H442.8zM448.6 494.8H454.4V500.5H448.6zM454.4 506.2H460.2V512.0H454.4zM512.3 506.2H518.1V512.0H512.3zM471.8 529.2H477.6V535.0H471.8zM477.6 540.8H483.4V546.5H477.6zM518.1 540.8H523.9V546.5H518.1zM518.1 546.5H523.9V552.2H518.1zM483.4 552.2H489.2V558.0H483.4zM518.1 552.2H523.9V558.0H518.1zM489.2 569.5H495.0V575.2H489.2zM489.2 575.2H495.0V581.0H489.2zM512.3 575.2H518.1V581.0H512.3zM489.2 581.0H495.0V586.8H489.2zM512.3 581.0H518.1V586.8H512.3zM495.0 586.8H512.3V592.5H495.0z"/>
<path fill="#81d6ee" d="M141.4 103.8H158.7V109.5H141.4zM164.5 103.8H176.1V109.5H164.5zM129.8 109.5H135.6V115.2H129.8zM187.7 109.5H193.5V115.2H187.7zM118.2 115.2H124.0V121.0H118.2zM228.3 144.0H234.1V149.8H228.3zM234.1 149.8H239.9V155.5H234.1zM239.9 155.5H245.7V161.2H239.9zM251.5 161.2H257.3V167.0H251.5zM100.8 172.8H106.6V178.5H100.8zM106.6 178.5H112.4V184.2H106.6zM112.4 184.2H118.2V190.0H112.4zM309.5 201.5H315.3V207.2H309.5zM141.4 207.2H147.2V213.0H141.4zM315.3 207.2H321.1V213.0H315.3zM315.3 213.0H321.1V218.8H315.3zM164.5 224.5H170.3V230.2H164.5zM321.1 224.5H326.9V230.2H321.1zM338.4 236.0H344.2V241.8H338.4zM344.2 241.8H350.0V247.5H344.2zM350.0 247.5H355.8V253.2H350.0zM355.8 253.2H361.6V259.0H355.8zM361.6 264.8H367.4V270.5H361.6zM228.3 276.2H234.1V282.0H228.3zM367.4 276.2H373.2V282.0H367.4zM234.1 282.0H239.9V287.8H234.1zM373.2 287.8H379.0V293.5H373.2zM263.1 305.0H268.9V310.8H263.1zM396.4 310.8H402.2V316.5H396.4zM280.5 316.5H286.3V322.2H280.5zM402.2 316.5H408.0V322.2H402.2zM419.6 333.8H425.4V339.5H419.6zM315.3 345.2H321.1V351.0H315.3zM321.1 351.0H326.9V356.8H321.1zM437.0 356.8H442.8V362.5H437.0zM355.8 379.8H361.6V385.5H355.8zM361.6 385.5H367.4V391.2H361.6zM367.4 391.2H373.2V397.0H367.4zM373.2 397.0H379.0V402.8H373.2zM442.8 397.0H448.6V402.8H442.8zM379.0 402.8H384.8V408.5H379.0zM408.0 431.5H413.8V437.2H408.0zM483.4 443.0H489.2V448.8H483.4zM419.6 448.8H425.4V454.5H419.6zM489.2 454.5H495.0V460.2H489.2zM495.0 466.0H500.8V471.8H495.0zM437.0 471.8H442.8V477.5H437.0zM500.8 483.2H506.6V489.0H500.8zM506.6 494.8H512.3V500.5H506.6zM460.2 512.0H466.0V517.8H460.2zM512.3 512.0H518.1V517.8H512.3zM466.0 517.8H471.8V523.5H466.0zM512.3 517.8H518.1V523.5H512.3zM512.3 558.0H518.1V563.8H512.3zM489.2 563.8H495.0V569.5H489.2zM512.3 563.8H518.1V569.5H512.3zM512.3 569.5H518.1V575.2H512.3zM495.0 575.2H500.8V581.0H495.0zM506.6 575.2H512.3V581.0H506.6zM495.0 581.0H512.3V586.8H495.0z"/>
<path fill="#7bd4ed" d="M158.7 103.8H164.5V109.5H158.7zM135.6 109.5H141.4V115.2H135.6zM181.9 109.5H187.7V115.2H181.9zM199.3 115.2H205.1V121.0H199.3zM112.4 121.0H118.2V126.8H112.4zM216.7 132.5H222.5V138.2H216.7zM95.0 138.2H100.8V144.0H95.0zM222.5 138.2H228.3V144.0H222.5zM257.3 167.0H263.1V172.8H257.3zM263.1 172.8H268.9V178.5H263.1zM268.9 178.5H274.7V184.2H268.9zM286.3 190.0H292.1V195.8H286.3zM297.9 195.8H303.7V201.5H297.9zM315.3 218.8H321.1V224.5H315.3zM326.9 230.2H332.7V236.0H326.9zM332.7 236.0H338.4V241.8H332.7zM187.7 241.8H193.5V247.5H187.7zM355.8 259.0H361.6V264.8H355.8zM222.5 270.5H228.3V276.2H222.5zM361.6 270.5H367.4V276.2H361.6zM257.3 299.2H263.1V305.0H257.3zM309.5 339.5H315.3V345.2H309.5zM425.4 339.5H431.2V345.2H425.4zM431.2 345.2H437.0V351.0H431.2zM344.2 368.2H350.0V374.0H344.2zM350.0 374.0H355.8V379.8H350.0zM431.2 374.0H437.0V379.8H431.2zM454.4 414.2H460.2V420.0H454.4zM460.2 420.0H466.0V425.8H460.2zM413.8 437.2H419.6V443.0H413.8zM477.6 437.2H483.4V443.0H477.6zM425.4 454.5H431.2V460.2H425.4zM495.0 471.8H500.8V477.5H495.0zM442.8 477.5H448.6V483.2H442.8zM448.6 489.0H454.4V494.8H448.6zM454.4 500.5H460.2V506.2H454.4zM506.6 500.5H512.3V506.2H506.6zM471.8 523.5H477.6V529.2H471.8zM512.3 523.5H518.1V529.2H512.3zM512.3 529.2H518.1V535.0H512.3zM477.6 535.0H483.4V540.8H477.6zM512.3 535.0H518.1V540.8H512.3zM512.3 540.8H518.1V546.5H512.3zM483.4 546.5H489.2V552.2H483.4zM512.3 546.5H518.1V552.2H512.3zM512.3 552.2H518.1V558.0H512.3zM489.2 558.0H495.0V563.8H489.2zM495.0 563.8H500.8V569.5H495.0zM506.6 563.8H512.3V569.5H506.6zM495.0 569.5H512.3V575.2H495.0zM500.8 575.2H506.6V581.0H500.8z"/>
<path fill="#75d2ed" d="M141.4 109.5H153.0V115.2H141.4zM176.1 109.5H181.9V115.2H176.1zM124.0 115.2H129.8V121.0H124.0zM205.1 121.0H210.9V126.8H205.1zM106.6 126.8H112.4V132.5H106.6zM210.9 126.8H216.7V132.5H210.9zM100.8 132.5H106.6V138.2H100.8zM95.0 161.2H100.8V167.0H95.0zM245.7 161.2H251.5V167.0H245.7zM274.7 184.2H280.5V190.0H274.7zM292.1 195.8H297.9V201.5H292.1zM135.6 201.5H141.4V207.2H135.6zM303.7 201.5H309.5V207.2H303.7zM309.5 207.2H315.3V213.0H309.5zM158.7 218.8H164.5V224.5H158.7zM181.9 236.0H187.7V241.8H181.9zM338.4 241.8H344.2V247.5H338.4zM344.2 247.5H350.0V253.2H344.2zM350.0 253.2H355.8V259.0H350.0zM210.9 259.0H216.7V264.8H210.9zM216.7 264.8H222.5V270.5H216.7zM367.4 282.0H373.2V287.8H367.4zM251.5 293.5H257.3V299.2H251.5zM379.0 299.2H384.8V305.0H379.0zM274.7 310.8H280.5V316.5H274.7zM402.2 322.2H408.0V328.0H402.2zM297.9 328.0H303.7V333.8H297.9zM408.0 328.0H413.8V333.8H408.0zM303.7 333.8H309.5V339.5H303.7zM413.8 333.8H419.6V339.5H413.8zM338.4 362.5H344.2V368.2H338.4zM431.2 368.2H437.0V374.0H431.2zM431.2 379.8H437.0V385.5H431.2zM437.0 391.2H442.8V397.0H437.0zM448.6 408.5H454.4V414.2H448.6zM466.0 425.8H471.8V431.5H466.0zM471.8 431.5H477.6V437.2H471.8zM483.4 448.8H489.2V454.5H483.4zM431.2 460.2H437.0V466.0H431.2zM489.2 460.2H495.0V466.0H489.2zM437.0 466.0H442.8V471.8H437.0zM495.0 477.5H500.8V483.2H495.0zM448.6 483.2H454.4V489.0H448.6zM500.8 489.0H506.6V494.8H500.8zM460.2 506.2H466.0V512.0H460.2zM506.6 506.2H512.3V512.0H506.6zM466.0 512.0H471.8V517.8H466.0zM477.6 529.2H483.4V535.0H477.6zM483.4 540.8H489.2V546.5H483.4zM489.2 552.2H495.0V558.0H489.2zM506.6 552.2H512.3V558.0H506.6zM495.0 558.0H512.3V563.8H495.0zM500.8 563.8H506.6V569.5H500.8z"/>
<path fill="#6fcfed" d="M153.0 109.5H176.1V115.2H153.0zM129.8 115.2H135.6V121.0H129.8zM193.5 115.2H199.3V121.0H193.5zM222.5 144.0H228.3V149.8H222.5zM228.3 149.8H234.1V155.5H228.3zM234.1 155.5H239.9V161.2H234.1zM251.5 167.0H257.3V172.8H251.5zM280.5 190.0H286.3V195.8H280.5zM129.8 195.8H135.6V201.5H129.8zM153.0 213.0H158.7V218.8H153.0zM309.5 213.0H315.3V218.8H309.5zM315.3 224.5H321.1V230.2H315.3zM321.1 230.2H326.9V236.0H321.1zM326.9 236.0H332.7V241.8H326.9zM332.7 241.8H338.4V247.5H332.7zM205.1 253.2H210.9V259.0H205.1zM355.8 264.8H361.6V270.5H355.8zM361.6 276.2H367.4V282.0H361.6zM245.7 287.8H251.5V293.5H245.7zM373.2 293.5H379.0V299.2H373.2zM268.9 305.0H274.7V310.8H268.9zM384.8 305.0H390.6V310.8H384.8zM390.6 310.8H396.4V316.5H390.6zM396.4 316.5H402.2V322.2H396.4zM292.1 322.2H297.9V328.0H292.1zM419.6 339.5H425.4V345.2H419.6zM431.2 351.0H437.0V356.8H431.2zM332.7 356.8H338.4V362.5H332.7zM431.2 362.5H437.0V368.2H431.2zM419.6 443.0H425.4V448.8H419.6zM477.6 443.0H483.4V448.8H477.6zM489.2 466.0H495.0V471.8H489.2zM442.8 471.8H448.6V477.5H442.8zM454.4 494.8H460.2V500.5H454.4zM500.8 494.8H506.6V500.5H500.8zM506.6 512.0H512.3V517.8H506.6zM471.8 517.8H477.6V523.5H471.8zM506.6 517.8H512.3V523.5H506.6zM477.6 523.5H483.4V529.2H477.6zM483.4 535.0H489.2V540.8H483.4zM506.6 535.0H512.3V540.8H506.6zM506.6 540.8H512.3V546.5H506.6zM489.2 546.5H495.0V552.2H489.2zM506.6 546.5H512.3V552.2H506.6zM495.0 552.2H506.6V558.0H495.0z"/>
<path fill="#69cbed" d="M135.6 115.2H147.2V121.0H135.6zM187.7 115.2H193.5V121.0H187.7zM118.2 121.0H124.0V126.8H118.2zM210.9 132.5H216.7V138.2H210.9zM216.7 138.2H222.5V144.0H216.7zM95.0 144.0H100.8V149.8H95.0zM95.0 149.8H100.8V155.5H95.0zM95.0 155.5H100.8V161.2H95.0zM239.9 161.2H245.7V167.0H239.9zM100.8 167.0H106.6V172.8H100.8zM257.3 172.8H263.1V178.5H257.3zM263.1 178.5H268.9V184.2H263.1zM268.9 184.2H274.7V190.0H268.9zM124.0 190.0H129.8V195.8H124.0zM286.3 195.8H292.1V201.5H286.3zM297.9 201.5H303.7V207.2H297.9zM303.7 207.2H309.5V213.0H303.7zM309.5 218.8H315.3V224.5H309.5zM176.1 230.2H181.9V236.0H176.1zM338.4 247.5H344.2V253.2H338.4zM344.2 253.2H350.0V259.0H344.2zM350.0 259.0H355.8V264.8H350.0zM355.8 270.5H361.6V276.2H355.8zM239.9 282.0H245.7V287.8H239.9zM367.4 287.8H373.2V293.5H367.4zM286.3 316.5H292.1V322.2H286.3zM408.0 333.8H413.8V339.5H408.0zM321.1 345.2H326.9V351.0H321.1zM425.4 345.2H431.2V351.0H425.4zM326.9 351.0H332.7V356.8H326.9zM431.2 356.8H437.0V362.5H431.2zM367.4 385.5H373.2V391.2H367.4zM431.2 385.5H437.0V391.2H431.2zM373.2 391.2H379.0V397.0H373.2zM379.0 397.0H384.8V402.8H379.0zM384.8 402.8H390.6V408.5H384.8zM442.8 402.8H448.6V408.5H442.8zM390.6 408.5H396.4V414.2H390.6zM396.4 414.2H402.2V420.0H396.4zM402.2 420.0H408.0V425.8H402.2zM408.0 425.8H413.8V431.5H408.0zM413.8 431.5H419.6V437.2H413.8zM471.8 437.2H477.6V443.0H471.8zM425.4 448.8H431.2V454.5H425.4zM483.4 454.5H489.2V460.2H483.4zM448.6 477.5H454.4V483.2H448.6zM495.0 483.2H500.8V489.0H495.0zM454.4 489.0H460.2V494.8H454.4zM460.2 500.5H466.0V506.2H460.2zM500.8 500.5H506.6V506.2H500.8zM506.6 523.5H512.3V529.2H506.6zM483.4 529.2H489.2V535.0H483.4zM506.6 529.2H512.3V535.0H506.6zM489.2 540.8H495.0V546.5H489.2zM500.8 540.8H506.6V546.5H500.8zM495.0 546.5H506.6V552.2H495.0z"/>
<path fill="#63c8ed" d="M147.2 115.2H164.5V121.0H147.2zM181.9 115.2H187.7V121.0H181.9zM124.0 121.0H129.8V126.8H124.0zM199.3 121.0H205.1V126.8H199.3zM112.4 126.8H118.2V132.5H112.4zM205.1 126.8H210.9V132.5H205.1zM245.7 167.0H251.5V172.8H245.7zM106.6 172.8H112.4V178.5H106.6zM112.4 178.5H118.2V184.2H112.4zM118.2 184.2H124.0V190.0H118.2zM274.7 190.0H280.5V195.8H274.7zM292.1 201.5H297.9V207.2H292.1zM147.2 207.2H153.0V213.0H147.2zM170.3 224.5H176.1V230.2H170.3zM315.3 230.2H321.1V236.0H315.3zM321.1 236.0H326.9V241.8H321.1zM199.3 247.5H205.1V253.2H199.3zM350.0 264.8H355.8V270.5H350.0zM234.1 276.2H239.9V282.0H234.1zM361.6 282.0H367.4V287.8H361.6zM263.1 299.2H268.9V305.0H263.1zM280.5 310.8H286.3V316.5H280.5zM402.2 328.0H408.0V333.8H402.2zM315.3 339.5H321.1V345.2H315.3zM413.8 339.5H419.6V345.2H413.8zM350.0 368.2H355.8V374.0H350.0zM355.8 374.0H361.6V379.8H355.8zM361.6 379.8H367.4V385.5H361.6zM448.6 414.2H454.4V420.0H448.6zM454.4 420.0H460.2V425.8H454.4zM460.2 425.8H466.0V431.5H460.2zM466.0 431.5H471.8V437.2H466.0zM419.6 437.2H425.4V443.0H419.6zM477.6 448.8H483.4V454.5H477.6zM431.2 454.5H437.0V460.2H431.2zM437.0 460.2H442.8V466.0H437.0zM483.4 460.2H489.2V466.0H483.4zM489.2 471.8H495.0V477.5H489.2zM495.0 489.0H500.8V494.8H495.0zM466.0 506.2H471.8V512.0H466.0zM500.8 506.2H506.6V512.0H500.8zM471.8 512.0H477.6V517.8H471.8zM477.6 517.8H483.4V523.5H477.6zM483.4 523.5H489.2V529.2H483.4zM500.8 529.2H506.6V535.0H500.8zM489.2 535.0H506.6V540.8H489.2zM495.0 540.8H500.8V546.5H495.0z"/>
<path fill="#5dc4ee" d="M164.5 115.2H181.9V121.0H164.5zM129.8 121.0H135.6V126.8H129.8zM106.6 132.5H112.4V138.2H106.6zM100.8 138.2H106.6V144.0H100.8zM216.7 144.0H222.5V149.8H216.7zM222.5 149.8H228.3V155.5H222.5zM228.3 155.5H234.1V161.2H228.3zM234.1 161.2H239.9V167.0H234.1zM280.5 195.8H286.3V201.5H280.5zM297.9 207.2H303.7V213.0H297.9zM303.7 213.0H309.5V218.8H303.7zM309.5 224.5H315.3V230.2H309.5zM193.5 241.8H199.3V247.5H193.5zM326.9 241.8H332.7V247.5H326.9zM332.7 247.5H338.4V253.2H332.7zM338.4 253.2H344.2V259.0H338.4zM344.2 259.0H350.0V264.8H344.2zM222.5 264.8H228.3V270.5H222.5zM228.3 270.5H234.1V276.2H228.3zM355.8 276.2H361.6V282.0H355.8zM257.3 293.5H263.1V299.2H257.3zM367.4 293.5H373.2V299.2H367.4zM373.2 299.2H379.0V305.0H373.2zM379.0 305.0H384.8V310.8H379.0zM384.8 310.8H390.6V316.5H384.8zM390.6 316.5H396.4V322.2H390.6zM396.4 322.2H402.2V328.0H396.4zM303.7 328.0H309.5V333.8H303.7zM309.5 333.8H315.3V339.5H309.5zM419.6 345.2H425.4V351.0H419.6zM425.4 351.0H431.2V356.8H425.4zM344.2 362.5H350.0V368.2H344.2zM425.4 368.2H431.2V374.0H425.4zM425.4 374.0H431.2V379.8H425.4zM437.0 397.0H442.8V402.8H437.0zM425.4 443.0H431.2V448.8H425.4zM471.8 443.0H477.6V448.8H471.8zM442.8 466.0H448.6V471.8H442.8zM489.2 477.5H495.0V483.2H489.2zM454.4 483.2H460.2V489.0H454.4zM460.2 494.8H466.0V500.5H460.2zM495.0 494.8H500.8V500.5H495.0zM466.0 500.5H471.8V506.2H466.0zM471.8 506.2H477.6V512.0H471.8zM477.6 512.0H483.4V517.8H477.6zM500.8 512.0H506.6V517.8H500.8zM483.4 517.8H489.2V523.5H483.4zM500.8 517.8H506.6V523.5H500.8zM489.2 523.5H506.6V529.2H489.2zM489.2 529.2H500.8V535.0H489.2z"/>
<path fill="#58c0ee" d="M135.6 121.0H158.7V126.8H135.6zM193.5 121.0H199.3V126.8H193.5zM118.2 126.8H124.0V132.5H118.2zM205.1 132.5H210.9V138.2H205.1zM210.9 138.2H216.7V144.0H210.9zM100.8 161.2H106.6V167.0H100.8zM239.9 167.0H245.7V172.8H239.9zM251.5 172.8H257.3V178.5H251.5zM257.3 178.5H263.1V184.2H257.3zM263.1 184.2H268.9V190.0H263.1zM268.9 190.0H274.7V195.8H268.9zM141.4 201.5H147.2V207.2H141.4zM286.3 201.5H292.1V207.2H286.3zM164.5 218.8H170.3V224.5H164.5zM303.7 218.8H309.5V224.5H303.7zM187.7 236.0H193.5V241.8H187.7zM216.7 259.0H222.5V264.8H216.7zM338.4 259.0H344.2V264.8H338.4zM344.2 264.8H350.0V270.5H344.2zM350.0 270.5H355.8V276.2H350.0zM361.6 287.8H367.4V293.5H361.6zM274.7 305.0H280.5V310.8H274.7zM297.9 322.2H303.7V328.0H297.9zM402.2 333.8H408.0V339.5H402.2zM408.0 339.5H413.8V345.2H408.0zM338.4 356.8H344.2V362.5H338.4zM425.4 356.8H431.2V362.5H425.4zM425.4 362.5H431.2V368.2H425.4zM425.4 379.8H431.2V385.5H425.4zM431.2 391.2H437.0V397.0H431.2zM442.8 408.5H448.6V414.2H442.8zM454.4 425.8H460.2V431.5H454.4zM466.0 437.2H471.8V443.0H466.0zM431.2 448.8H437.0V454.5H431.2zM437.0 454.5H442.8V460.2H437.0zM477.6 454.5H483.4V460.2H477.6zM483.4 466.0H489.2V471.8H483.4zM448.6 471.8H454.4V477.5H448.6zM489.2 483.2H495.0V489.0H489.2zM460.2 489.0H466.0V494.8H460.2zM489.2 489.0H495.0V494.8H489.2zM495.0 500.5H500.8V506.2H495.0zM495.0 506.2H500.8V512.0H495.0zM483.4 512.0H489.2V517.8H483.4zM495.0 512.0H500.8V517.8H495.0zM489.2 517.8H500.8V523.5H489.2z"/>
<path fill="#52bcee" d="M158.7 121.0H164.5V126.8H158.7zM187.7 121.0H193.5V126.8H187.7zM124.0 126.8H129.8V132.5H124.0zM199.3 126.8H205.1V132.5H199.3zM112.4 132.5H118.2V138.2H112.4zM100.8 144.0H106.6V149.8H100.8zM228.3 161.2H234.1V167.0H228.3zM234.1 167.0H239.9V172.8H234.1zM245.7 172.8H251.5V178.5H245.7zM135.6 195.8H141.4V201.5H135.6zM274.7 195.8H280.5V201.5H274.7zM292.1 207.2H297.9V213.0H292.1zM297.9 213.0H303.7V218.8H297.9zM309.5 230.2H315.3V236.0H309.5zM315.3 236.0H321.1V241.8H315.3zM321.1 241.8H326.9V247.5H321.1zM326.9 247.5H332.7V253.2H326.9zM332.7 253.2H338.4V259.0H332.7zM355.8 282.0H361.6V287.8H355.8zM251.5 287.8H257.3V293.5H251.5zM268.9 299.2H274.7V305.0H268.9zM292.1 316.5H297.9V322.2H292.1zM396.4 328.0H402.2V333.8H396.4zM413.8 345.2H419.6V351.0H413.8zM332.7 351.0H338.4V356.8H332.7zM419.6 351.0H425.4V356.8H419.6zM390.6 402.8H396.4V408.5H390.6zM396.4 408.5H402.2V414.2H396.4zM402.2 414.2H408.0V420.0H402.2zM408.0 420.0H413.8V425.8H408.0zM448.6 420.0H454.4V425.8H448.6zM413.8 425.8H419.6V431.5H413.8zM419.6 431.5H425.4V437.2H419.6zM460.2 431.5H466.0V437.2H460.2zM471.8 448.8H477.6V454.5H471.8zM442.8 460.2H448.6V466.0H442.8zM477.6 460.2H483.4V466.0H477.6zM483.4 471.8H489.2V477.5H483.4zM454.4 477.5H460.2V483.2H454.4zM483.4 477.5H489.2V483.2H483.4zM466.0 494.8H471.8V500.5H466.0zM489.2 494.8H495.0V500.5H489.2zM471.8 500.5H477.6V506.2H471.8zM489.2 500.5H495.0V506.2H489.2zM477.6 506.2H495.0V512.0H477.6zM489.2 512.0H495.0V517.8H489.2z"/>
<path fill="#4cb8ee" d="M164.5 121.0H187.7V126.8H164.5zM129.8 126.8H153.0V132.5H129.8zM106.6 138.2H112.4V144.0H106.6zM205.1 138.2H210.9V144.0H205.1zM210.9 144.0H216.7V149.8H210.9zM100.8 149.8H106.6V155.5H100.8zM216.7 149.8H222.5V155.5H216.7zM100.8 155.5H106.6V161.2H100.8zM222.5 155.5H228.3V161.2H222.5zM106.6 167.0H112.4V172.8H106.6zM251.5 178.5H257.3V184.2H251.5zM129.8 190.0H135.6V195.8H129.8zM263.1 190.0H268.9V195.8H263.1zM280.5 201.5H286.3V207.2H280.5zM158.7 213.0H164.5V218.8H158.7zM303.7 224.5H309.5V230.2H303.7zM181.9 230.2H187.7V236.0H181.9zM210.9 253.2H216.7V259.0H210.9zM332.7 259.0H338.4V264.8H332.7zM338.4 264.8H344.2V270.5H338.4zM344.2 270.5H350.0V276.2H344.2zM239.9 276.2H245.7V282.0H239.9zM350.0 276.2H355.8V282.0H350.0zM245.7 282.0H251.5V287.8H245.7zM286.3 310.8H292.1V316.5H286.3zM390.6 322.2H396.4V328.0H390.6zM321.1 339.5H326.9V345.2H321.1zM402.2 339.5H408.0V345.2H402.2zM326.9 345.2H332.7V351.0H326.9zM408.0 345.2H413.8V351.0H408.0zM419.6 356.8H425.4V362.5H419.6zM361.6 374.0H367.4V379.8H361.6zM367.4 379.8H373.2V385.5H367.4zM373.2 385.5H379.0V391.2H373.2zM379.0 391.2H384.8V397.0H379.0zM384.8 397.0H390.6V402.8H384.8zM437.0 402.8H442.8V408.5H437.0zM442.8 414.2H448.6V420.0H442.8zM425.4 437.2H431.2V443.0H425.4zM431.2 443.0H437.0V448.8H431.2zM466.0 443.0H471.8V448.8H466.0zM437.0 448.8H442.8V454.5H437.0zM448.6 466.0H454.4V471.8H448.6zM477.6 466.0H483.4V471.8H477.6zM454.4 471.8H460.2V477.5H454.4zM460.2 483.2H466.0V489.0H460.2zM483.4 483.2H489.2V489.0H483.4zM466.0 489.0H471.8V494.8H466.0zM483.4 489.0H489.2V494.8H483.4zM471.8 494.8H477.6V500.5H471.8zM483.4 494.8H489.2V500.5H483.4zM477.6 500.5H489.2V506.2H477.6z"/>
<path fill="#47b3ee" d="M153.0 126.8H164.5V132.5H153.0zM193.5 126.8H199.3V132.5H193.5zM118.2 132.5H124.0V138.2H118.2zM199.3 132.5H205.1V138.2H199.3zM222.5 161.2H228.3V167.0H222.5zM228.3 167.0H234.1V172.8H228.3zM112.4 172.8H118.2V178.5H112.4zM239.9 172.8H245.7V178.5H239.9zM118.2 178.5H124.0V184.2H118.2zM124.0 184.2H129.8V190.0H124.0zM257.3 184.2H263.1V190.0H257.3zM268.9 195.8H274.7V201.5H268.9zM274.7 201.5H280.5V207.2H274.7zM286.3 207.2H292.1V213.0H286.3zM292.1 213.0H297.9V218.8H292.1zM297.9 218.8H303.7V224.5H297.9zM176.1 224.5H181.9V230.2H176.1zM309.5 236.0H315.3V241.8H309.5zM315.3 241.8H321.1V247.5H315.3zM205.1 247.5H210.9V253.2H205.1zM321.1 247.5H326.9V253.2H321.1zM326.9 253.2H332.7V259.0H326.9zM234.1 270.5H239.9V276.2H234.1zM263.1 293.5H268.9V299.2H263.1zM361.6 293.5H367.4V299.2H361.6zM367.4 299.2H373.2V305.0H367.4zM280.5 305.0H286.3V310.8H280.5zM373.2 305.0H379.0V310.8H373.2zM379.0 310.8H384.8V316.5H379.0zM384.8 316.5H390.6V322.2H384.8zM309.5 328.0H315.3V333.8H309.5zM315.3 333.8H321.1V339.5H315.3zM396.4 333.8H402.2V339.5H396.4zM413.8 351.0H419.6V356.8H413.8zM350.0 362.5H355.8V368.2H350.0zM419.6 362.5H425.4V368.2H419.6zM355.8 368.2H361.6V374.0H355.8zM419.6 368.2H425.4V374.0H419.6zM425.4 385.5H431.2V391.2H425.4zM431.2 397.0H437.0V402.8H431.2zM448.6 425.8H454.4V431.5H448.6zM454.4 431.5H460.2V437.2H454.4zM460.2 437.2H466.0V443.0H460.2zM442.8 454.5H448.6V460.2H442.8zM471.8 454.5H477.6V460.2H471.8zM448.6 460.2H454.4V466.0H448.6zM477.6 471.8H483.4V477.5H477.6zM460.2 477.5H466.0V483.2H460.2zM477.6 477.5H483.4V483.2H477.6zM466.0 483.2H471.8V489.0H466.0zM477.6 483.2H483.4V489.0H477.6zM471.8 489.0H483.4V494.8H471.8zM477.6 494.8H483.4V500.5H477.6z"/>
<path fill="#42aded" d="M164.5 126.8H170.3V132.5H164.5zM187.7 126.8H193.5V132.5H187.7zM124.0 132.5H129.8V138.2H124.0zM147.2 132.5H158.7V138.2H147.2zM112.4 138.2H118.2V144.0H112.4zM199.3 138.2H205.1V144.0H199.3zM106.6 144.0H112.4V149.8H106.6zM205.1 144.0H210.9V149.8H205.1zM210.9 149.8H216.7V155.5H210.9zM216.7 155.5H222.5V161.2H216.7zM234.1 172.8H239.9V178.5H234.1zM245.7 178.5H251.5V184.2H245.7zM251.5 184.2H257.3V190.0H251.5zM257.3 190.0H263.1V195.8H257.3zM263.1 195.8H268.9V201.5H263.1zM268.9 201.5H274.7V207.2H268.9zM153.0 207.2H158.7V213.0H153.0zM280.5 207.2H286.3V213.0H280.5zM297.9 224.5H303.7V230.2H297.9zM303.7 230.2H309.5V236.0H303.7zM199.3 241.8H205.1V247.5H199.3zM326.9 259.0H332.7V264.8H326.9zM228.3 264.8H234.1V270.5H228.3zM332.7 264.8H338.4V270.5H332.7zM338.4 270.5H344.2V276.2H338.4zM344.2 276.2H350.0V282.0H344.2zM350.0 282.0H355.8V287.8H350.0zM257.3 287.8H263.1V293.5H257.3zM355.8 287.8H361.6V293.5H355.8zM303.7 322.2H309.5V328.0H303.7zM390.6 328.0H396.4V333.8H390.6zM402.2 345.2H408.0V351.0H402.2zM408.0 351.0H413.8V356.8H408.0zM344.2 356.8H350.0V362.5H344.2zM413.8 356.8H419.6V362.5H413.8zM419.6 374.0H425.4V379.8H419.6zM437.0 408.5H442.8V414.2H437.0zM408.0 414.2H413.8V420.0H408.0zM413.8 420.0H419.6V425.8H413.8zM442.8 420.0H448.6V425.8H442.8zM419.6 425.8H425.4V431.5H419.6zM425.4 431.5H431.2V437.2H425.4zM431.2 437.2H437.0V443.0H431.2zM454.4 437.2H460.2V443.0H454.4zM437.0 443.0H442.8V448.8H437.0zM460.2 443.0H466.0V448.8H460.2zM442.8 448.8H448.6V454.5H442.8zM466.0 448.8H471.8V454.5H466.0zM448.6 454.5H454.4V460.2H448.6zM471.8 460.2H477.6V466.0H471.8zM454.4 466.0H460.2V471.8H454.4zM471.8 466.0H477.6V471.8H471.8zM460.2 471.8H466.0V477.5H460.2zM471.8 471.8H477.6V477.5H471.8zM466.0 477.5H477.6V483.2H466.0zM471.8 483.2H477.6V489.0H471.8z"/>
<path fill="#3da8ed" d="M170.3 126.8H187.7V132.5H170.3zM129.8 132.5H147.2V138.2H129.8zM158.7 132.5H164.5V138.2H158.7zM193.5 132.5H199.3V138.2H193.5zM199.3 144.0H205.1V149.8H199.3zM205.1 149.8H210.9V155.5H205.1zM106.6 161.2H112.4V167.0H106.6zM216.7 161.2H222.5V167.0H216.7zM222.5 167.0H228.3V172.8H222.5zM228.3 172.8H234.1V178.5H228.3zM234.1 178.5H245.7V184.2H234.1zM147.2 201.5H153.0V207.2H147.2zM263.1 201.5H268.9V207.2H263.1zM274.7 207.2H280.5V213.0H274.7zM286.3 213.0H292.1V218.8H286.3zM170.3 218.8H176.1V224.5H170.3zM292.1 218.8H297.9V224.5H292.1zM297.9 230.2H303.7V236.0H297.9zM303.7 236.0H309.5V241.8H303.7zM309.5 241.8H315.3V247.5H309.5zM315.3 247.5H321.1V253.2H315.3zM321.1 253.2H326.9V259.0H321.1zM222.5 259.0H228.3V264.8H222.5zM274.7 299.2H280.5V305.0H274.7zM297.9 316.5H303.7V322.2H297.9zM396.4 339.5H402.2V345.2H396.4zM332.7 345.2H338.4V351.0H332.7zM338.4 351.0H344.2V356.8H338.4zM413.8 362.5H419.6V368.2H413.8zM419.6 379.8H425.4V385.5H419.6zM425.4 391.2H431.2V397.0H425.4zM396.4 402.8H402.2V408.5H396.4zM402.2 408.5H408.0V414.2H402.2zM442.8 425.8H448.6V431.5H442.8zM448.6 431.5H454.4V437.2H448.6zM437.0 437.2H442.8V443.0H437.0zM448.6 437.2H454.4V443.0H448.6zM442.8 443.0H448.6V448.8H442.8zM454.4 443.0H460.2V448.8H454.4zM448.6 448.8H454.4V454.5H448.6zM460.2 448.8H466.0V454.5H460.2zM454.4 454.5H471.8V460.2H454.4zM454.4 460.2H471.8V466.0H454.4zM460.2 466.0H471.8V471.8H460.2zM466.0 471.8H471.8V477.5H466.0z"/>
<path fill="#38a3ed" d="M164.5 132.5H176.1V138.2H164.5zM187.7 132.5H193.5V138.2H187.7zM118.2 138.2H124.0V144.0H118.2zM141.4 138.2H164.5V144.0H141.4zM193.5 138.2H199.3V144.0H193.5zM106.6 149.8H112.4V155.5H106.6zM199.3 149.8H205.1V155.5H199.3zM106.6 155.5H112.4V161.2H106.6zM205.1 155.5H216.7V161.2H205.1zM112.4 167.0H118.2V172.8H112.4zM216.7 167.0H222.5V172.8H216.7zM216.7 172.8H228.3V178.5H216.7zM222.5 178.5H234.1V184.2H222.5zM234.1 184.2H251.5V190.0H234.1zM251.5 190.0H257.3V195.8H251.5zM257.3 195.8H263.1V201.5H257.3zM257.3 201.5H263.1V207.2H257.3zM263.1 207.2H274.7V213.0H263.1zM274.7 213.0H286.3V218.8H274.7zM286.3 218.8H292.1V224.5H286.3zM292.1 224.5H297.9V230.2H292.1zM193.5 236.0H199.3V241.8H193.5zM216.7 253.2H222.5V259.0H216.7zM326.9 264.8H332.7V270.5H326.9zM251.5 282.0H257.3V287.8H251.5zM367.4 305.0H373.2V310.8H367.4zM292.1 310.8H297.9V316.5H292.1zM379.0 316.5H384.8V322.2H379.0zM384.8 322.2H390.6V328.0H384.8zM326.9 339.5H332.7V345.2H326.9zM408.0 356.8H413.8V362.5H408.0zM413.8 368.2H419.6V374.0H413.8zM373.2 379.8H379.0V385.5H373.2zM379.0 385.5H384.8V391.2H379.0zM384.8 391.2H390.6V397.0H384.8zM390.6 397.0H396.4V402.8H390.6zM431.2 402.8H437.0V408.5H431.2zM437.0 414.2H442.8V420.0H437.0zM425.4 425.8H431.2V431.5H425.4zM431.2 431.5H448.6V437.2H431.2zM442.8 437.2H448.6V443.0H442.8zM448.6 443.0H454.4V448.8H448.6zM454.4 448.8H460.2V454.5H454.4z"/>
<path fill="#339dec" d="M176.1 132.5H187.7V138.2H176.1zM124.0 138.2H141.4V144.0H124.0zM164.5 138.2H176.1V144.0H164.5zM187.7 138.2H193.5V144.0H187.7zM112.4 144.0H118.2V149.8H112.4zM147.2 144.0H170.3V149.8H147.2zM187.7 144.0H199.3V149.8H187.7zM164.5 149.8H170.3V155.5H164.5zM187.7 149.8H199.3V155.5H187.7zM181.9 155.5H205.1V161.2H181.9zM187.7 161.2H216.7V167.0H187.7zM199.3 167.0H216.7V172.8H199.3zM118.2 172.8H124.0V178.5H118.2zM205.1 172.8H216.7V178.5H205.1zM210.9 178.5H222.5V184.2H210.9zM216.7 184.2H234.1V190.0H216.7zM135.6 190.0H141.4V195.8H135.6zM228.3 190.0H251.5V195.8H228.3zM141.4 195.8H147.2V201.5H141.4zM239.9 195.8H257.3V201.5H239.9zM245.7 201.5H257.3V207.2H245.7zM251.5 207.2H263.1V213.0H251.5zM164.5 213.0H170.3V218.8H164.5zM263.1 213.0H274.7V218.8H263.1zM274.7 218.8H286.3V224.5H274.7zM286.3 224.5H292.1V230.2H286.3zM187.7 230.2H193.5V236.0H187.7zM292.1 230.2H297.9V236.0H292.1zM297.9 236.0H303.7V241.8H297.9zM303.7 241.8H309.5V247.5H303.7zM309.5 247.5H315.3V253.2H309.5zM315.3 253.2H321.1V259.0H315.3zM321.1 259.0H326.9V264.8H321.1zM332.7 270.5H338.4V276.2H332.7zM245.7 276.2H251.5V282.0H245.7zM338.4 276.2H344.2V282.0H338.4zM344.2 282.0H350.0V287.8H344.2zM350.0 287.8H355.8V293.5H350.0zM268.9 293.5H274.7V299.2H268.9zM355.8 293.5H361.6V299.2H355.8zM361.6 299.2H367.4V305.0H361.6zM286.3 305.0H292.1V310.8H286.3zM373.2 310.8H379.0V316.5H373.2zM321.1 333.8H326.9V339.5H321.1zM390.6 333.8H396.4V339.5H390.6zM396.4 345.2H402.2V351.0H396.4zM402.2 351.0H408.0V356.8H402.2zM355.8 362.5H361.6V368.2H355.8zM361.6 368.2H367.4V374.0H361.6zM367.4 374.0H373.2V379.8H367.4zM419.6 385.5H425.4V391.2H419.6zM425.4 397.0H431.2V402.8H425.4zM431.2 408.5H437.0V414.2H431.2zM413.8 414.2H419.6V420.0H413.8zM419.6 420.0H425.4V425.8H419.6zM437.0 420.0H442.8V425.8H437.0zM431.2 425.8H442.8V431.5H431.2z"/>
<path fill="#2e98ec" d="M176.1 138.2H187.7V144.0H176.1zM141.4 144.0H147.2V149.8H141.4zM170.3 144.0H187.7V149.8H170.3zM153.0 149.8H164.5V155.5H153.0zM170.3 149.8H187.7V155.5H170.3zM164.5 155.5H181.9V161.2H164.5zM112.4 161.2H118.2V167.0H112.4zM176.1 161.2H187.7V167.0H176.1zM187.7 167.0H199.3V172.8H187.7zM193.5 172.8H205.1V178.5H193.5zM124.0 178.5H129.8V184.2H124.0zM205.1 178.5H210.9V184.2H205.1zM129.8 184.2H135.6V190.0H129.8zM210.9 184.2H216.7V190.0H210.9zM216.7 190.0H228.3V195.8H216.7zM228.3 195.8H239.9V201.5H228.3zM239.9 201.5H245.7V207.2H239.9zM245.7 207.2H251.5V213.0H245.7zM251.5 213.0H263.1V218.8H251.5zM263.1 218.8H274.7V224.5H263.1zM274.7 224.5H286.3V230.2H274.7zM280.5 230.2H292.1V236.0H280.5zM292.1 236.0H297.9V241.8H292.1zM297.9 241.8H303.7V247.5H297.9zM210.9 247.5H216.7V253.2H210.9zM303.7 247.5H309.5V253.2H303.7zM239.9 270.5H245.7V276.2H239.9zM263.1 287.8H268.9V293.5H263.1zM280.5 299.2H286.3V305.0H280.5zM309.5 322.2H315.3V328.0H309.5zM315.3 328.0H321.1V333.8H315.3zM384.8 328.0H390.6V333.8H384.8zM344.2 351.0H350.0V356.8H344.2zM350.0 356.8H355.8V362.5H350.0zM408.0 362.5H413.8V368.2H408.0zM413.8 374.0H419.6V379.8H413.8zM402.2 402.8H408.0V408.5H402.2zM408.0 408.5H413.8V414.2H408.0zM431.2 414.2H437.0V420.0H431.2zM425.4 420.0H437.0V425.8H425.4z"/>
<path fill="#2b94ec" d="M118.2 144.0H141.4V149.8H118.2zM112.4 149.8H118.2V155.5H112.4zM147.2 149.8H153.0V155.5H147.2zM112.4 155.5H118.2V161.2H112.4zM158.7 155.5H164.5V161.2H158.7zM170.3 161.2H176.1V167.0H170.3zM181.9 167.0H187.7V172.8H181.9zM199.3 178.5H205.1V184.2H199.3zM205.1 184.2H210.9V190.0H205.1zM222.5 195.8H228.3V201.5H222.5zM234.1 201.5H239.9V207.2H234.1zM158.7 207.2H164.5V213.0H158.7zM239.9 207.2H245.7V213.0H239.9zM257.3 218.8H263.1V224.5H257.3zM181.9 224.5H187.7V230.2H181.9zM268.9 224.5H274.7V230.2H268.9zM274.7 230.2H280.5V236.0H274.7zM286.3 236.0H292.1V241.8H286.3zM205.1 241.8H210.9V247.5H205.1zM292.1 241.8H297.9V247.5H292.1zM309.5 253.2H315.3V259.0H309.5zM315.3 259.0H321.1V264.8H315.3zM234.1 264.8H239.9V270.5H234.1zM321.1 264.8H326.9V270.5H321.1zM326.9 270.5H332.7V276.2H326.9zM257.3 282.0H263.1V287.8H257.3zM303.7 316.5H309.5V322.2H303.7zM379.0 322.2H384.8V328.0H379.0zM390.6 339.5H396.4V345.2H390.6zM338.4 345.2H344.2V351.0H338.4zM402.2 356.8H408.0V362.5H402.2zM419.6 391.2H425.4V397.0H419.6zM396.4 397.0H402.2V402.8H396.4zM425.4 402.8H431.2V408.5H425.4zM413.8 408.5H419.6V414.2H413.8zM425.4 408.5H431.2V414.2H425.4zM419.6 414.2H431.2V420.0H419.6z"/>
<path fill="#288feb" d="M118.2 149.8H124.0V155.5H118.2zM141.4 149.8H147.2V155.5H141.4zM153.0 155.5H158.7V161.2H153.0zM118.2 167.0H124.0V172.8H118.2zM176.1 167.0H181.9V172.8H176.1zM187.7 172.8H193.5V178.5H187.7zM193.5 178.5H199.3V184.2H193.5zM210.9 190.0H216.7V195.8H210.9zM153.0 201.5H158.7V207.2H153.0zM228.3 201.5H234.1V207.2H228.3zM245.7 213.0H251.5V218.8H245.7zM176.1 218.8H181.9V224.5H176.1zM251.5 218.8H257.3V224.5H251.5zM263.1 224.5H268.9V230.2H263.1zM199.3 236.0H205.1V241.8H199.3zM280.5 236.0H286.3V241.8H280.5zM297.9 247.5H303.7V253.2H297.9zM228.3 259.0H234.1V264.8H228.3zM332.7 276.2H338.4V282.0H332.7zM338.4 282.0H344.2V287.8H338.4zM274.7 293.5H280.5V299.2H274.7zM355.8 299.2H361.6V305.0H355.8zM361.6 305.0H367.4V310.8H361.6zM297.9 310.8H303.7V316.5H297.9zM367.4 310.8H373.2V316.5H367.4zM373.2 316.5H379.0V322.2H373.2zM384.8 333.8H390.6V339.5H384.8zM332.7 339.5H338.4V345.2H332.7zM396.4 351.0H402.2V356.8H396.4zM408.0 368.2H413.8V374.0H408.0zM373.2 374.0H379.0V379.8H373.2zM379.0 379.8H384.8V385.5H379.0zM413.8 379.8H419.6V385.5H413.8zM384.8 385.5H390.6V391.2H384.8zM390.6 391.2H396.4V397.0H390.6zM419.6 397.0H425.4V402.8H419.6zM408.0 402.8H413.8V408.5H408.0zM419.6 408.5H425.4V414.2H419.6z"/>
<path fill="#258beb" d="M124.0 149.8H141.4V155.5H124.0zM118.2 155.5H124.0V161.2H118.2zM147.2 155.5H153.0V161.2H147.2zM118.2 161.2H124.0V167.0H118.2zM164.5 161.2H170.3V167.0H164.5zM124.0 172.8H129.8V178.5H124.0zM181.9 172.8H187.7V178.5H181.9zM199.3 184.2H205.1V190.0H199.3zM216.7 195.8H222.5V201.5H216.7zM222.5 201.5H228.3V207.2H222.5zM234.1 207.2H239.9V213.0H234.1zM239.9 213.0H245.7V218.8H239.9zM257.3 224.5H263.1V230.2H257.3zM268.9 230.2H274.7V236.0H268.9zM274.7 236.0H280.5V241.8H274.7zM286.3 241.8H292.1V247.5H286.3zM292.1 247.5H297.9V253.2H292.1zM222.5 253.2H228.3V259.0H222.5zM303.7 253.2H309.5V259.0H303.7zM309.5 259.0H315.3V264.8H309.5zM251.5 276.2H257.3V282.0H251.5zM268.9 287.8H274.7V293.5H268.9zM344.2 287.8H350.0V293.5H344.2zM350.0 293.5H355.8V299.2H350.0zM292.1 305.0H297.9V310.8H292.1zM321.1 328.0H326.9V333.8H321.1zM326.9 333.8H332.7V339.5H326.9zM390.6 345.2H396.4V351.0H390.6zM355.8 356.8H361.6V362.5H355.8zM361.6 362.5H367.4V368.2H361.6zM402.2 362.5H408.0V368.2H402.2zM367.4 368.2H373.2V374.0H367.4zM413.8 385.5H419.6V391.2H413.8zM402.2 397.0H408.0V402.8H402.2zM413.8 402.8H425.4V408.5H413.8z"/>
<path fill="#2286eb" d="M141.4 155.5H147.2V161.2H141.4zM158.7 161.2H164.5V167.0H158.7zM170.3 167.0H176.1V172.8H170.3zM129.8 178.5H135.6V184.2H129.8zM187.7 178.5H193.5V184.2H187.7zM135.6 184.2H141.4V190.0H135.6zM141.4 190.0H147.2V195.8H141.4zM205.1 190.0H210.9V195.8H205.1zM147.2 195.8H153.0V201.5H147.2zM228.3 207.2H234.1V213.0H228.3zM170.3 213.0H176.1V218.8H170.3zM245.7 218.8H251.5V224.5H245.7zM193.5 230.2H199.3V236.0H193.5zM263.1 230.2H268.9V236.0H263.1zM280.5 241.8H286.3V247.5H280.5zM216.7 247.5H222.5V253.2H216.7zM315.3 264.8H321.1V270.5H315.3zM245.7 270.5H251.5V276.2H245.7zM321.1 270.5H326.9V276.2H321.1zM286.3 299.2H292.1V305.0H286.3zM315.3 322.2H321.1V328.0H315.3zM379.0 328.0H384.8V333.8H379.0zM350.0 351.0H355.8V356.8H350.0zM396.4 356.8H402.2V362.5H396.4zM408.0 374.0H413.8V379.8H408.0zM396.4 391.2H402.2V397.0H396.4zM413.8 391.2H419.6V397.0H413.8zM408.0 397.0H419.6V402.8H408.0z"/>
<path fill="#1e82ea" d="M124.0 155.5H141.4V161.2H124.0zM124.0 161.2H129.8V167.0H124.0zM153.0 161.2H158.7V167.0H153.0zM124.0 167.0H129.8V172.8H124.0zM193.5 184.2H199.3V190.0H193.5zM210.9 195.8H216.7V201.5H210.9zM164.5 207.2H170.3V213.0H164.5zM187.7 224.5H193.5V230.2H187.7zM251.5 224.5H257.3V230.2H251.5zM268.9 236.0H274.7V241.8H268.9zM210.9 241.8H216.7V247.5H210.9zM286.3 247.5H292.1V253.2H286.3zM297.9 253.2H303.7V259.0H297.9zM239.9 264.8H245.7V270.5H239.9zM326.9 276.2H332.7V282.0H326.9zM263.1 282.0H268.9V287.8H263.1zM332.7 282.0H338.4V287.8H332.7zM280.5 293.5H286.3V299.2H280.5zM303.7 310.8H309.5V316.5H303.7zM309.5 316.5H315.3V322.2H309.5zM373.2 322.2H379.0V328.0H373.2zM384.8 339.5H390.6V345.2H384.8zM344.2 345.2H350.0V351.0H344.2zM390.6 351.0H396.4V356.8H390.6zM402.2 368.2H408.0V374.0H402.2zM384.8 379.8H390.6V385.5H384.8zM408.0 379.8H413.8V385.5H408.0zM390.6 385.5H396.4V391.2H390.6zM402.2 391.2H413.8V397.0H402.2z"/>
<path fill="#1b7eea" d="M147.2 161.2H153.0V167.0H147.2zM164.5 167.0H170.3V172.8H164.5zM129.8 172.8H135.6V178.5H129.8zM176.1 172.8H181.9V178.5H176.1zM199.3 190.0H205.1V195.8H199.3zM216.7 201.5H222.5V207.2H216.7zM234.1 213.0H239.9V218.8H234.1zM257.3 230.2H263.1V236.0H257.3zM274.7 241.8H280.5V247.5H274.7zM234.1 259.0H239.9V264.8H234.1zM303.7 259.0H309.5V264.8H303.7zM309.5 264.8H315.3V270.5H309.5zM257.3 276.2H263.1V282.0H257.3zM338.4 287.8H344.2V293.5H338.4zM344.2 293.5H350.0V299.2H344.2zM350.0 299.2H355.8V305.0H350.0zM297.9 305.0H303.7V310.8H297.9zM355.8 305.0H361.6V310.8H355.8zM361.6 310.8H367.4V316.5H361.6zM367.4 316.5H373.2V322.2H367.4zM332.7 333.8H338.4V339.5H332.7zM379.0 333.8H384.8V339.5H379.0zM338.4 339.5H344.2V345.2H338.4zM367.4 362.5H373.2V368.2H367.4zM396.4 362.5H402.2V368.2H396.4zM373.2 368.2H379.0V374.0H373.2zM379.0 374.0H384.8V379.8H379.0zM408.0 385.5H413.8V391.2H408.0z"/>
<path fill="#1979e9" d="M129.8 161.2H147.2V167.0H129.8zM129.8 167.0H135.6V172.8H129.8zM181.9 178.5H187.7V184.2H181.9zM205.1 195.8H210.9V201.5H205.1zM158.7 201.5H164.5V207.2H158.7zM222.5 207.2H228.3V213.0H222.5zM181.9 218.8H187.7V224.5H181.9zM239.9 218.8H245.7V224.5H239.9zM205.1 236.0H210.9V241.8H205.1zM228.3 253.2H234.1V259.0H228.3zM292.1 253.2H297.9V259.0H292.1zM251.5 270.5H257.3V276.2H251.5zM315.3 270.5H321.1V276.2H315.3zM321.1 276.2H326.9V282.0H321.1zM274.7 287.8H280.5V293.5H274.7zM292.1 299.2H297.9V305.0H292.1zM326.9 328.0H332.7V333.8H326.9zM384.8 345.2H390.6V351.0H384.8zM355.8 351.0H361.6V356.8H355.8zM361.6 356.8H367.4V362.5H361.6zM390.6 356.8H396.4V362.5H390.6zM402.2 374.0H408.0V379.8H402.2zM390.6 379.8H396.4V385.5H390.6zM402.2 379.8H408.0V385.5H402.2zM396.4 385.5H408.0V391.2H396.4z"/>
<path fill="#1773e8" d="M158.7 167.0H164.5V172.8H158.7zM170.3 172.8H176.1V178.5H170.3zM135.6 178.5H141.4V184.2H135.6zM141.4 184.2H147.2V190.0H141.4zM187.7 184.2H193.5V190.0H187.7zM153.0 195.8H158.7V201.5H153.0zM210.9 201.5H216.7V207.2H210.9zM176.1 213.0H181.9V218.8H176.1zM228.3 213.0H234.1V218.8H228.3zM245.7 224.5H251.5V230.2H245.7zM199.3 230.2H205.1V236.0H199.3zM263.1 236.0H268.9V241.8H263.1zM222.5 247.5H228.3V253.2H222.5zM280.5 247.5H286.3V253.2H280.5zM297.9 259.0H303.7V264.8H297.9zM245.7 264.8H251.5V270.5H245.7zM268.9 282.0H274.7V287.8H268.9zM326.9 282.0H332.7V287.8H326.9zM286.3 293.5H292.1V299.2H286.3zM315.3 316.5H321.1V322.2H315.3zM321.1 322.2H326.9V328.0H321.1zM373.2 328.0H379.0V333.8H373.2zM379.0 339.5H384.8V345.2H379.0zM350.0 345.2H355.8V351.0H350.0zM384.8 351.0H390.6V356.8H384.8zM379.0 368.2H384.8V374.0H379.0zM396.4 368.2H402.2V374.0H396.4zM384.8 374.0H390.6V379.8H384.8zM396.4 374.0H402.2V379.8H396.4zM396.4 379.8H402.2V385.5H396.4z"/>
<path fill="#146ee6" d="M135.6 167.0H141.4V172.8H135.6zM153.0 167.0H158.7V172.8H153.0zM135.6 172.8H141.4V178.5H135.6zM176.1 178.5H181.9V184.2H176.1zM147.2 190.0H153.0V195.8H147.2zM193.5 190.0H199.3V195.8H193.5zM170.3 207.2H176.1V213.0H170.3zM216.7 207.2H222.5V213.0H216.7zM234.1 218.8H239.9V224.5H234.1zM193.5 224.5H199.3V230.2H193.5zM251.5 230.2H257.3V236.0H251.5zM216.7 241.8H222.5V247.5H216.7zM268.9 241.8H274.7V247.5H268.9zM286.3 253.2H292.1V259.0H286.3zM239.9 259.0H245.7V264.8H239.9zM303.7 264.8H309.5V270.5H303.7zM263.1 276.2H268.9V282.0H263.1zM280.5 287.8H286.3V293.5H280.5zM332.7 287.8H338.4V293.5H332.7zM303.7 305.0H309.5V310.8H303.7zM350.0 305.0H355.8V310.8H350.0zM309.5 310.8H315.3V316.5H309.5zM355.8 310.8H361.6V316.5H355.8zM361.6 316.5H367.4V322.2H361.6zM367.4 322.2H373.2V328.0H367.4zM338.4 333.8H344.2V339.5H338.4zM373.2 333.8H379.0V339.5H373.2zM344.2 339.5H350.0V345.2H344.2zM367.4 356.8H373.2V362.5H367.4zM373.2 362.5H379.0V368.2H373.2zM390.6 362.5H396.4V368.2H390.6zM384.8 368.2H396.4V374.0H384.8zM390.6 374.0H396.4V379.8H390.6z"/>
<path fill="#1268e4" d="M141.4 167.0H153.0V172.8H141.4zM164.5 172.8H170.3V178.5H164.5zM181.9 184.2H187.7V190.0H181.9zM199.3 195.8H205.1V201.5H199.3zM222.5 213.0H228.3V218.8H222.5zM187.7 218.8H193.5V224.5H187.7zM239.9 224.5H245.7V230.2H239.9zM210.9 236.0H216.7V241.8H210.9zM257.3 236.0H263.1V241.8H257.3zM274.7 247.5H280.5V253.2H274.7zM234.1 253.2H239.9V259.0H234.1zM292.1 259.0H297.9V264.8H292.1zM257.3 270.5H263.1V276.2H257.3zM309.5 270.5H315.3V276.2H309.5zM315.3 276.2H321.1V282.0H315.3zM338.4 293.5H344.2V299.2H338.4zM297.9 299.2H303.7V305.0H297.9zM344.2 299.2H350.0V305.0H344.2zM332.7 328.0H338.4V333.8H332.7zM355.8 345.2H361.6V351.0H355.8zM379.0 345.2H384.8V351.0H379.0zM361.6 351.0H367.4V356.8H361.6zM379.0 351.0H384.8V356.8H379.0zM373.2 356.8H379.0V362.5H373.2zM384.8 356.8H390.6V362.5H384.8zM379.0 362.5H390.6V368.2H379.0z"/>
<path fill="#1063e3" d="M141.4 172.8H147.2V178.5H141.4zM158.7 172.8H164.5V178.5H158.7zM141.4 178.5H147.2V184.2H141.4zM187.7 190.0H193.5V195.8H187.7zM164.5 201.5H170.3V207.2H164.5zM205.1 201.5H210.9V207.2H205.1zM228.3 218.8H234.1V224.5H228.3zM205.1 230.2H210.9V236.0H205.1zM245.7 230.2H251.5V236.0H245.7zM263.1 241.8H268.9V247.5H263.1zM228.3 247.5H234.1V253.2H228.3zM280.5 253.2H286.3V259.0H280.5zM251.5 264.8H257.3V270.5H251.5zM297.9 264.8H303.7V270.5H297.9zM274.7 282.0H280.5V287.8H274.7zM321.1 282.0H326.9V287.8H321.1zM292.1 293.5H297.9V299.2H292.1zM321.1 316.5H326.9V322.2H321.1zM326.9 322.2H332.7V328.0H326.9zM367.4 328.0H373.2V333.8H367.4zM350.0 339.5H355.8V345.2H350.0zM373.2 339.5H379.0V345.2H373.2zM373.2 345.2H379.0V351.0H373.2zM367.4 351.0H379.0V356.8H367.4zM379.0 356.8H384.8V362.5H379.0z"/>
<path fill="#0e5de1" d="M147.2 172.8H158.7V178.5H147.2zM170.3 178.5H176.1V184.2H170.3zM147.2 184.2H153.0V190.0H147.2zM153.0 190.0H158.7V195.8H153.0zM158.7 195.8H164.5V201.5H158.7zM193.5 195.8H199.3V201.5H193.5zM210.9 207.2H216.7V213.0H210.9zM181.9 213.0H187.7V218.8H181.9zM199.3 224.5H205.1V230.2H199.3zM234.1 224.5H239.9V230.2H234.1zM251.5 236.0H257.3V241.8H251.5zM222.5 241.8H228.3V247.5H222.5zM268.9 247.5H274.7V253.2H268.9zM245.7 259.0H251.5V264.8H245.7zM286.3 259.0H292.1V264.8H286.3zM303.7 270.5H309.5V276.2H303.7zM268.9 276.2H274.7V282.0H268.9zM286.3 287.8H292.1V293.5H286.3zM326.9 287.8H332.7V293.5H326.9zM332.7 293.5H338.4V299.2H332.7zM309.5 305.0H315.3V310.8H309.5zM344.2 305.0H350.0V310.8H344.2zM315.3 310.8H321.1V316.5H315.3zM350.0 310.8H355.8V316.5H350.0zM355.8 316.5H361.6V322.2H355.8zM361.6 322.2H367.4V328.0H361.6zM338.4 328.0H344.2V333.8H338.4zM344.2 333.8H350.0V339.5H344.2zM367.4 333.8H373.2V339.5H367.4zM367.4 339.5H373.2V345.2H367.4zM361.6 345.2H373.2V351.0H361.6z"/>
<path fill="#0d57de" d="M147.2 178.5H153.0V184.2H147.2zM164.5 178.5H170.3V184.2H164.5zM176.1 184.2H181.9V190.0H176.1zM199.3 201.5H205.1V207.2H199.3zM176.1 207.2H181.9V213.0H176.1zM216.7 213.0H222.5V218.8H216.7zM193.5 218.8H199.3V224.5H193.5zM239.9 230.2H245.7V236.0H239.9zM216.7 236.0H222.5V241.8H216.7zM257.3 241.8H263.1V247.5H257.3zM239.9 253.2H245.7V259.0H239.9zM274.7 253.2H280.5V259.0H274.7zM292.1 264.8H297.9V270.5H292.1zM263.1 270.5H268.9V276.2H263.1zM309.5 276.2H315.3V282.0H309.5zM280.5 282.0H286.3V287.8H280.5zM315.3 282.0H321.1V287.8H315.3zM297.9 293.5H303.7V299.2H297.9zM303.7 299.2H309.5V305.0H303.7zM338.4 299.2H344.2V305.0H338.4zM332.7 322.2H338.4V328.0H332.7zM361.6 328.0H367.4V333.8H361.6zM350.0 333.8H355.8V339.5H350.0zM361.6 333.8H367.4V339.5H361.6zM355.8 339.5H367.4V345.2H355.8z"/>
<path fill="#0c52db" d="M153.0 178.5H164.5V184.2H153.0zM153.0 184.2H158.7V190.0H153.0zM181.9 190.0H187.7V195.8H181.9zM164.5 195.8H170.3V201.5H164.5zM187.7 195.8H193.5V201.5H187.7zM170.3 201.5H176.1V207.2H170.3zM205.1 207.2H210.9V213.0H205.1zM187.7 213.0H193.5V218.8H187.7zM222.5 218.8H228.3V224.5H222.5zM228.3 224.5H234.1V230.2H228.3zM210.9 230.2H216.7V236.0H210.9zM245.7 236.0H251.5V241.8H245.7zM234.1 247.5H239.9V253.2H234.1zM263.1 247.5H268.9V253.2H263.1zM251.5 259.0H257.3V264.8H251.5zM280.5 259.0H286.3V264.8H280.5zM257.3 264.8H263.1V270.5H257.3zM268.9 270.5H274.7V276.2H268.9zM297.9 270.5H303.7V276.2H297.9zM274.7 276.2H280.5V282.0H274.7zM292.1 287.8H297.9V293.5H292.1zM321.1 287.8H326.9V293.5H321.1zM326.9 293.5H332.7V299.2H326.9zM315.3 305.0H321.1V310.8H315.3zM321.1 310.8H326.9V316.5H321.1zM344.2 310.8H350.0V316.5H344.2zM326.9 316.5H332.7V322.2H326.9zM350.0 316.5H355.8V322.2H350.0zM355.8 322.2H361.6V328.0H355.8zM344.2 328.0H350.0V333.8H344.2zM355.8 328.0H361.6V333.8H355.8zM355.8 333.8H361.6V339.5H355.8z"/>
<path fill="#0b4cd9" d="M170.3 184.2H176.1V190.0H170.3zM158.7 190.0H164.5V195.8H158.7zM176.1 190.0H181.9V195.8H176.1zM176.1 201.5H181.9V207.2H176.1zM193.5 201.5H199.3V207.2H193.5zM181.9 207.2H187.7V213.0H181.9zM199.3 207.2H205.1V213.0H199.3zM210.9 213.0H216.7V218.8H210.9zM199.3 218.8H205.1V224.5H199.3zM216.7 218.8H222.5V224.5H216.7zM205.1 224.5H210.9V230.2H205.1zM234.1 230.2H239.9V236.0H234.1zM222.5 236.0H228.3V241.8H222.5zM228.3 241.8H234.1V247.5H228.3zM251.5 241.8H257.3V247.5H251.5zM239.9 247.5H245.7V253.2H239.9zM257.3 247.5H263.1V253.2H257.3zM245.7 253.2H251.5V259.0H245.7zM268.9 253.2H274.7V259.0H268.9zM274.7 259.0H280.5V264.8H274.7zM263.1 264.8H268.9V270.5H263.1zM286.3 264.8H292.1V270.5H286.3zM292.1 270.5H297.9V276.2H292.1zM280.5 276.2H286.3V282.0H280.5zM303.7 276.2H309.5V282.0H303.7zM286.3 282.0H292.1V287.8H286.3zM309.5 282.0H315.3V287.8H309.5zM297.9 287.8H303.7V293.5H297.9zM315.3 287.8H321.1V293.5H315.3zM303.7 293.5H309.5V299.2H303.7zM309.5 299.2H315.3V305.0H309.5zM332.7 299.2H338.4V305.0H332.7zM338.4 305.0H344.2V310.8H338.4zM332.7 316.5H338.4V322.2H332.7zM344.2 316.5H350.0V322.2H344.2zM338.4 322.2H355.8V328.0H338.4zM350.0 328.0H355.8V333.8H350.0z"/>
<path fill="#0a46d6" d="M158.7 184.2H170.3V190.0H158.7zM164.5 190.0H176.1V195.8H164.5zM170.3 195.8H187.7V201.5H170.3zM181.9 201.5H193.5V207.2H181.9zM187.7 207.2H199.3V213.0H187.7zM193.5 213.0H210.9V218.8H193.5zM205.1 218.8H216.7V224.5H205.1zM210.9 224.5H228.3V230.2H210.9zM216.7 230.2H234.1V236.0H216.7zM228.3 236.0H245.7V241.8H228.3zM234.1 241.8H251.5V247.5H234.1zM245.7 247.5H257.3V253.2H245.7zM251.5 253.2H268.9V259.0H251.5zM257.3 259.0H274.7V264.8H257.3zM268.9 264.8H286.3V270.5H268.9zM274.7 270.5H292.1V276.2H274.7zM286.3 276.2H303.7V282.0H286.3zM292.1 282.0H309.5V287.8H292.1zM303.7 287.8H315.3V293.5H303.7zM309.5 293.5H326.9V299.2H309.5zM315.3 299.2H332.7V305.0H315.3zM321.1 305.0H338.4V310.8H321.1zM326.9 310.8H344.2V316.5H326.9zM338.4 316.5H344.2V322.2H338.4z"/>
</g>
<g clip-path="url(#pc)">
<g fill="#0a0a0a"><rect x="486.2" y="419.0" width="2.3" height="2.8"/><rect x="531.1" y="451.0" width="2.3" height="2.8"/><rect x="555.5" y="466.0" width="2.3" height="2.8"/><rect x="537.6" y="468.4" width="2.3" height="2.8"/><rect x="537.6" y="471.0" width="2.3" height="2.8"/><rect x="539.6" y="479.2" width="2.3" height="2.8"/><rect x="542.4" y="488.9" width="2.3" height="2.8"/><rect x="536.9" y="498.6" width="2.3" height="2.8"/><rect x="576.4" y="499.1" width="2.3" height="2.8"/><rect x="599.8" y="506.5" width="2.3" height="2.8"/><rect x="561.2" y="509.6" width="2.3" height="2.8"/><rect x="584.8" y="513.6" width="2.3" height="2.8"/><rect x="543.6" y="521.3" width="2.3" height="2.8"/><rect x="570.6" y="524.1" width="2.3" height="2.8"/><rect x="551.6" y="527.4" width="2.3" height="2.8"/><rect x="610.6" y="530.7" width="2.3" height="2.8"/><rect x="552.9" y="536.3" width="2.3" height="2.8"/><rect x="559.1" y="542.4" width="2.3" height="2.8"/><rect x="545.1" y="553.1" width="2.3" height="2.8"/><rect x="561.5" y="568.0" width="2.3" height="2.8"/><rect x="598.9" y="566.6" width="2.3" height="2.8"/><rect x="605.1" y="575.4" width="2.3" height="2.8"/><rect x="547.1" y="578.6" width="2.3" height="2.8"/><rect x="526.6" y="582.2" width="2.3" height="2.8"/><rect x="530.1" y="586.0" width="2.3" height="2.8"/><rect x="590.4" y="585.2" width="2.3" height="2.8"/><rect x="506.0" y="599.0" width="2.3" height="2.8"/><rect x="563.4" y="606.4" width="2.3" height="2.8"/><rect x="450.5" y="611.2" width="2.3" height="2.8"/><rect x="555.6" y="618.6" width="2.3" height="2.8"/><rect x="546.2" y="622.9" width="2.3" height="2.8"/><rect x="496.6" y="621.1" width="2.3" height="2.8"/><rect x="496.6" y="625.2" width="2.3" height="2.8"/><rect x="484.4" y="629.3" width="2.3" height="2.8"/><rect x="464.5" y="648.9" width="2.3" height="2.8"/><rect x="487.9" y="647.6" width="2.3" height="2.8"/><rect x="440.2" y="666.2" width="2.3" height="2.8"/><rect x="457.0" y="503.1" width="2.3" height="2.8"/><rect x="278.9" y="694.1" width="2.3" height="2.8"/><rect x="299.5" y="695.4" width="2.3" height="2.8"/><rect x="319.4" y="689.3" width="2.3" height="2.8"/><rect x="337.2" y="679.6" width="2.3" height="2.8"/><rect x="347.7" y="674.0" width="2.3" height="2.8"/><rect x="357.6" y="672.2" width="2.3" height="2.8"/><rect x="375.7" y="666.9" width="2.3" height="2.8"/><rect x="380.2" y="669.9" width="2.3" height="2.8"/><rect x="386.7" y="667.4" width="2.3" height="2.8"/><rect x="203.8" y="26.1" width="2.3" height="2.8"/><rect x="187.8" y="32.5" width="2.3" height="2.8"/><rect x="194.7" y="60.0" width="2.3" height="2.8"/><rect x="198.2" y="62.8" width="2.3" height="2.8"/><rect x="172.8" y="73.2" width="2.3" height="2.8"/><rect x="195.7" y="78.6" width="2.3" height="2.8"/><rect x="213.2" y="73.8" width="2.3" height="2.8"/><rect x="215.2" y="79.6" width="2.3" height="2.8"/><rect x="226.8" y="75.0" width="2.3" height="2.8"/><rect x="237.8" y="78.6" width="2.3" height="2.8"/><rect x="143.9" y="88.8" width="2.3" height="2.8"/><rect x="170.4" y="86.8" width="2.3" height="2.8"/><rect x="255.2" y="93.6" width="2.3" height="2.8"/><rect x="112.0" y="109.7" width="2.3" height="2.8"/><rect x="226.8" y="110.2" width="2.3" height="2.8"/><rect x="247.2" y="118.6" width="2.3" height="2.8"/><rect x="265.8" y="117.1" width="2.3" height="2.8"/><rect x="268.2" y="118.9" width="2.3" height="2.8"/><rect x="263.5" y="127.8" width="2.3" height="2.8"/><rect x="250.9" y="131.8" width="2.3" height="2.8"/><rect x="259.9" y="132.4" width="2.3" height="2.8"/><rect x="254.2" y="138.2" width="2.3" height="2.8"/><rect x="262.2" y="160.9" width="2.3" height="2.8"/><rect x="302.6" y="187.9" width="2.3" height="2.8"/><rect x="328.8" y="184.3" width="2.3" height="2.8"/><rect x="354.1" y="181.3" width="2.3" height="2.8"/><rect x="321.4" y="202.2" width="2.3" height="2.8"/><rect x="326.8" y="202.2" width="2.3" height="2.8"/><rect x="355.1" y="221.8" width="2.3" height="2.8"/><rect x="359.9" y="251.8" width="2.3" height="2.8"/><rect x="368.2" y="258.0" width="2.3" height="2.8"/><rect x="384.4" y="253.9" width="2.3" height="2.8"/><rect x="462.1" y="239.9" width="2.3" height="2.8"/><rect x="435.8" y="277.1" width="2.3" height="2.8"/><rect x="406.2" y="281.7" width="2.3" height="2.8"/><rect x="412.7" y="305.9" width="2.3" height="2.8"/><rect x="438.4" y="347.4" width="2.3" height="2.8"/><rect x="450.6" y="343.6" width="2.3" height="2.8"/><rect x="474.6" y="369.8" width="2.3" height="2.8"/><rect x="564.0" y="440.4" width="2.3" height="2.8"/><rect x="654.2" y="509.8" width="2.3" height="2.8"/><rect x="632.6" y="526.6" width="2.3" height="2.8"/><rect x="661.4" y="532.2" width="2.3" height="2.8"/><rect x="654.8" y="548.8" width="2.3" height="2.8"/><rect x="694.2" y="544.5" width="2.3" height="2.8"/><rect x="687.6" y="553.6" width="2.3" height="2.8"/><rect x="690.5" y="556.2" width="2.3" height="2.8"/><rect x="702.4" y="407.7" width="2.3" height="2.8"/><rect x="708.5" y="436.6" width="2.3" height="2.8"/><rect x="741.4" y="559.1" width="2.3" height="2.8"/><rect x="755.9" y="566.0" width="2.3" height="2.8"/><rect x="700.9" y="585.6" width="2.3" height="2.8"/></g>
<path d="M88.0 139.0 L91.0 140.9 L94.0 142.8 L97.0 144.7 L100.0 146.6 L103.0 148.5 L106.0 150.4 L109.0 152.3 L112.0 154.2 L115.0 156.1 L118.0 158.1 L121.0 160.0 L124.0 161.9 L127.0 163.8 L130.0 165.7 L133.0 167.6 L136.0 169.6 L139.0 171.5 L142.0 173.4 L145.0 175.3 L148.0 177.2 L151.0 179.1 L154.0 181.1 L157.0 183.0 L160.0 184.9 L163.0 186.8 L166.0 188.8 L169.0 190.7 L172.0 192.6 L175.0 194.5 L178.0 196.5 L181.0 198.4 L184.0 200.3 L187.0 202.3 L190.0 204.2 L193.0 206.1 L196.0 208.0 L199.0 210.0 L202.0 211.9 L205.0 213.9 L208.0 215.8 L211.0 217.7 L214.0 219.7 L217.0 221.6 L220.0 223.5 L223.0 225.5 L226.0 227.4 L229.0 229.4 L232.0 231.3 L235.0 233.3 L238.0 235.2 L241.0 237.2 L244.0 239.1 L247.0 241.1 L250.0 243.0 L253.0 245.0 L256.0 246.9 L259.0 248.9 L262.0 250.9 L265.0 252.8 L268.0 254.8 L271.0 256.8 L274.0 258.7 L277.0 260.7 L280.0 262.7 L283.0 264.6 L286.0 266.6 L289.0 268.6 L292.0 270.6 L295.0 272.5 L298.0 274.5 L301.0 276.5 L304.0 278.5 L307.0 280.5 L310.0 282.5 L313.0 284.4 L316.0 286.4 L319.0 288.4 L322.0 290.4 L325.0 292.4 L328.0 294.4 L331.0 296.4 L334.0 298.4 L337.0 300.5 L340.0 302.5 L343.0 304.5 L346.0 306.5 L349.0 308.5 L352.0 310.5 L355.0 312.6 L358.0 314.6 L361.0 316.6 L364.0 318.7 L367.0 320.7 L370.0 322.7 L373.0 324.8 L376.0 326.8 L379.0 328.9 L382.0 330.9 L385.0 333.0 L388.0 335.0 L391.0 337.1 L394.0 339.2 L397.0 341.3 L400.0 343.3 L403.0 345.4 L406.0 347.5 L409.0 349.6 L412.0 351.7 L415.0 353.8 L418.0 355.9 L421.0 358.0 L424.0 360.1 L427.0 362.2 L430.0 364.3 L433.0 366.5 L436.0 368.6 L439.0 370.7 L442.0 372.9 L445.0 375.0 L448.0 377.2 L451.0 379.3 L454.0 381.5 L457.0 383.7 L460.0 385.8 L463.0 388.0 L466.0 390.2 L469.0 392.4 L472.0 394.6 L475.0 396.8 L478.0 399.0 L481.0 401.3 L484.0 403.5 L487.0 405.7 L490.0 408.0 L493.0 410.2 L496.0 412.5 L499.0 414.8 L502.0 417.1 L505.0 419.4 L508.0 421.7 L511.0 424.0 L514.0 426.3 L517.0 428.6 L520.0 431.0 L523.0 433.3 L526.0 435.7 L529.0 438.1 L532.0 440.5 L535.0 442.9 L538.0 445.3 L541.0 447.7 L544.0 450.1 L547.0 452.6 L550.0 455.1 L553.0 457.5 L556.0 460.0 L559.0 462.5 L562.0 465.1 L565.0 467.6 L568.0 470.2 L571.0 472.7 L574.0 475.3 L577.0 478.0 L580.0 480.6 L583.0 483.2 L586.0 485.9 L589.0 488.6 L592.0 491.3 L595.0 494.1 L598.0 496.8 L601.0 499.6 L604.0 502.4 L607.0 505.3 L610.0 508.1 L613.0 511.0 L616.0 513.9 L619.0 516.9 L622.0 519.9 L625.0 522.9 L628.0 526.0 L631.0 529.0 L634.0 532.2 L637.0 535.3 L640.0 538.6 L643.0 541.8 L646.0 545.1 L649.0 548.4 L652.0 551.8 L655.0 555.3 L658.0 558.8 L661.0 562.3 L664.0 565.9 L667.0 569.6 L670.0 573.4 L673.0 577.2 L676.0 581.1 L679.0 585.1 L682.0 589.1 L685.0 593.3 L688.0 597.5 L691.0 601.8 L694.0 606.3 L697.0 610.9 L700.0 615.6 L703.0 620.4 L706.0 625.4 L709.0 630.5 L712.0 635.8 L715.0 641.3 L718.0 647.0 L721.0 652.9 L724.0 659.1 L727.0 665.6 L730.0 672.3 L733.0 679.4 L736.0 686.9 L739.0 694.8 L742.0 703.3 L745.0 712.3 L748.0 722.0 L751.0 732.6 L748.9 725.1" fill="none" stroke="#0c1440" stroke-width="6.6" stroke-dasharray="4.6 4.8"/>
<path d="M88.0 139.0 L91.0 140.9 L94.0 142.8 L97.0 144.7 L100.0 146.6 L103.0 148.5 L106.0 150.4 L109.0 152.3 L112.0 154.2 L115.0 156.1 L118.0 158.1 L121.0 160.0 L124.0 161.9 L127.0 163.8 L130.0 165.7 L133.0 167.6 L136.0 169.6 L139.0 171.5 L142.0 173.4 L145.0 175.3 L148.0 177.2 L151.0 179.1 L154.0 181.1 L157.0 183.0 L160.0 184.9 L163.0 186.8 L166.0 188.8 L169.0 190.7 L172.0 192.6 L175.0 194.5 L178.0 196.5 L181.0 198.4 L184.0 200.3 L187.0 202.3 L190.0 204.2 L193.0 206.1 L196.0 208.0 L199.0 210.0 L202.0 211.9 L205.0 213.9 L208.0 215.8 L211.0 217.7 L214.0 219.7 L217.0 221.6 L220.0 223.5 L223.0 225.5 L226.0 227.4 L229.0 229.4 L232.0 231.3 L235.0 233.3 L238.0 235.2 L241.0 237.2 L244.0 239.1 L247.0 241.1 L250.0 243.0 L253.0 245.0 L256.0 246.9 L259.0 248.9 L262.0 250.9 L265.0 252.8 L268.0 254.8 L271.0 256.8 L274.0 258.7 L277.0 260.7 L280.0 262.7 L283.0 264.6 L286.0 266.6 L289.0 268.6 L292.0 270.6 L295.0 272.5 L298.0 274.5 L301.0 276.5 L304.0 278.5 L307.0 280.5 L310.0 282.5 L313.0 284.4 L316.0 286.4 L319.0 288.4 L322.0 290.4 L325.0 292.4 L328.0 294.4 L331.0 296.4 L334.0 298.4 L337.0 300.5 L340.0 302.5 L343.0 304.5 L346.0 306.5 L349.0 308.5 L352.0 310.5 L355.0 312.6 L358.0 314.6 L361.0 316.6 L364.0 318.7 L367.0 320.7 L370.0 322.7 L373.0 324.8 L376.0 326.8 L379.0 328.9 L382.0 330.9 L385.0 333.0 L388.0 335.0 L391.0 337.1 L394.0 339.2 L397.0 341.3 L400.0 343.3 L403.0 345.4 L406.0 347.5 L409.0 349.6 L412.0 351.7 L415.0 353.8 L418.0 355.9 L421.0 358.0 L424.0 360.1 L427.0 362.2 L430.0 364.3 L433.0 366.5 L436.0 368.6 L439.0 370.7 L442.0 372.9 L445.0 375.0 L448.0 377.2 L451.0 379.3 L454.0 381.5 L457.0 383.7 L460.0 385.8 L463.0 388.0 L466.0 390.2 L469.0 392.4 L472.0 394.6 L475.0 396.8 L478.0 399.0 L481.0 401.3 L484.0 403.5 L487.0 405.7 L490.0 408.0 L493.0 410.2 L496.0 412.5 L499.0 414.8 L502.0 417.1 L505.0 419.4 L508.0 421.7 L511.0 424.0 L514.0 426.3 L517.0 428.6 L520.0 431.0 L523.0 433.3 L526.0 435.7 L529.0 438.1 L532.0 440.5 L535.0 442.9 L538.0 445.3 L541.0 447.7 L544.0 450.1 L547.0 452.6 L550.0 455.1 L553.0 457.5 L556.0 460.0 L559.0 462.5 L562.0 465.1 L565.0 467.6 L568.0 470.2 L571.0 472.7 L574.0 475.3 L577.0 478.0 L580.0 480.6 L583.0 483.2 L586.0 485.9 L589.0 488.6 L592.0 491.3 L595.0 494.1 L598.0 496.8 L601.0 499.6 L604.0 502.4 L607.0 505.3 L610.0 508.1 L613.0 511.0 L616.0 513.9 L619.0 516.9 L622.0 519.9 L625.0 522.9 L628.0 526.0 L631.0 529.0 L634.0 532.2 L637.0 535.3 L640.0 538.6 L643.0 541.8 L646.0 545.1 L649.0 548.4 L652.0 551.8 L655.0 555.3 L658.0 558.8 L661.0 562.3 L664.0 565.9 L667.0 569.6 L670.0 573.4 L673.0 577.2 L676.0 581.1 L679.0 585.1 L682.0 589.1 L685.0 593.3 L688.0 597.5 L691.0 601.8 L694.0 606.3 L697.0 610.9 L700.0 615.6 L703.0 620.4 L706.0 625.4 L709.0 630.5 L712.0 635.8 L715.0 641.3 L718.0 647.0 L721.0 652.9 L724.0 659.1 L727.0 665.6 L730.0 672.3 L733.0 679.4 L736.0 686.9 L739.0 694.8 L742.0 703.3 L745.0 712.3 L748.0 722.0 L751.0 732.6 L748.9 725.1" fill="none" stroke="#f5121c" stroke-width="4.2"/>
<path d="M106.0 156.5 L109.0 158.9 L112.0 161.3 L115.0 163.3 L118.0 152.3 L121.0 149.9 L124.0 147.4 L127.0 147.4 L130.0 147.5 L133.0 147.5 L136.0 147.6 L139.0 147.5 L142.0 147.5 L145.0 147.4 L148.0 147.4 L151.0 147.3 L154.0 147.3 L157.0 147.3 L160.0 147.2 L163.0 147.0 L166.0 146.5 L169.0 145.9 L172.0 145.4 L175.0 145.5 L178.0 145.5 L181.0 145.6 L184.0 146.1 L187.0 146.9 L190.0 147.6 L193.0 148.7 L196.0 151.7 L199.0 154.7 L202.0 157.8 L205.0 161.4 L208.0 165.4 L211.0 169.4 L214.0 173.0 L217.0 176.0 L220.0 178.9 L223.0 181.9 L226.0 184.9 L229.0 187.0 L232.0 189.0 L235.0 191.1 L238.0 193.2 L241.0 195.0 L244.0 196.8 L247.0 198.6 L250.0 200.5 L253.0 202.4 L256.0 204.5 L259.0 206.5 L262.0 208.6 L265.0 210.7 L268.0 213.5 L271.0 216.3 L274.0 219.1 L277.0 222.0 L280.0 224.8 L283.0 227.6 L286.0 230.4 L289.0 233.2 L292.0 236.3 L295.0 239.9 L298.0 243.5 L301.0 247.1 L304.0 250.8 L307.0 254.4 L310.0 258.1 L313.0 261.8 L316.0 265.4 L319.0 270.4 L322.0 275.4 L325.0 280.4 L328.0 285.4 L331.0 290.3 L334.0 295.1 L337.0 299.8 L340.0 304.6 L343.0 307.5 L343.0 314.8 L340.0 312.8 L337.0 310.8 L334.0 308.7 L331.0 306.7 L328.0 304.7 L325.0 302.7 L322.0 300.7 L319.0 298.7 L316.0 296.7 L313.0 294.7 L310.0 292.8 L307.0 290.8 L304.0 288.8 L301.0 286.8 L298.0 284.9 L295.0 283.0 L292.0 281.1 L289.0 279.2 L286.0 277.3 L283.0 275.4 L280.0 273.5 L277.0 271.6 L274.0 269.7 L271.0 267.8 L268.0 265.9 L265.0 264.0 L262.0 262.1 L259.0 260.2 L256.0 258.4 L253.0 256.6 L250.0 254.8 L247.0 252.9 L244.0 251.1 L241.0 249.3 L238.0 247.5 L235.0 245.6 L232.0 243.8 L229.0 242.0 L226.0 240.2 L223.0 238.4 L220.0 236.6 L217.0 234.7 L214.0 232.9 L211.0 231.1 L208.0 229.2 L205.0 227.3 L202.0 225.4 L199.0 223.6 L196.0 221.7 L193.0 219.8 L190.0 217.9 L187.0 216.1 L184.0 214.2 L181.0 212.3 L178.0 210.4 L175.0 208.6 L172.0 206.7 L169.0 204.8 L166.0 203.0 L163.0 201.1 L160.0 199.3 L157.0 197.5 L154.0 195.7 L151.0 193.9 L148.0 192.1 L145.0 190.3 L142.0 188.5 L139.0 186.7 L136.0 184.9 L133.0 182.8 L130.0 180.8 L127.0 178.7 L124.0 176.7 L121.0 174.7 L118.0 172.6 L115.0 170.6 L112.0 168.6 L109.0 166.2 L106.0 163.8z" fill="#f7b31f"/>
<g fill="none" stroke="#f7b31f" stroke-width="1.3"><circle cx="270.8" cy="235.3" r="3.5"/><circle cx="218.4" cy="216.5" r="3.5"/><circle cx="340.4" cy="299.7" r="3.5"/><circle cx="274.3" cy="255.9" r="3.5"/><circle cx="279.8" cy="221.7" r="3.5"/><circle cx="185.0" cy="127.2" r="3.5"/><circle cx="253.6" cy="236.7" r="3.5"/><circle cx="232.5" cy="217.5" r="3.5"/><circle cx="163.9" cy="140.2" r="3.5"/><circle cx="347.8" cy="303.9" r="3.5"/><circle cx="329.5" cy="285.3" r="3.5"/><circle cx="422.9" cy="325.2" r="3.5"/><circle cx="226.4" cy="198.1" r="3.5"/><circle cx="136.8" cy="165.6" r="3.5"/><circle cx="203.7" cy="154.6" r="3.5"/><circle cx="288.7" cy="239.3" r="3.5"/><circle cx="139.1" cy="142.9" r="3.5"/><circle cx="395.7" cy="307.9" r="3.5"/><circle cx="151.5" cy="147.4" r="3.5"/><circle cx="151.6" cy="140.1" r="3.5"/><circle cx="314.0" cy="257.8" r="3.5"/><circle cx="353.8" cy="315.8" r="3.5"/><circle cx="258.7" cy="200.4" r="3.5"/><circle cx="358.5" cy="274.2" r="3.5"/><circle cx="271.6" cy="249.2" r="3.5"/><circle cx="156.8" cy="141.9" r="3.5"/><circle cx="177.7" cy="138.4" r="3.5"/><circle cx="247.5" cy="224.7" r="3.5"/><circle cx="312.0" cy="264.1" r="3.5"/><circle cx="295.6" cy="234.8" r="3.5"/><circle cx="102.3" cy="155.6" r="3.5"/><circle cx="426.0" cy="362.8" r="3.5"/><circle cx="147.4" cy="162.4" r="3.5"/><circle cx="125.5" cy="172.4" r="3.5"/><circle cx="344.3" cy="279.1" r="3.5"/><circle cx="325.6" cy="236.0" r="3.5"/><circle cx="283.6" cy="202.9" r="3.5"/><circle cx="157.1" cy="113.8" r="3.5"/><circle cx="208.0" cy="135.8" r="3.5"/><circle cx="364.9" cy="320.9" r="3.5"/><circle cx="209.0" cy="159.5" r="3.5"/><circle cx="139.3" cy="141.4" r="3.5"/><circle cx="289.5" cy="225.6" r="3.5"/><circle cx="194.8" cy="140.4" r="3.5"/><circle cx="116.6" cy="119.4" r="3.5"/><circle cx="264.3" cy="201.0" r="3.5"/><circle cx="142.1" cy="135.4" r="3.5"/><circle cx="384.9" cy="326.7" r="3.5"/><circle cx="136.7" cy="141.4" r="3.5"/><circle cx="360.3" cy="317.9" r="3.5"/><circle cx="192.2" cy="144.6" r="3.5"/><circle cx="173.9" cy="111.6" r="3.5"/><circle cx="255.6" cy="222.8" r="3.5"/><circle cx="330.4" cy="286.4" r="3.5"/><circle cx="211.4" cy="170.3" r="3.5"/><circle cx="137.0" cy="125.9" r="3.5"/><circle cx="192.6" cy="141.8" r="3.5"/><circle cx="348.3" cy="307.6" r="3.5"/><circle cx="372.0" cy="311.3" r="3.5"/><circle cx="172.7" cy="186.9" r="3.5"/><circle cx="237.4" cy="167.4" r="3.5"/><circle cx="174.3" cy="138.2" r="3.5"/><circle cx="264.5" cy="235.3" r="3.5"/><circle cx="245.6" cy="210.3" r="3.5"/><circle cx="205.0" cy="166.1" r="3.5"/><circle cx="313.4" cy="251.9" r="3.5"/><circle cx="116.1" cy="142.0" r="3.5"/><circle cx="183.9" cy="188.7" r="3.5"/><circle cx="316.6" cy="259.8" r="3.5"/><circle cx="233.5" cy="230.1" r="3.5"/><circle cx="325.1" cy="272.7" r="3.5"/><circle cx="160.8" cy="124.9" r="3.5"/><circle cx="267.4" cy="248.5" r="3.5"/><circle cx="241.3" cy="182.4" r="3.5"/><circle cx="197.4" cy="137.3" r="3.5"/><circle cx="146.3" cy="102.5" r="3.5"/><circle cx="299.3" cy="220.4" r="3.5"/><circle cx="209.9" cy="158.1" r="3.5"/><circle cx="219.5" cy="197.3" r="3.5"/><circle cx="414.3" cy="357.4" r="3.5"/><circle cx="140.1" cy="167.9" r="3.5"/><circle cx="211.5" cy="202.5" r="3.5"/><circle cx="304.6" cy="235.8" r="3.5"/><circle cx="350.7" cy="316.0" r="3.5"/><circle cx="245.6" cy="246.0" r="3.5"/><circle cx="426.7" cy="353.7" r="3.5"/><circle cx="279.1" cy="171.1" r="3.5"/><circle cx="330.0" cy="258.4" r="3.5"/><circle cx="115.0" cy="144.5" r="3.5"/><circle cx="340.0" cy="308.8" r="3.5"/><circle cx="320.5" cy="285.6" r="3.5"/><circle cx="363.0" cy="286.4" r="3.5"/><circle cx="398.3" cy="346.0" r="3.5"/><circle cx="256.5" cy="195.8" r="3.5"/><circle cx="129.5" cy="149.3" r="3.5"/><circle cx="157.7" cy="118.9" r="3.5"/><circle cx="249.4" cy="189.2" r="3.5"/><circle cx="220.1" cy="159.0" r="3.5"/><circle cx="223.9" cy="175.2" r="3.5"/><circle cx="174.0" cy="178.5" r="3.5"/><circle cx="260.1" cy="201.2" r="3.5"/><circle cx="239.7" cy="181.3" r="3.5"/><circle cx="267.1" cy="226.6" r="3.5"/><circle cx="386.2" cy="339.7" r="3.5"/><circle cx="221.6" cy="196.8" r="3.5"/><circle cx="395.0" cy="328.5" r="3.5"/><circle cx="220.8" cy="202.9" r="3.5"/><circle cx="365.9" cy="302.1" r="3.5"/><circle cx="204.4" cy="175.4" r="3.5"/><circle cx="325.3" cy="274.8" r="3.5"/><circle cx="350.1" cy="239.2" r="3.5"/><circle cx="136.2" cy="126.6" r="3.5"/><circle cx="343.4" cy="230.9" r="3.5"/><circle cx="317.0" cy="285.8" r="3.5"/><circle cx="136.9" cy="147.6" r="3.5"/><circle cx="137.3" cy="145.5" r="3.5"/><circle cx="387.5" cy="332.1" r="3.5"/><circle cx="125.8" cy="143.3" r="3.5"/><circle cx="392.6" cy="343.3" r="3.5"/><circle cx="313.7" cy="250.8" r="3.5"/><circle cx="131.5" cy="109.2" r="3.5"/><circle cx="270.8" cy="232.7" r="3.5"/><circle cx="265.2" cy="223.2" r="3.5"/><circle cx="312.6" cy="251.9" r="3.5"/><circle cx="175.3" cy="143.1" r="3.5"/><circle cx="176.6" cy="139.6" r="3.5"/><circle cx="121.5" cy="152.9" r="3.5"/><circle cx="303.5" cy="248.6" r="3.5"/><circle cx="358.9" cy="313.4" r="3.5"/><circle cx="320.2" cy="251.1" r="3.5"/><circle cx="322.1" cy="274.5" r="3.5"/><circle cx="170.1" cy="138.8" r="3.5"/><circle cx="238.5" cy="162.9" r="3.5"/><circle cx="165.0" cy="119.6" r="3.5"/><circle cx="157.9" cy="161.7" r="3.5"/><circle cx="301.4" cy="272.0" r="3.5"/><circle cx="234.1" cy="127.3" r="3.5"/><circle cx="159.1" cy="138.0" r="3.5"/><circle cx="200.1" cy="180.8" r="3.5"/><circle cx="202.8" cy="145.8" r="3.5"/><circle cx="291.6" cy="218.5" r="3.5"/><circle cx="350.1" cy="283.9" r="3.5"/><circle cx="147.6" cy="143.6" r="3.5"/><circle cx="171.0" cy="173.7" r="3.5"/><circle cx="250.1" cy="186.1" r="3.5"/><circle cx="212.5" cy="158.0" r="3.5"/><circle cx="180.9" cy="208.9" r="3.5"/><circle cx="222.5" cy="233.4" r="3.5"/><circle cx="209.3" cy="158.6" r="3.5"/><circle cx="226.9" cy="214.2" r="3.5"/><circle cx="229.2" cy="202.3" r="3.5"/><circle cx="214.4" cy="163.1" r="3.5"/><circle cx="146.7" cy="139.8" r="3.5"/><circle cx="245.5" cy="193.5" r="3.5"/><circle cx="264.0" cy="203.3" r="3.5"/><circle cx="116.4" cy="138.7" r="3.5"/><circle cx="251.8" cy="175.4" r="3.5"/><circle cx="293.6" cy="234.9" r="3.5"/><circle cx="132.8" cy="135.3" r="3.5"/><circle cx="300.9" cy="240.0" r="3.5"/><circle cx="231.6" cy="197.0" r="3.5"/><circle cx="355.5" cy="292.7" r="3.5"/><circle cx="332.5" cy="273.0" r="3.5"/><circle cx="196.8" cy="174.6" r="3.5"/><circle cx="338.2" cy="299.6" r="3.5"/><circle cx="191.1" cy="173.2" r="3.5"/><circle cx="362.5" cy="296.1" r="3.5"/><circle cx="153.1" cy="167.0" r="3.5"/><circle cx="346.8" cy="299.7" r="3.5"/><circle cx="286.3" cy="229.3" r="3.5"/><circle cx="215.2" cy="224.2" r="3.5"/><circle cx="268.1" cy="254.7" r="3.5"/><circle cx="429.2" cy="351.4" r="3.5"/><circle cx="259.1" cy="243.7" r="3.5"/><circle cx="200.2" cy="149.5" r="3.5"/><circle cx="381.3" cy="329.0" r="3.5"/><circle cx="331.0" cy="267.0" r="3.5"/><circle cx="376.0" cy="320.4" r="3.5"/><circle cx="199.1" cy="205.0" r="3.5"/><circle cx="240.5" cy="244.4" r="3.5"/><circle cx="317.2" cy="232.2" r="3.5"/><circle cx="130.7" cy="173.1" r="3.5"/><circle cx="338.4" cy="284.2" r="3.5"/><circle cx="120.5" cy="136.3" r="3.5"/><circle cx="373.4" cy="310.5" r="3.5"/><circle cx="422.3" cy="358.6" r="3.5"/><circle cx="348.0" cy="293.2" r="3.5"/><circle cx="403.0" cy="335.6" r="3.5"/><circle cx="188.3" cy="176.3" r="3.5"/><circle cx="281.3" cy="220.6" r="3.5"/><circle cx="345.1" cy="262.1" r="3.5"/><circle cx="127.4" cy="119.8" r="3.5"/><circle cx="232.3" cy="196.7" r="3.5"/><circle cx="245.0" cy="178.3" r="3.5"/><circle cx="262.6" cy="230.0" r="3.5"/><circle cx="187.8" cy="147.0" r="3.5"/><circle cx="186.6" cy="127.1" r="3.5"/><circle cx="204.1" cy="157.6" r="3.5"/><circle cx="326.8" cy="255.7" r="3.5"/><circle cx="164.5" cy="140.7" r="3.5"/><circle cx="338.0" cy="286.1" r="3.5"/><circle cx="298.1" cy="231.8" r="3.5"/><circle cx="275.5" cy="208.3" r="3.5"/><circle cx="308.8" cy="239.8" r="3.5"/><circle cx="389.9" cy="340.8" r="3.5"/><circle cx="275.0" cy="225.3" r="3.5"/><circle cx="309.0" cy="241.9" r="3.5"/><circle cx="377.4" cy="281.5" r="3.5"/><circle cx="162.8" cy="144.8" r="3.5"/><circle cx="369.3" cy="310.5" r="3.5"/><circle cx="395.8" cy="344.8" r="3.5"/><circle cx="423.2" cy="364.7" r="3.5"/><circle cx="163.2" cy="168.5" r="3.5"/><circle cx="205.2" cy="190.8" r="3.5"/><circle cx="215.8" cy="165.2" r="3.5"/><circle cx="310.9" cy="236.1" r="3.5"/><circle cx="228.4" cy="166.0" r="3.5"/><circle cx="211.2" cy="194.8" r="3.5"/><circle cx="131.8" cy="142.4" r="3.5"/><circle cx="237.4" cy="190.6" r="3.5"/><circle cx="153.1" cy="144.3" r="3.5"/><circle cx="213.1" cy="216.4" r="3.5"/><circle cx="222.5" cy="226.8" r="3.5"/><circle cx="430.0" cy="360.1" r="3.5"/><circle cx="247.8" cy="189.8" r="3.5"/><circle cx="149.9" cy="163.4" r="3.5"/><circle cx="377.3" cy="332.1" r="3.5"/><circle cx="169.2" cy="199.3" r="3.5"/><circle cx="175.5" cy="186.8" r="3.5"/><circle cx="391.8" cy="320.1" r="3.5"/><circle cx="169.1" cy="134.6" r="3.5"/><circle cx="140.4" cy="149.5" r="3.5"/><circle cx="358.7" cy="319.6" r="3.5"/><circle cx="135.7" cy="133.9" r="3.5"/><circle cx="345.5" cy="277.2" r="3.5"/><circle cx="230.1" cy="185.0" r="3.5"/><circle cx="408.1" cy="351.2" r="3.5"/><circle cx="287.4" cy="213.3" r="3.5"/><circle cx="144.6" cy="178.6" r="3.5"/><circle cx="252.1" cy="198.8" r="3.5"/><circle cx="423.9" cy="354.1" r="3.5"/><circle cx="246.2" cy="219.2" r="3.5"/><circle cx="146.8" cy="160.9" r="3.5"/><circle cx="385.4" cy="324.1" r="3.5"/><circle cx="223.2" cy="192.2" r="3.5"/><circle cx="350.8" cy="275.8" r="3.5"/><circle cx="249.5" cy="240.2" r="3.5"/><circle cx="254.5" cy="230.7" r="3.5"/><circle cx="397.5" cy="335.0" r="3.5"/><circle cx="341.4" cy="301.5" r="3.5"/><circle cx="189.2" cy="140.2" r="3.5"/><circle cx="168.2" cy="125.5" r="3.5"/><circle cx="223.7" cy="211.3" r="3.5"/><circle cx="300.4" cy="242.9" r="3.5"/><circle cx="173.7" cy="188.5" r="3.5"/><circle cx="189.0" cy="132.5" r="3.5"/><circle cx="203.9" cy="156.8" r="3.5"/><circle cx="261.6" cy="227.1" r="3.5"/><circle cx="184.2" cy="142.1" r="3.5"/><circle cx="227.0" cy="171.9" r="3.5"/><circle cx="229.0" cy="191.5" r="3.5"/><circle cx="324.2" cy="249.0" r="3.5"/><circle cx="216.3" cy="167.1" r="3.5"/><circle cx="169.0" cy="172.8" r="3.5"/><circle cx="212.1" cy="139.5" r="3.5"/><circle cx="113.1" cy="139.3" r="3.5"/><circle cx="308.3" cy="209.7" r="3.5"/><circle cx="410.8" cy="347.4" r="3.5"/><circle cx="185.5" cy="143.3" r="3.5"/><circle cx="346.9" cy="308.0" r="3.5"/><circle cx="342.9" cy="258.8" r="3.5"/><circle cx="124.5" cy="148.5" r="3.5"/><circle cx="158.8" cy="128.2" r="3.5"/><circle cx="331.3" cy="289.5" r="3.5"/><circle cx="147.7" cy="96.2" r="3.5"/><circle cx="264.7" cy="230.7" r="3.5"/><circle cx="305.0" cy="264.3" r="3.5"/><circle cx="336.1" cy="268.7" r="3.5"/><circle cx="419.3" cy="358.0" r="3.5"/><circle cx="219.7" cy="154.3" r="3.5"/><circle cx="160.5" cy="146.1" r="3.5"/><circle cx="178.1" cy="164.0" r="3.5"/><circle cx="286.8" cy="218.2" r="3.5"/><circle cx="361.5" cy="302.2" r="3.5"/><circle cx="387.4" cy="322.6" r="3.5"/><circle cx="348.1" cy="300.4" r="3.5"/><circle cx="115.3" cy="151.4" r="3.5"/><circle cx="384.8" cy="339.2" r="3.5"/><circle cx="278.4" cy="217.9" r="3.5"/><circle cx="358.1" cy="317.4" r="3.5"/><circle cx="131.0" cy="145.3" r="3.5"/><circle cx="268.5" cy="199.3" r="3.5"/><circle cx="200.5" cy="108.7" r="3.5"/><circle cx="301.3" cy="241.5" r="3.5"/><circle cx="177.5" cy="177.4" r="3.5"/><circle cx="299.0" cy="230.7" r="3.5"/><circle cx="305.2" cy="249.7" r="3.5"/><circle cx="351.7" cy="290.8" r="3.5"/><circle cx="343.9" cy="310.8" r="3.5"/><circle cx="291.4" cy="210.5" r="3.5"/><circle cx="339.4" cy="296.8" r="3.5"/><circle cx="223.2" cy="190.3" r="3.5"/><circle cx="234.0" cy="188.4" r="3.5"/><circle cx="243.0" cy="192.6" r="3.5"/><circle cx="146.7" cy="139.2" r="3.5"/><circle cx="339.5" cy="309.1" r="3.5"/><circle cx="226.6" cy="178.5" r="3.5"/><circle cx="109.1" cy="159.6" r="3.5"/><circle cx="209.1" cy="130.3" r="3.5"/><circle cx="374.9" cy="326.3" r="3.5"/><circle cx="218.5" cy="168.5" r="3.5"/><circle cx="328.8" cy="255.9" r="3.5"/><circle cx="327.7" cy="255.0" r="3.5"/><circle cx="316.7" cy="254.1" r="3.5"/><circle cx="284.6" cy="194.9" r="3.5"/><circle cx="213.1" cy="162.0" r="3.5"/><circle cx="167.6" cy="144.1" r="3.5"/><circle cx="339.2" cy="263.9" r="3.5"/><circle cx="333.2" cy="234.6" r="3.5"/><circle cx="283.1" cy="219.4" r="3.5"/><circle cx="138.1" cy="133.1" r="3.5"/><circle cx="199.7" cy="200.8" r="3.5"/><circle cx="275.3" cy="215.0" r="3.5"/><circle cx="178.9" cy="144.5" r="3.5"/><circle cx="146.4" cy="131.3" r="3.5"/><circle cx="151.5" cy="144.0" r="3.5"/><circle cx="187.4" cy="176.6" r="3.5"/><circle cx="260.0" cy="196.2" r="3.5"/><circle cx="275.6" cy="264.8" r="3.5"/><circle cx="363.3" cy="318.1" r="3.5"/><circle cx="316.7" cy="263.4" r="3.5"/><circle cx="179.0" cy="194.5" r="3.5"/><circle cx="322.6" cy="273.1" r="3.5"/><circle cx="288.1" cy="227.9" r="3.5"/><circle cx="135.8" cy="139.5" r="3.5"/><circle cx="249.7" cy="206.5" r="3.5"/><circle cx="231.0" cy="237.0" r="3.5"/><circle cx="260.8" cy="190.8" r="3.5"/><circle cx="271.2" cy="214.3" r="3.5"/><circle cx="273.5" cy="213.3" r="3.5"/><circle cx="150.0" cy="136.6" r="3.5"/><circle cx="170.0" cy="185.5" r="3.5"/><circle cx="243.2" cy="187.3" r="3.5"/><circle cx="198.4" cy="219.5" r="3.5"/><circle cx="388.2" cy="322.0" r="3.5"/><circle cx="215.7" cy="212.0" r="3.5"/><circle cx="128.1" cy="143.2" r="3.5"/><circle cx="264.3" cy="197.1" r="3.5"/><circle cx="193.4" cy="187.0" r="3.5"/><circle cx="342.3" cy="298.5" r="3.5"/><circle cx="153.0" cy="107.4" r="3.5"/><circle cx="235.9" cy="225.0" r="3.5"/><circle cx="355.8" cy="316.2" r="3.5"/><circle cx="272.4" cy="235.5" r="3.5"/><circle cx="370.1" cy="313.0" r="3.5"/><circle cx="405.4" cy="343.9" r="3.5"/><circle cx="332.9" cy="295.1" r="3.5"/><circle cx="145.7" cy="122.6" r="3.5"/><circle cx="305.0" cy="239.7" r="3.5"/><circle cx="257.3" cy="180.2" r="3.5"/><circle cx="346.7" cy="273.8" r="3.5"/><circle cx="368.0" cy="326.3" r="3.5"/><circle cx="295.0" cy="227.1" r="3.5"/><circle cx="195.4" cy="134.3" r="3.5"/><circle cx="278.6" cy="194.2" r="3.5"/><circle cx="153.1" cy="142.5" r="3.5"/><circle cx="317.0" cy="254.8" r="3.5"/><circle cx="200.6" cy="128.9" r="3.5"/><circle cx="222.6" cy="228.0" r="3.5"/><circle cx="239.8" cy="239.8" r="3.5"/><circle cx="377.9" cy="319.4" r="3.5"/><circle cx="227.7" cy="177.3" r="3.5"/><circle cx="292.6" cy="223.7" r="3.5"/><circle cx="322.8" cy="263.8" r="3.5"/><circle cx="257.1" cy="208.6" r="3.5"/><circle cx="216.8" cy="198.1" r="3.5"/><circle cx="298.8" cy="248.7" r="3.5"/><circle cx="283.0" cy="220.9" r="3.5"/><circle cx="115.3" cy="150.6" r="3.5"/><circle cx="114.6" cy="156.4" r="3.5"/><circle cx="196.6" cy="190.3" r="3.5"/><circle cx="367.1" cy="318.0" r="3.5"/><circle cx="310.9" cy="240.2" r="3.5"/><circle cx="186.3" cy="125.3" r="3.5"/><circle cx="219.2" cy="221.3" r="3.5"/><circle cx="167.4" cy="88.7" r="3.5"/><circle cx="321.7" cy="252.7" r="3.5"/><circle cx="326.6" cy="203.5" r="3.5"/><circle cx="349.8" cy="260.8" r="3.5"/><circle cx="254.8" cy="208.8" r="3.5"/><circle cx="209.8" cy="185.5" r="3.5"/><circle cx="294.5" cy="221.4" r="3.5"/><circle cx="237.7" cy="233.8" r="3.5"/><circle cx="359.1" cy="198.1" r="3.5"/><circle cx="381.8" cy="328.9" r="3.5"/><circle cx="208.0" cy="143.8" r="3.5"/><circle cx="242.4" cy="181.2" r="3.5"/><circle cx="245.3" cy="185.8" r="3.5"/><circle cx="268.4" cy="258.4" r="3.5"/><circle cx="370.5" cy="327.3" r="3.5"/><circle cx="295.1" cy="191.1" r="3.5"/><circle cx="169.9" cy="142.0" r="3.5"/><circle cx="309.9" cy="241.9" r="3.5"/><circle cx="349.1" cy="252.4" r="3.5"/><circle cx="178.3" cy="144.0" r="3.5"/><circle cx="138.4" cy="136.3" r="3.5"/><circle cx="131.1" cy="145.1" r="3.5"/><circle cx="215.6" cy="189.7" r="3.5"/><circle cx="198.7" cy="162.7" r="3.5"/><circle cx="261.0" cy="227.9" r="3.5"/><circle cx="252.6" cy="199.3" r="3.5"/><circle cx="163.0" cy="152.5" r="3.5"/><circle cx="351.0" cy="308.6" r="3.5"/><circle cx="244.2" cy="238.3" r="3.5"/><circle cx="322.7" cy="264.4" r="3.5"/><circle cx="348.4" cy="289.8" r="3.5"/><circle cx="203.1" cy="127.6" r="3.5"/><circle cx="131.1" cy="149.2" r="3.5"/><circle cx="175.8" cy="172.0" r="3.5"/><circle cx="199.4" cy="156.5" r="3.5"/><circle cx="253.8" cy="182.1" r="3.5"/><circle cx="237.9" cy="202.3" r="3.5"/><circle cx="198.2" cy="185.3" r="3.5"/><circle cx="360.1" cy="316.7" r="3.5"/><circle cx="286.2" cy="225.0" r="3.5"/><circle cx="425.1" cy="354.1" r="3.5"/><circle cx="193.2" cy="191.0" r="3.5"/><circle cx="226.6" cy="183.8" r="3.5"/><circle cx="224.2" cy="208.0" r="3.5"/><circle cx="196.7" cy="193.8" r="3.5"/><circle cx="375.4" cy="307.4" r="3.5"/><circle cx="218.3" cy="158.4" r="3.5"/><circle cx="220.5" cy="178.5" r="3.5"/><circle cx="126.5" cy="154.0" r="3.5"/><circle cx="251.2" cy="204.5" r="3.5"/><circle cx="360.4" cy="267.2" r="3.5"/><circle cx="235.9" cy="220.5" r="3.5"/><circle cx="388.4" cy="326.7" r="3.5"/><circle cx="201.5" cy="152.0" r="3.5"/><circle cx="231.9" cy="171.7" r="3.5"/><circle cx="181.0" cy="130.1" r="3.5"/><circle cx="249.6" cy="204.7" r="3.5"/><circle cx="123.8" cy="121.1" r="3.5"/><circle cx="364.4" cy="325.0" r="3.5"/><circle cx="200.5" cy="156.7" r="3.5"/><circle cx="371.2" cy="324.1" r="3.5"/><circle cx="212.5" cy="206.9" r="3.5"/><circle cx="133.6" cy="108.1" r="3.5"/><circle cx="292.2" cy="213.1" r="3.5"/><circle cx="303.6" cy="204.6" r="3.5"/><circle cx="426.6" cy="351.8" r="3.5"/><circle cx="337.2" cy="238.4" r="3.5"/><circle cx="316.3" cy="280.2" r="3.5"/><circle cx="165.2" cy="179.7" r="3.5"/><circle cx="298.6" cy="241.2" r="3.5"/><circle cx="152.8" cy="166.0" r="3.5"/><circle cx="318.4" cy="269.5" r="3.5"/><circle cx="206.3" cy="144.8" r="3.5"/><circle cx="346.8" cy="313.9" r="3.5"/><circle cx="228.6" cy="185.5" r="3.5"/><circle cx="171.8" cy="185.9" r="3.5"/><circle cx="387.3" cy="330.7" r="3.5"/><circle cx="279.1" cy="215.9" r="3.5"/><circle cx="271.7" cy="206.8" r="3.5"/><circle cx="203.5" cy="135.0" r="3.5"/><circle cx="170.6" cy="112.8" r="3.5"/><circle cx="350.5" cy="295.5" r="3.5"/><circle cx="387.2" cy="334.7" r="3.5"/><circle cx="184.8" cy="120.7" r="3.5"/><circle cx="113.7" cy="164.0" r="3.5"/><circle cx="146.4" cy="173.2" r="3.5"/><circle cx="223.0" cy="232.7" r="3.5"/><circle cx="172.1" cy="162.6" r="3.5"/><circle cx="360.4" cy="292.6" r="3.5"/><circle cx="258.6" cy="207.3" r="3.5"/><circle cx="227.0" cy="185.1" r="3.5"/><circle cx="193.1" cy="146.7" r="3.5"/><circle cx="387.1" cy="334.1" r="3.5"/><circle cx="199.4" cy="195.7" r="3.5"/><circle cx="162.0" cy="130.5" r="3.5"/><circle cx="423.2" cy="359.8" r="3.5"/><circle cx="370.8" cy="328.3" r="3.5"/><circle cx="367.0" cy="325.5" r="3.5"/><circle cx="134.5" cy="135.8" r="3.5"/><circle cx="291.4" cy="235.8" r="3.5"/><circle cx="236.0" cy="186.0" r="3.5"/><circle cx="181.5" cy="141.3" r="3.5"/><circle cx="274.2" cy="206.6" r="3.5"/><circle cx="146.7" cy="159.8" r="3.5"/><circle cx="220.2" cy="150.7" r="3.5"/><circle cx="149.4" cy="140.4" r="3.5"/><circle cx="258.4" cy="185.8" r="3.5"/><circle cx="219.2" cy="178.2" r="3.5"/><circle cx="376.5" cy="307.0" r="3.5"/><circle cx="141.5" cy="109.3" r="3.5"/><circle cx="194.0" cy="125.5" r="3.5"/><circle cx="189.6" cy="136.4" r="3.5"/><circle cx="259.4" cy="227.1" r="3.5"/><circle cx="147.6" cy="176.5" r="3.5"/><circle cx="203.0" cy="156.0" r="3.5"/><circle cx="341.5" cy="310.3" r="3.5"/><circle cx="184.3" cy="139.2" r="3.5"/><circle cx="219.6" cy="173.3" r="3.5"/><circle cx="261.9" cy="251.5" r="3.5"/><circle cx="138.7" cy="173.3" r="3.5"/><circle cx="217.7" cy="192.1" r="3.5"/><circle cx="206.4" cy="188.4" r="3.5"/><circle cx="186.4" cy="137.5" r="3.5"/><circle cx="183.2" cy="131.9" r="3.5"/><circle cx="240.1" cy="185.8" r="3.5"/><circle cx="198.0" cy="151.8" r="3.5"/><circle cx="347.5" cy="308.7" r="3.5"/><circle cx="210.0" cy="150.2" r="3.5"/><circle cx="266.7" cy="205.5" r="3.5"/><circle cx="374.4" cy="317.6" r="3.5"/><circle cx="263.5" cy="202.3" r="3.5"/><circle cx="182.1" cy="135.3" r="3.5"/><circle cx="236.6" cy="155.4" r="3.5"/><circle cx="164.0" cy="121.9" r="3.5"/><circle cx="308.5" cy="245.7" r="3.5"/><circle cx="301.5" cy="229.4" r="3.5"/><circle cx="284.0" cy="220.3" r="3.5"/><circle cx="294.9" cy="227.0" r="3.5"/><circle cx="280.5" cy="215.9" r="3.5"/><circle cx="382.5" cy="333.4" r="3.5"/><circle cx="232.7" cy="182.6" r="3.5"/><circle cx="191.9" cy="201.3" r="3.5"/><circle cx="297.9" cy="271.8" r="3.5"/><circle cx="197.2" cy="199.5" r="3.5"/><circle cx="320.5" cy="265.9" r="3.5"/><circle cx="136.0" cy="176.5" r="3.5"/><circle cx="278.1" cy="203.6" r="3.5"/><circle cx="110.8" cy="162.1" r="3.5"/><circle cx="160.3" cy="141.4" r="3.5"/><circle cx="253.5" cy="193.2" r="3.5"/><circle cx="181.0" cy="139.5" r="3.5"/><circle cx="206.5" cy="165.7" r="3.5"/><circle cx="399.6" cy="332.8" r="3.5"/><circle cx="217.1" cy="163.1" r="3.5"/><circle cx="156.1" cy="140.5" r="3.5"/><circle cx="181.9" cy="127.4" r="3.5"/><circle cx="238.4" cy="187.9" r="3.5"/><circle cx="303.4" cy="206.3" r="3.5"/><circle cx="360.9" cy="319.0" r="3.5"/><circle cx="420.8" cy="353.0" r="3.5"/><circle cx="222.8" cy="189.0" r="3.5"/><circle cx="307.2" cy="206.4" r="3.5"/><circle cx="319.8" cy="263.8" r="3.5"/><circle cx="203.4" cy="208.3" r="3.5"/><circle cx="204.0" cy="221.0" r="3.5"/><circle cx="360.1" cy="282.0" r="3.5"/><circle cx="168.2" cy="170.2" r="3.5"/><circle cx="249.2" cy="216.9" r="3.5"/><circle cx="134.8" cy="139.9" r="3.5"/><circle cx="352.1" cy="317.0" r="3.5"/><circle cx="206.9" cy="157.7" r="3.5"/><circle cx="280.0" cy="220.9" r="3.5"/><circle cx="378.0" cy="321.1" r="3.5"/><circle cx="317.4" cy="214.9" r="3.5"/><circle cx="207.0" cy="193.0" r="3.5"/><circle cx="190.6" cy="138.5" r="3.5"/><circle cx="274.1" cy="215.6" r="3.5"/><circle cx="366.9" cy="314.3" r="3.5"/><circle cx="221.8" cy="172.4" r="3.5"/><circle cx="237.4" cy="189.2" r="3.5"/><circle cx="346.0" cy="305.7" r="3.5"/><circle cx="272.0" cy="214.7" r="3.5"/><circle cx="248.4" cy="222.3" r="3.5"/><circle cx="266.7" cy="205.5" r="3.5"/><circle cx="134.9" cy="141.8" r="3.5"/><circle cx="409.9" cy="352.1" r="3.5"/><circle cx="164.4" cy="137.8" r="3.5"/><circle cx="301.0" cy="277.7" r="3.5"/><circle cx="182.9" cy="137.4" r="3.5"/><circle cx="195.8" cy="149.2" r="3.5"/><circle cx="160.4" cy="182.8" r="3.5"/><circle cx="131.4" cy="171.4" r="3.5"/><circle cx="363.8" cy="292.7" r="3.5"/><circle cx="193.7" cy="182.9" r="3.5"/><circle cx="299.1" cy="273.5" r="3.5"/><circle cx="273.7" cy="265.2" r="3.5"/><circle cx="143.2" cy="144.9" r="3.5"/><circle cx="264.2" cy="204.6" r="3.5"/><circle cx="170.9" cy="135.4" r="3.5"/><circle cx="179.6" cy="154.3" r="3.5"/><circle cx="294.5" cy="225.9" r="3.5"/><circle cx="251.9" cy="217.1" r="3.5"/><circle cx="339.3" cy="298.4" r="3.5"/><circle cx="148.4" cy="150.3" r="3.5"/><circle cx="106.5" cy="141.8" r="3.5"/><circle cx="310.4" cy="232.4" r="3.5"/><circle cx="144.6" cy="181.7" r="3.5"/><circle cx="177.6" cy="162.0" r="3.5"/><circle cx="316.8" cy="267.3" r="3.5"/><circle cx="180.8" cy="137.9" r="3.5"/><circle cx="241.5" cy="223.9" r="3.5"/><circle cx="240.5" cy="173.8" r="3.5"/><circle cx="216.7" cy="163.1" r="3.5"/><circle cx="351.5" cy="280.5" r="3.5"/><circle cx="211.7" cy="158.4" r="3.5"/><circle cx="412.7" cy="353.5" r="3.5"/><circle cx="217.3" cy="174.9" r="3.5"/><circle cx="160.2" cy="189.0" r="3.5"/><circle cx="177.1" cy="92.7" r="3.5"/><circle cx="204.5" cy="222.4" r="3.5"/><circle cx="167.5" cy="171.3" r="3.5"/><circle cx="163.4" cy="178.5" r="3.5"/><circle cx="425.3" cy="364.5" r="3.5"/><circle cx="248.0" cy="196.9" r="3.5"/><circle cx="131.1" cy="140.5" r="3.5"/><circle cx="314.7" cy="277.0" r="3.5"/><circle cx="212.5" cy="212.9" r="3.5"/><circle cx="132.6" cy="138.2" r="3.5"/><circle cx="270.7" cy="233.7" r="3.5"/><circle cx="425.7" cy="360.6" r="3.5"/><circle cx="139.7" cy="141.8" r="3.5"/><circle cx="225.0" cy="177.1" r="3.5"/><circle cx="116.3" cy="144.9" r="3.5"/><circle cx="204.8" cy="201.6" r="3.5"/><circle cx="179.9" cy="145.3" r="3.5"/><circle cx="208.3" cy="221.5" r="3.5"/><circle cx="257.4" cy="236.3" r="3.5"/><circle cx="289.9" cy="229.1" r="3.5"/><circle cx="202.1" cy="121.0" r="3.5"/><circle cx="131.3" cy="169.0" r="3.5"/><circle cx="333.5" cy="281.6" r="3.5"/><circle cx="172.3" cy="131.0" r="3.5"/><circle cx="224.1" cy="207.8" r="3.5"/><circle cx="175.7" cy="171.8" r="3.5"/><circle cx="185.5" cy="134.3" r="3.5"/><circle cx="425.5" cy="366.0" r="3.5"/><circle cx="155.8" cy="143.7" r="3.5"/><circle cx="231.0" cy="171.9" r="3.5"/><circle cx="328.2" cy="277.3" r="3.5"/><circle cx="184.7" cy="154.5" r="3.5"/><circle cx="181.9" cy="143.3" r="3.5"/><circle cx="326.7" cy="194.1" r="3.5"/><circle cx="340.2" cy="297.9" r="3.5"/><circle cx="146.3" cy="171.6" r="3.5"/><circle cx="126.6" cy="134.6" r="3.5"/><circle cx="274.9" cy="207.1" r="3.5"/><circle cx="176.4" cy="160.5" r="3.5"/><circle cx="140.5" cy="154.8" r="3.5"/><circle cx="176.4" cy="132.6" r="3.5"/><circle cx="140.8" cy="143.9" r="3.5"/><circle cx="364.3" cy="324.8" r="3.5"/><circle cx="328.8" cy="294.6" r="3.5"/><circle cx="194.7" cy="183.4" r="3.5"/><circle cx="348.4" cy="291.4" r="3.5"/><circle cx="270.4" cy="217.6" r="3.5"/><circle cx="196.6" cy="143.2" r="3.5"/><circle cx="348.0" cy="229.2" r="3.5"/><circle cx="129.1" cy="143.7" r="3.5"/><circle cx="216.3" cy="172.3" r="3.5"/><circle cx="231.2" cy="184.9" r="3.5"/><circle cx="212.6" cy="193.4" r="3.5"/><circle cx="272.4" cy="262.1" r="3.5"/><circle cx="394.4" cy="334.9" r="3.5"/><circle cx="350.3" cy="292.4" r="3.5"/><circle cx="167.6" cy="140.2" r="3.5"/><circle cx="199.9" cy="150.0" r="3.5"/><circle cx="301.5" cy="261.4" r="3.5"/><circle cx="374.5" cy="282.3" r="3.5"/><circle cx="124.2" cy="137.3" r="3.5"/><circle cx="145.7" cy="156.9" r="3.5"/><circle cx="208.5" cy="201.2" r="3.5"/><circle cx="279.8" cy="211.8" r="3.5"/><circle cx="119.7" cy="142.0" r="3.5"/><circle cx="365.1" cy="301.6" r="3.5"/><circle cx="197.2" cy="198.9" r="3.5"/><circle cx="355.2" cy="247.5" r="3.5"/><circle cx="212.7" cy="155.7" r="3.5"/><circle cx="268.5" cy="199.2" r="3.5"/><circle cx="183.0" cy="164.4" r="3.5"/><circle cx="175.9" cy="129.9" r="3.5"/><circle cx="249.0" cy="175.3" r="3.5"/><circle cx="332.0" cy="302.6" r="3.5"/><circle cx="246.3" cy="213.6" r="3.5"/><circle cx="348.1" cy="297.8" r="3.5"/><circle cx="191.1" cy="92.2" r="3.5"/><circle cx="190.9" cy="143.8" r="3.5"/><circle cx="419.1" cy="358.6" r="3.5"/><circle cx="354.9" cy="317.8" r="3.5"/><circle cx="257.1" cy="200.5" r="3.5"/><circle cx="115.8" cy="148.9" r="3.5"/><circle cx="266.5" cy="221.4" r="3.5"/><circle cx="161.7" cy="130.0" r="3.5"/><circle cx="290.8" cy="252.9" r="3.5"/><circle cx="303.3" cy="242.9" r="3.5"/><circle cx="344.8" cy="274.2" r="3.5"/><circle cx="117.3" cy="146.2" r="3.5"/><circle cx="258.8" cy="173.7" r="3.5"/><circle cx="255.4" cy="234.3" r="3.5"/><circle cx="299.7" cy="244.4" r="3.5"/><circle cx="243.1" cy="208.0" r="3.5"/><circle cx="313.4" cy="250.1" r="3.5"/><circle cx="167.7" cy="131.5" r="3.5"/><circle cx="118.6" cy="148.0" r="3.5"/><circle cx="116.2" cy="151.5" r="3.5"/><circle cx="253.9" cy="203.4" r="3.5"/><circle cx="296.4" cy="231.1" r="3.5"/><circle cx="172.9" cy="113.5" r="3.5"/><circle cx="240.1" cy="214.6" r="3.5"/><circle cx="220.7" cy="174.2" r="3.5"/><circle cx="403.3" cy="339.1" r="3.5"/><circle cx="158.1" cy="187.2" r="3.5"/><circle cx="277.3" cy="225.9" r="3.5"/><circle cx="251.7" cy="240.4" r="3.5"/><circle cx="332.6" cy="284.7" r="3.5"/><circle cx="371.3" cy="321.0" r="3.5"/><circle cx="195.6" cy="150.0" r="3.5"/><circle cx="417.0" cy="344.2" r="3.5"/><circle cx="138.6" cy="140.2" r="3.5"/><circle cx="338.1" cy="295.9" r="3.5"/><circle cx="226.8" cy="172.4" r="3.5"/><circle cx="401.6" cy="348.0" r="3.5"/><circle cx="249.8" cy="179.2" r="3.5"/><circle cx="360.5" cy="302.7" r="3.5"/><circle cx="270.7" cy="199.0" r="3.5"/><circle cx="345.3" cy="304.3" r="3.5"/><circle cx="172.9" cy="201.2" r="3.5"/><circle cx="285.9" cy="220.6" r="3.5"/><circle cx="280.4" cy="215.7" r="3.5"/><circle cx="282.0" cy="236.2" r="3.5"/><circle cx="154.5" cy="144.4" r="3.5"/><circle cx="185.0" cy="190.8" r="3.5"/><circle cx="356.7" cy="300.3" r="3.5"/><circle cx="139.0" cy="170.3" r="3.5"/><circle cx="202.1" cy="180.4" r="3.5"/><circle cx="340.4" cy="293.3" r="3.5"/><circle cx="193.2" cy="179.4" r="3.5"/><circle cx="278.3" cy="265.6" r="3.5"/><circle cx="109.8" cy="155.9" r="3.5"/><circle cx="225.0" cy="181.3" r="3.5"/><circle cx="331.8" cy="286.0" r="3.5"/><circle cx="159.0" cy="187.3" r="3.5"/><circle cx="202.2" cy="128.9" r="3.5"/><circle cx="300.6" cy="278.4" r="3.5"/><circle cx="397.9" cy="324.2" r="3.5"/><circle cx="248.2" cy="197.4" r="3.5"/><circle cx="216.7" cy="174.4" r="3.5"/><circle cx="302.5" cy="243.5" r="3.5"/><circle cx="259.6" cy="191.8" r="3.5"/><circle cx="124.2" cy="139.5" r="3.5"/><circle cx="123.6" cy="143.8" r="3.5"/><circle cx="330.6" cy="283.9" r="3.5"/><circle cx="416.9" cy="361.6" r="3.5"/><circle cx="326.8" cy="296.8" r="3.5"/><circle cx="325.6" cy="288.9" r="3.5"/><circle cx="159.7" cy="153.9" r="3.5"/><circle cx="247.3" cy="246.5" r="3.5"/><circle cx="236.2" cy="226.3" r="3.5"/><circle cx="179.7" cy="200.1" r="3.5"/><circle cx="187.7" cy="144.8" r="3.5"/><circle cx="235.9" cy="230.9" r="3.5"/><circle cx="224.1" cy="150.7" r="3.5"/><circle cx="162.2" cy="172.2" r="3.5"/><circle cx="348.0" cy="267.6" r="3.5"/><circle cx="251.7" cy="192.4" r="3.5"/><circle cx="187.0" cy="138.5" r="3.5"/><circle cx="107.0" cy="157.2" r="3.5"/><circle cx="253.8" cy="231.5" r="3.5"/><circle cx="168.9" cy="159.2" r="3.5"/><circle cx="345.4" cy="265.3" r="3.5"/><circle cx="174.2" cy="189.9" r="3.5"/><circle cx="377.6" cy="319.9" r="3.5"/><circle cx="247.2" cy="169.9" r="3.5"/><circle cx="260.5" cy="254.5" r="3.5"/><circle cx="307.5" cy="250.4" r="3.5"/><circle cx="136.2" cy="170.7" r="3.5"/><circle cx="359.0" cy="315.9" r="3.5"/><circle cx="380.0" cy="274.4" r="3.5"/><circle cx="343.5" cy="310.6" r="3.5"/><circle cx="139.4" cy="163.5" r="3.5"/><circle cx="220.7" cy="177.2" r="3.5"/><circle cx="209.0" cy="173.7" r="3.5"/><circle cx="333.9" cy="291.3" r="3.5"/><circle cx="171.9" cy="176.9" r="3.5"/><circle cx="299.8" cy="279.7" r="3.5"/><circle cx="121.5" cy="138.8" r="3.5"/><circle cx="278.3" cy="210.4" r="3.5"/><circle cx="229.3" cy="238.3" r="3.5"/><circle cx="404.1" cy="349.1" r="3.5"/><circle cx="257.4" cy="178.0" r="3.5"/><circle cx="190.7" cy="156.6" r="3.5"/><circle cx="136.2" cy="179.2" r="3.5"/><circle cx="191.6" cy="126.7" r="3.5"/><circle cx="296.4" cy="237.6" r="3.5"/><circle cx="164.6" cy="186.4" r="3.5"/><circle cx="203.1" cy="147.1" r="3.5"/><circle cx="302.8" cy="259.0" r="3.5"/><circle cx="331.1" cy="303.0" r="3.5"/><circle cx="150.9" cy="167.3" r="3.5"/><circle cx="214.1" cy="164.8" r="3.5"/><circle cx="166.5" cy="145.7" r="3.5"/><circle cx="217.8" cy="142.5" r="3.5"/><circle cx="205.5" cy="181.6" r="3.5"/><circle cx="390.7" cy="327.2" r="3.5"/><circle cx="157.2" cy="152.7" r="3.5"/><circle cx="154.9" cy="140.3" r="3.5"/><circle cx="108.5" cy="157.2" r="3.5"/><circle cx="302.2" cy="247.2" r="3.5"/><circle cx="156.7" cy="121.1" r="3.5"/><circle cx="250.6" cy="231.8" r="3.5"/><circle cx="199.0" cy="139.0" r="3.5"/><circle cx="344.4" cy="301.1" r="3.5"/><circle cx="146.8" cy="137.6" r="3.5"/><circle cx="228.3" cy="236.2" r="3.5"/><circle cx="226.5" cy="179.5" r="3.5"/><circle cx="325.5" cy="281.0" r="3.5"/><circle cx="331.5" cy="271.1" r="3.5"/><circle cx="257.6" cy="218.5" r="3.5"/><circle cx="362.3" cy="322.6" r="3.5"/><circle cx="288.6" cy="195.6" r="3.5"/><circle cx="173.1" cy="134.4" r="3.5"/><circle cx="337.4" cy="306.1" r="3.5"/><circle cx="172.5" cy="130.0" r="3.5"/><circle cx="355.5" cy="315.7" r="3.5"/><circle cx="146.2" cy="168.8" r="3.5"/><circle cx="218.6" cy="170.8" r="3.5"/><circle cx="243.8" cy="187.0" r="3.5"/><circle cx="185.6" cy="144.0" r="3.5"/><circle cx="286.2" cy="228.7" r="3.5"/><circle cx="315.5" cy="290.0" r="3.5"/><circle cx="273.5" cy="197.6" r="3.5"/><circle cx="264.3" cy="244.6" r="3.5"/><circle cx="165.0" cy="150.9" r="3.5"/><circle cx="224.3" cy="179.2" r="3.5"/><circle cx="360.7" cy="256.3" r="3.5"/><circle cx="165.5" cy="177.9" r="3.5"/><circle cx="313.8" cy="247.3" r="3.5"/><circle cx="157.8" cy="102.0" r="3.5"/><circle cx="376.9" cy="330.3" r="3.5"/><circle cx="209.9" cy="147.2" r="3.5"/><circle cx="265.5" cy="201.0" r="3.5"/><circle cx="299.4" cy="234.7" r="3.5"/><circle cx="358.4" cy="293.9" r="3.5"/><circle cx="299.5" cy="215.5" r="3.5"/><circle cx="303.1" cy="265.7" r="3.5"/><circle cx="216.9" cy="170.2" r="3.5"/><circle cx="320.4" cy="287.3" r="3.5"/><circle cx="192.6" cy="147.3" r="3.5"/><circle cx="347.7" cy="308.7" r="3.5"/><circle cx="345.2" cy="288.1" r="3.5"/><circle cx="155.1" cy="177.6" r="3.5"/><circle cx="417.4" cy="360.6" r="3.5"/><circle cx="241.8" cy="184.5" r="3.5"/><circle cx="325.4" cy="258.9" r="3.5"/><circle cx="342.4" cy="282.9" r="3.5"/><circle cx="222.5" cy="200.0" r="3.5"/><circle cx="323.0" cy="216.5" r="3.5"/><circle cx="265.7" cy="247.6" r="3.5"/><circle cx="421.3" cy="359.7" r="3.5"/><circle cx="235.0" cy="200.7" r="3.5"/><circle cx="321.4" cy="262.6" r="3.5"/><circle cx="222.9" cy="211.8" r="3.5"/><circle cx="210.0" cy="200.7" r="3.5"/><circle cx="146.5" cy="117.8" r="3.5"/><circle cx="115.7" cy="159.8" r="3.5"/><circle cx="179.5" cy="160.4" r="3.5"/><circle cx="338.6" cy="305.2" r="3.5"/><circle cx="296.6" cy="229.2" r="3.5"/><circle cx="239.6" cy="184.8" r="3.5"/><circle cx="261.7" cy="202.3" r="3.5"/><circle cx="118.6" cy="147.1" r="3.5"/><circle cx="314.8" cy="262.8" r="3.5"/><circle cx="184.9" cy="134.0" r="3.5"/><circle cx="299.7" cy="241.7" r="3.5"/><circle cx="194.1" cy="213.9" r="3.5"/><circle cx="136.5" cy="146.1" r="3.5"/><circle cx="309.0" cy="243.4" r="3.5"/><circle cx="264.2" cy="189.0" r="3.5"/><circle cx="214.4" cy="170.6" r="3.5"/><circle cx="263.7" cy="205.0" r="3.5"/><circle cx="228.5" cy="191.3" r="3.5"/><circle cx="321.3" cy="273.0" r="3.5"/><circle cx="352.4" cy="297.9" r="3.5"/><circle cx="224.7" cy="179.5" r="3.5"/><circle cx="136.5" cy="125.7" r="3.5"/><circle cx="239.5" cy="233.8" r="3.5"/><circle cx="298.9" cy="218.4" r="3.5"/><circle cx="122.2" cy="171.8" r="3.5"/><circle cx="224.7" cy="165.4" r="3.5"/><circle cx="295.6" cy="212.1" r="3.5"/><circle cx="340.0" cy="279.0" r="3.5"/><circle cx="322.7" cy="284.6" r="3.5"/><circle cx="415.8" cy="314.9" r="3.5"/><circle cx="296.3" cy="248.1" r="3.5"/><circle cx="290.2" cy="231.1" r="3.5"/><circle cx="250.8" cy="190.2" r="3.5"/><circle cx="186.2" cy="143.8" r="3.5"/><circle cx="291.6" cy="273.9" r="3.5"/><circle cx="215.1" cy="161.2" r="3.5"/><circle cx="116.0" cy="120.0" r="3.5"/><circle cx="236.3" cy="187.1" r="3.5"/><circle cx="254.3" cy="215.3" r="3.5"/><circle cx="180.4" cy="137.8" r="3.5"/><circle cx="185.7" cy="189.4" r="3.5"/><circle cx="204.8" cy="158.4" r="3.5"/><circle cx="291.2" cy="254.7" r="3.5"/><circle cx="337.5" cy="260.7" r="3.5"/><circle cx="425.3" cy="364.7" r="3.5"/><circle cx="305.2" cy="278.8" r="3.5"/><circle cx="282.3" cy="221.0" r="3.5"/><circle cx="280.8" cy="232.7" r="3.5"/><circle cx="347.8" cy="311.0" r="3.5"/><circle cx="326.5" cy="276.5" r="3.5"/><circle cx="164.0" cy="102.8" r="3.5"/><circle cx="197.9" cy="139.6" r="3.5"/><circle cx="140.4" cy="177.1" r="3.5"/><circle cx="273.6" cy="216.4" r="3.5"/><circle cx="293.4" cy="223.6" r="3.5"/><circle cx="323.9" cy="251.5" r="3.5"/><circle cx="308.6" cy="283.8" r="3.5"/><circle cx="342.8" cy="269.4" r="3.5"/><circle cx="267.0" cy="217.3" r="3.5"/><circle cx="328.5" cy="250.3" r="3.5"/><circle cx="169.6" cy="138.2" r="3.5"/><circle cx="213.5" cy="189.2" r="3.5"/><circle cx="383.1" cy="321.0" r="3.5"/><circle cx="331.6" cy="282.9" r="3.5"/><circle cx="189.7" cy="140.9" r="3.5"/><circle cx="153.4" cy="166.6" r="3.5"/><circle cx="345.0" cy="306.4" r="3.5"/><circle cx="334.6" cy="198.1" r="3.5"/><circle cx="378.8" cy="326.5" r="3.5"/><circle cx="297.2" cy="226.5" r="3.5"/><circle cx="292.4" cy="218.1" r="3.5"/><circle cx="173.3" cy="198.9" r="3.5"/><circle cx="183.0" cy="162.4" r="3.5"/><circle cx="206.8" cy="197.2" r="3.5"/><circle cx="337.4" cy="292.7" r="3.5"/><circle cx="337.7" cy="295.6" r="3.5"/><circle cx="130.2" cy="174.2" r="3.5"/><circle cx="344.3" cy="255.9" r="3.5"/><circle cx="220.4" cy="162.1" r="3.5"/><circle cx="251.6" cy="193.3" r="3.5"/><circle cx="201.0" cy="129.4" r="3.5"/><circle cx="269.9" cy="226.0" r="3.5"/><circle cx="365.7" cy="321.1" r="3.5"/><circle cx="141.7" cy="144.6" r="3.5"/><circle cx="253.2" cy="225.1" r="3.5"/><circle cx="345.7" cy="243.8" r="3.5"/><circle cx="140.0" cy="123.9" r="3.5"/><circle cx="175.2" cy="139.5" r="3.5"/><circle cx="421.9" cy="361.2" r="3.5"/><circle cx="286.1" cy="245.0" r="3.5"/><circle cx="411.1" cy="349.6" r="3.5"/><circle cx="177.0" cy="158.3" r="3.5"/><circle cx="288.2" cy="233.4" r="3.5"/><circle cx="254.3" cy="198.9" r="3.5"/><circle cx="236.7" cy="236.0" r="3.5"/><circle cx="220.8" cy="173.8" r="3.5"/><circle cx="314.9" cy="250.5" r="3.5"/><circle cx="175.3" cy="172.6" r="3.5"/><circle cx="252.6" cy="184.5" r="3.5"/><circle cx="417.9" cy="340.3" r="3.5"/><circle cx="223.7" cy="200.7" r="3.5"/><circle cx="164.8" cy="144.0" r="3.5"/><circle cx="103.5" cy="157.9" r="3.5"/><circle cx="105.9" cy="160.2" r="3.5"/><circle cx="108.7" cy="162.9" r="3.5"/><circle cx="111.3" cy="164.6" r="3.5"/><circle cx="112.4" cy="165.7" r="3.5"/><circle cx="115.7" cy="167.5" r="3.5"/><circle cx="117.8" cy="168.2" r="3.5"/><circle cx="118.7" cy="169.9" r="3.5"/><circle cx="121.5" cy="170.7" r="3.5"/><circle cx="124.0" cy="173.1" r="3.5"/><circle cx="125.2" cy="173.6" r="3.5"/><circle cx="128.6" cy="176.6" r="3.5"/><circle cx="130.5" cy="177.0" r="3.5"/><circle cx="133.0" cy="178.9" r="3.5"/><circle cx="134.9" cy="180.0" r="3.5"/><circle cx="137.1" cy="181.8" r="3.5"/><circle cx="139.8" cy="184.1" r="3.5"/><circle cx="142.1" cy="184.9" r="3.5"/><circle cx="143.2" cy="185.7" r="3.5"/><circle cx="146.0" cy="187.1" r="3.5"/><circle cx="148.1" cy="188.4" r="3.5"/><circle cx="150.2" cy="190.1" r="3.5"/><circle cx="152.8" cy="191.5" r="3.5"/><circle cx="153.8" cy="191.6" r="3.5"/><circle cx="157.0" cy="193.3" r="3.5"/><circle cx="159.6" cy="195.9" r="3.5"/><circle cx="160.7" cy="195.9" r="3.5"/><circle cx="163.3" cy="197.7" r="3.5"/><circle cx="165.6" cy="199.6" r="3.5"/><circle cx="167.2" cy="199.9" r="3.5"/><circle cx="170.5" cy="202.5" r="3.5"/><circle cx="172.6" cy="202.9" r="3.5"/><circle cx="175.0" cy="204.4" r="3.5"/><circle cx="176.1" cy="205.2" r="3.5"/><circle cx="178.3" cy="207.0" r="3.5"/><circle cx="180.5" cy="208.1" r="3.5"/><circle cx="183.7" cy="210.4" r="3.5"/><circle cx="185.1" cy="211.1" r="3.5"/><circle cx="187.9" cy="213.1" r="3.5"/><circle cx="190.2" cy="214.7" r="3.5"/><circle cx="192.3" cy="216.0" r="3.5"/><circle cx="194.0" cy="216.4" r="3.5"/><circle cx="195.9" cy="217.7" r="3.5"/><circle cx="198.2" cy="219.9" r="3.5"/><circle cx="201.2" cy="221.3" r="3.5"/><circle cx="202.7" cy="222.3" r="3.5"/><circle cx="204.5" cy="223.0" r="3.5"/><circle cx="207.9" cy="225.4" r="3.5"/><circle cx="209.5" cy="226.3" r="3.5"/><circle cx="211.9" cy="228.5" r="3.5"/><circle cx="214.5" cy="230.0" r="3.5"/><circle cx="216.7" cy="230.5" r="3.5"/><circle cx="219.1" cy="233.0" r="3.5"/><circle cx="221.1" cy="233.2" r="3.5"/><circle cx="223.2" cy="234.3" r="3.5"/><circle cx="224.3" cy="234.9" r="3.5"/><circle cx="227.0" cy="237.0" r="3.5"/><circle cx="230.2" cy="239.3" r="3.5"/><circle cx="231.6" cy="240.4" r="3.5"/><circle cx="234.1" cy="241.4" r="3.5"/><circle cx="235.7" cy="241.9" r="3.5"/><circle cx="238.9" cy="244.8" r="3.5"/><circle cx="240.7" cy="245.2" r="3.5"/><circle cx="242.1" cy="246.7" r="3.5"/><circle cx="245.0" cy="247.6" r="3.5"/><circle cx="247.0" cy="249.5" r="3.5"/><circle cx="248.7" cy="250.3" r="3.5"/><circle cx="251.1" cy="251.9" r="3.5"/><circle cx="253.3" cy="253.3" r="3.5"/><circle cx="255.1" cy="253.9" r="3.5"/><circle cx="258.6" cy="255.7" r="3.5"/><circle cx="260.7" cy="258.2" r="3.5"/><circle cx="262.3" cy="258.4" r="3.5"/><circle cx="265.4" cy="260.3" r="3.5"/><circle cx="266.4" cy="261.0" r="3.5"/><circle cx="269.7" cy="262.9" r="3.5"/><circle cx="271.0" cy="264.3" r="3.5"/><circle cx="273.1" cy="265.8" r="3.5"/><circle cx="276.2" cy="267.1" r="3.5"/><circle cx="277.5" cy="268.6" r="3.5"/><circle cx="280.1" cy="269.3" r="3.5"/><circle cx="281.9" cy="271.5" r="3.5"/><circle cx="285.1" cy="273.4" r="3.5"/><circle cx="286.6" cy="274.4" r="3.5"/><circle cx="288.7" cy="275.3" r="3.5"/><circle cx="291.6" cy="277.7" r="3.5"/><circle cx="292.8" cy="277.8" r="3.5"/><circle cx="295.2" cy="279.0" r="3.5"/><circle cx="297.4" cy="280.4" r="3.5"/><circle cx="299.5" cy="281.7" r="3.5"/><circle cx="302.0" cy="283.6" r="3.5"/><circle cx="304.7" cy="285.3" r="3.5"/><circle cx="306.9" cy="287.6" r="3.5"/><circle cx="309.1" cy="288.3" r="3.5"/><circle cx="310.5" cy="289.0" r="3.5"/><circle cx="312.5" cy="291.0" r="3.5"/><circle cx="315.0" cy="292.6" r="3.5"/><circle cx="318.0" cy="294.7" r="3.5"/><circle cx="319.7" cy="296.1" r="3.5"/><circle cx="321.9" cy="297.4" r="3.5"/><circle cx="324.1" cy="298.6" r="3.5"/><circle cx="326.4" cy="300.3" r="3.5"/><circle cx="328.0" cy="300.7" r="3.5"/><circle cx="330.6" cy="302.2" r="3.5"/><circle cx="333.3" cy="304.8" r="3.5"/><circle cx="334.8" cy="305.9" r="3.5"/><circle cx="337.2" cy="307.5" r="3.5"/><circle cx="338.8" cy="308.2" r="3.5"/><circle cx="341.3" cy="310.1" r="3.5"/><circle cx="343.4" cy="310.8" r="3.5"/><circle cx="240.1" cy="132.5" r="3.5"/><circle cx="308.0" cy="209.9" r="3.5"/><circle cx="411.5" cy="332.0" r="3.5"/><circle cx="441.5" cy="367.4" r="3.5"/><circle cx="461.9" cy="385.5" r="3.5"/><circle cx="474.1" cy="391.1" r="3.5"/><circle cx="418.3" cy="360.8" r="3.5"/><circle cx="424.7" cy="361.5" r="3.5"/><circle cx="205.0" cy="27.5" r="3.5"/><circle cx="188.9" cy="33.9" r="3.5"/><circle cx="195.8" cy="61.4" r="3.5"/><circle cx="199.4" cy="64.2" r="3.5"/><circle cx="173.9" cy="74.6" r="3.5"/><circle cx="196.8" cy="80.0" r="3.5"/><circle cx="214.4" cy="75.2" r="3.5"/><circle cx="216.4" cy="81.0" r="3.5"/><circle cx="227.9" cy="76.4" r="3.5"/><circle cx="238.9" cy="80.0" r="3.5"/><circle cx="145.1" cy="90.2" r="3.5"/><circle cx="171.6" cy="88.2" r="3.5"/><circle cx="256.4" cy="95.0" r="3.5"/><circle cx="113.2" cy="111.1" r="3.5"/><circle cx="227.9" cy="111.6" r="3.5"/><circle cx="248.3" cy="120.0" r="3.5"/><circle cx="266.9" cy="118.5" r="3.5"/><circle cx="269.4" cy="120.3" r="3.5"/><circle cx="264.6" cy="129.2" r="3.5"/><circle cx="252.1" cy="133.2" r="3.5"/><circle cx="261.0" cy="133.8" r="3.5"/><circle cx="255.4" cy="139.6" r="3.5"/><circle cx="263.3" cy="162.3" r="3.5"/><circle cx="303.7" cy="189.3" r="3.5"/><circle cx="329.9" cy="185.7" r="3.5"/><circle cx="355.2" cy="182.7" r="3.5"/><circle cx="322.5" cy="203.6" r="3.5"/><circle cx="327.9" cy="203.6" r="3.5"/><circle cx="356.2" cy="223.2" r="3.5"/><circle cx="361.0" cy="253.2" r="3.5"/><circle cx="369.4" cy="259.4" r="3.5"/><circle cx="385.5" cy="255.3" r="3.5"/><circle cx="463.2" cy="241.3" r="3.5"/><circle cx="436.9" cy="278.5" r="3.5"/><circle cx="407.4" cy="283.1" r="3.5"/><circle cx="413.8" cy="307.3" r="3.5"/><circle cx="439.5" cy="348.8" r="3.5"/><circle cx="451.7" cy="345.0" r="3.5"/><circle cx="475.7" cy="371.2" r="3.5"/><circle cx="565.1" cy="441.8" r="3.5"/><circle cx="655.4" cy="511.2" r="3.5"/><circle cx="633.8" cy="528.0" r="3.5"/><circle cx="662.5" cy="533.6" r="3.5"/><circle cx="655.9" cy="550.2" r="3.5"/><circle cx="695.4" cy="545.9" r="3.5"/><circle cx="688.8" cy="555.0" r="3.5"/><circle cx="691.6" cy="557.6" r="3.5"/><circle cx="703.5" cy="409.1" r="3.5"/><circle cx="709.6" cy="438.0" r="3.5"/><circle cx="742.5" cy="560.5" r="3.5"/><circle cx="757.0" cy="567.4" r="3.5"/><circle cx="702.0" cy="587.0" r="3.5"/></g>
</g>
<g fill="none" stroke="#434c4c" stroke-width="1.5">
<rect x="60.9" y="0.6" width="723.1" height="723.3"/>
<line x1="126.1" y1="723.9" x2="126.1" y2="734.7"/><line x1="287.3" y1="723.9" x2="287.3" y2="734.7"/><line x1="449.5" y1="723.9" x2="449.5" y2="734.7"/><line x1="610.6" y1="723.9" x2="610.6" y2="734.7"/><line x1="773.0" y1="723.9" x2="773.0" y2="734.7"/><line x1="49.9" y1="100.0" x2="60.9" y2="100.0"/><line x1="49.9" y1="201.3" x2="60.9" y2="201.3"/><line x1="49.9" y1="302.3" x2="60.9" y2="302.3"/><line x1="49.9" y1="403.8" x2="60.9" y2="403.8"/><line x1="49.9" y1="505.5" x2="60.9" y2="505.5"/><line x1="49.9" y1="606.9" x2="60.9" y2="606.9"/><line x1="49.9" y1="708.3" x2="60.9" y2="708.3"/>
</g>
<g font-size="17.5px">
<text x="126.1" y="754.3" text-anchor="middle">−5</text><text x="287.3" y="754.3" text-anchor="middle">−4</text><text x="449.5" y="754.3" text-anchor="middle">−3</text><text x="610.6" y="754.3" text-anchor="middle">−2</text><text x="773.0" y="754.3" text-anchor="middle">−1</text><text transform="translate(42.6 100.0) rotate(-90)" text-anchor="middle">5</text><text transform="translate(42.6 201.3) rotate(-90)" text-anchor="middle">4</text><text transform="translate(42.6 302.3) rotate(-90)" text-anchor="middle">3</text><text transform="translate(42.6 403.8) rotate(-90)" text-anchor="middle">2</text><text transform="translate(42.6 505.5) rotate(-90)" text-anchor="middle">1</text><text transform="translate(42.6 606.9) rotate(-90)" text-anchor="middle">0</text><text transform="translate(42.6 708.3) rotate(-90)" text-anchor="middle">−1</text>
</g>
<text x="422.5" y="782" font-size="17.6px" text-anchor="middle" textLength="88.5" lengthAdjust="spacingAndGlyphs">log(means)</text>
<text transform="translate(14.6 392.4) rotate(-90)" font-size="17px">log(cv<tspan dx="3.4">)</tspan></text>
</svg>
</body></html>
